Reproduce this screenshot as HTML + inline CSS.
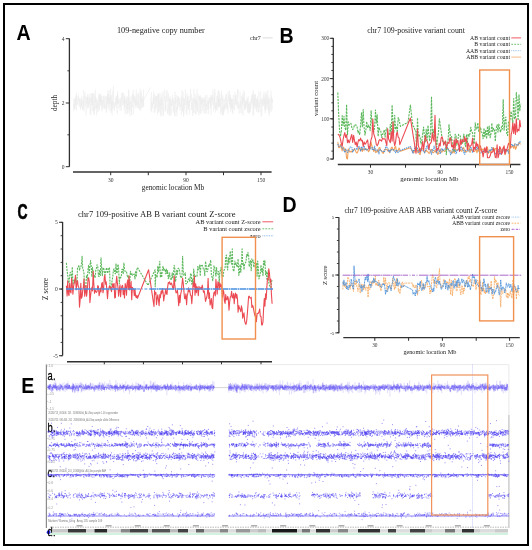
<!DOCTYPE html>
<html><head><meta charset="utf-8"><style>
html,body{margin:0;padding:0;background:#fff;}
svg{display:block;}
</style></head><body>
<svg width="532" height="550" viewBox="0 0 532 550">
<rect width="532" height="550" fill="#fff"/>
<rect x="4" y="4" width="524" height="541" fill="none" stroke="#000" stroke-width="2"/>
<text transform="translate(16.6,39.6) scale(0.91,1)" font-size="21.5" font-family="'Liberation Sans', sans-serif" font-weight="bold" fill="#000">A</text>
<text x="117" y="33.2" font-size="8.2" font-family="'Liberation Serif', serif" fill="#222" text-anchor="start" >109-negative copy number</text>
<text x="260.7" y="40" font-size="6" font-family="'Liberation Serif', serif" fill="#222" text-anchor="end" >chr7</text>
<line x1="262.6" y1="37.9" x2="272.7" y2="37.9" stroke="#dcdcdc" stroke-width="1" />
<polyline fill="none" stroke="#ebebeb" stroke-width=".4" stroke-linejoin="round"  points="73.5,104 73.7,111.1 73.8,101.1 74,97.9 74.1,100.1 74.3,107.5 74.5,102.8 74.6,109.5 74.8,99.9 74.9,99.3 75.1,109.3 75.3,99.2 75.4,103 75.6,97.7 75.7,102.3 75.9,106.1 76.1,95.5 76.2,99.2 76.4,92.6 76.5,110.5 76.7,101 76.9,101.3 77,95.9 77.2,103.9 77.3,103.3 77.5,104.7 77.7,104.1 77.8,99.7 78,102.2 78.1,104.8 78.3,94.5 78.5,100 78.6,97.4 78.8,98.3 78.9,100.6 79.1,98.3 79.3,98.4 79.4,107.1 79.6,99.5 79.7,101.9 79.9,103.1 80.1,102.8 80.2,99.1 80.4,102.9 80.5,109.6 80.7,102.3 80.9,107.7 81,103.1 81.2,99.2 81.3,97.3 81.5,106.5 81.7,96.3 81.8,102.9 82,105.5 82.1,101.5 82.3,101.8 82.5,110 82.6,106 82.8,110 82.9,99 83.1,103.6 83.3,100.1 83.4,108.3 83.6,96.3 83.7,90.1 83.9,101.5 84.1,111.4 84.2,108.5 84.4,95.6 84.5,98.4 84.7,95.4 84.9,92.1 85,100.1 85.2,106.3 85.3,95.7 85.5,101.8 85.7,100.8 85.8,100.6 86,101.2 86.1,115.4 86.3,100.3 86.5,97.1 86.6,104.3 86.8,101.9 86.9,101.5 87.1,96.7 87.3,102.4 87.4,94 87.6,108.6 87.7,97.5 87.9,102.4 88.1,106 88.2,100.7 88.4,108 88.5,105.9 88.7,105.5 88.9,95.8 89,104.3 89.2,93.7 89.3,100.8 89.5,102.2 89.7,97.8 89.8,100.9 90,114.2 90.1,98.2 90.3,99.3 90.5,103.6 90.6,105.1 90.8,115.4 90.9,101.4 91.1,93.6 91.3,105.2 91.4,97.1 91.6,102.1 91.7,102.7 91.9,93.1 92.1,103.9 92.2,110.7 92.4,93.7 92.5,105.8 92.7,103 92.9,99.4 93,111.4 93.2,93 93.3,114.4 93.5,113.5 93.7,107.2 93.8,106.9 94,93.4 94.1,106.4 94.3,110.1 94.5,106.6 94.6,115.2 94.8,94.5 94.9,109 95.1,110 95.3,89.4 95.4,101.1 95.6,101.7 95.7,97.4 95.9,108.2 96.1,99.7 96.2,102.2 96.4,98.4 96.5,115.2 96.7,105.5 96.9,109 97,102.9 97.2,107.5 97.3,102.6 97.5,107.9 97.7,100.3 97.8,112.3 98,109.7 98.1,100.5 98.3,100.9 98.5,95.3 98.6,93.7 98.8,111.1 98.9,99 99.1,97 99.3,96.3 99.4,109.8 99.6,94.9 99.7,101.4 99.9,99.2 100.1,93.3 100.2,106.3 100.4,95.4 100.5,102.9 100.7,98.6 100.9,104.9 101,94.4 101.2,101.8 101.3,96.7 101.5,96.2 101.7,109.4 101.8,99.9 102,111.3 102.1,102.3 102.3,100.2 102.5,99.9 102.6,105.8 102.8,100.9 102.9,101.7 103.1,96.2 103.3,108.6 103.4,106 103.6,104.5 103.7,99.6 103.9,95.3 104.1,107.4 104.2,96.7 104.4,101.8 104.5,105.3 104.7,109.2 104.9,106.8 105,108.8 105.2,100.1 105.3,99.3 105.5,96 105.7,107 105.8,105.1 106,107 106.1,112.3 106.3,110.2 106.5,96.5 106.6,112.6 106.8,106.7 106.9,97.2 107.1,97.1 107.3,106.9 107.4,94 107.6,96.1 107.7,103.8 107.9,90.3 108.1,101.2 108.2,94.5 108.4,109.2 108.5,94.6 108.7,101.6 108.9,104.5 109,94 109.2,90.6 109.3,102.2 109.5,104.6 109.7,97.4 109.8,111 110,97.3 110.1,97.9 110.3,103.5 110.5,98.4 110.6,88.7 110.8,104.3 110.9,113 111.1,95.3 111.3,107.1 111.4,102 111.6,111.3 111.7,95 111.9,101.2 112.1,115.6 112.2,102.1 112.4,102.9 112.5,101 112.7,108.5 112.9,90.8 113,104.4 113.2,98.9 113.3,92.3 113.5,86 113.7,99.7 113.8,109.4 114,102.7 114.1,105 114.3,111 114.5,108.4 114.6,103.3 114.8,102.7 114.9,102.2 115.1,102.7 115.3,106.7 115.4,105.4 115.6,103.6 115.7,97.1 115.9,105.2 116.1,98.9 116.2,108.2 116.4,95.9 116.5,101.8 116.7,102.5 116.9,95.6 117,111.5 117.2,110.1 117.3,114.4 117.5,91.3 117.7,104.5 117.8,93.4 118,103.8 118.1,102.2 118.3,102.9 118.5,97.8 118.6,101.1 118.8,101.6 118.9,108.7 119.1,104.2 119.3,102.5 119.4,102.1 119.6,99.6 119.7,100.5 119.9,100.8 120.1,110.7 120.2,98.4 120.4,107.3 120.5,106 120.7,103.1 120.9,103.6 121,97.2 121.2,101.4 121.3,102.8 121.5,110.4 121.7,93 121.8,102.2 122,99.5 122.1,99.2 122.3,93.1 122.5,105.1 122.6,102.9 122.8,100.7 122.9,94.6 123.1,92.1 123.3,101.5 123.4,100.5 123.6,104.9 123.7,101.4 123.9,103.1 124.1,94.2 124.2,109.6 124.4,95.7 124.5,107.1 124.7,98.5 124.9,105.5 125,113.3 125.2,100.9 125.3,99.4 125.5,103.5 125.7,102.5 125.8,97.3 126,104.9 126.1,113 126.3,114.7 126.5,101.4 126.6,108.4 126.8,104.2 126.9,96 127.1,96.7 127.3,109.2 127.4,97.8 127.6,113.9 127.7,110.4 127.9,103.8 128.1,105.4 128.2,112.7 128.4,89.4 128.5,99.4 128.7,105.6 128.9,90.4 129,110.2 129.2,107.5 129.3,97.6 129.5,98.1 129.7,107.5 129.8,116.4 130,101.4 130.1,111.3 130.3,104 130.5,100.9 130.6,102.3 130.8,103.6 130.9,95.9 131.1,101.2 131.3,112.2 131.4,115 131.6,102.8 131.7,114.8 131.9,104.5 132.1,99 132.2,95.2 132.4,106.9 132.5,106.2 132.7,101.7 132.9,93.6 133,100.6 133.2,90.2 133.3,105.8 133.5,114.2 133.7,107.3 133.8,98.4 134,94.9 134.1,102.2 134.3,101.6 134.5,96.5 134.6,103.1 134.8,96.5 134.9,108.3 135.1,108 135.3,108.1 135.4,100 135.6,105.2 135.7,101.8 135.9,96.8 136.1,106.3 136.2,89.5 136.4,95 136.5,104.7 136.7,101.5 136.9,103.6 137,107.7 137.2,93.5 137.3,98.4 137.5,103.4 137.7,104.5 137.8,100.5 138,107.9 138.1,103.6 138.3,94.1 138.5,97.7 138.6,106.7 138.8,104.9 138.9,92.6 139.1,109.5 139.3,105.6 139.4,109.5 139.6,105.3 139.7,101 139.9,96.6 140.1,97.7 140.2,88.6 140.4,110.8 140.5,99.1 140.7,103.4 140.9,93.8 141,100.5 141.2,90.5 141.3,96 141.5,108.1 141.7,104.3 141.8,97.1 142,108.3 142.1,100.1 142.3,102.2 142.5,99.7 142.6,98.2 142.8,106.3 142.9,97.2 143.1,95.8 143.3,102.2 143.4,107.1 143.6,89.2 143.7,102.5 143.9,106.2"/>
<polyline fill="none" stroke="#ebebeb" stroke-width=".4" stroke-linejoin="round"  points="150.5,97.9 150.7,102.3 150.8,110.9 151,106.3 151.1,103.8 151.3,97.8 151.5,91.9 151.6,112.3 151.8,102.2 151.9,106.5 152.1,104.7 152.3,108.3 152.4,103.4 152.6,105.7 152.7,103.4 152.9,102.4 153.1,98.6 153.2,103.6 153.4,94.6 153.5,104 153.7,91 153.9,95.2 154,112.5 154.2,111.9 154.3,102.6 154.5,101.4 154.7,94.1 154.8,107.1 155,112.7 155.1,106.2 155.3,109.1 155.5,105.3 155.6,97.4 155.8,109.5 155.9,96.1 156.1,101.4 156.3,95.7 156.4,107.1 156.6,104.7 156.7,104.5 156.9,98.5 157.1,95.8 157.2,99 157.4,98.8 157.5,114.5 157.7,108.6 157.9,100 158,92.9 158.2,112 158.3,94 158.5,103.4 158.7,104.6 158.8,112.9 159,94.7 159.1,99 159.3,107.2 159.5,101.4 159.6,100.8 159.8,111.4 159.9,92.5 160.1,95.3 160.3,95.7 160.4,104.2 160.6,104.1 160.7,115.4 160.9,97.4 161.1,116.4 161.2,105.5 161.4,99.2 161.5,105.7 161.7,105.5 161.9,93.2 162,106.1 162.2,110.2 162.3,99.5 162.5,98.7 162.7,101 162.8,106.4 163,114.8 163.1,91.1 163.3,116.1 163.5,112.6 163.6,107.5 163.8,108.9 163.9,107.6 164.1,103.3 164.3,96.5 164.4,98.8 164.6,98.8 164.7,89.4 164.9,93 165.1,106.2 165.2,112 165.4,97.8 165.5,110.1 165.7,104.6 165.9,110.6 166,102.4 166.2,96.2 166.3,97.6 166.5,91 166.7,93.6 166.8,102 167,97.3 167.1,89.9 167.3,101.9 167.5,113.9 167.6,109.2 167.8,112.3 167.9,108.8 168.1,98.4 168.3,100.7 168.4,93.3 168.6,96 168.7,114.3 168.9,113.1 169.1,103.1 169.2,111 169.4,98.6 169.5,116.1 169.7,97.8 169.9,96.5 170,96.1 170.2,110.1 170.3,114.8 170.5,98.4 170.7,98.8 170.8,106.2 171,100.8 171.1,106.7 171.3,115.2 171.5,104 171.6,105.7 171.8,99.5 171.9,100.4 172.1,105.2 172.3,100.2 172.4,95.1 172.6,101.7 172.7,97.5 172.9,103 173.1,104.9 173.2,112.8 173.4,98.3 173.5,107.6 173.7,106.4 173.9,111.4 174,106.9 174.2,100.7 174.3,110.1 174.5,116 174.7,110.3 174.8,99.1 175,91.6 175.1,116.3 175.3,110.7 175.5,97.1 175.6,103.4 175.8,101.4 175.9,103 176.1,94.8 176.3,99 176.4,112.5 176.6,107.7 176.7,108.7 176.9,116.3 177.1,114.7 177.2,98.8 177.4,103.8 177.5,109.4 177.7,96 177.9,109.4 178,97.6 178.2,105.3 178.3,102.2 178.5,95.9 178.7,100.7 178.8,99.8 179,100 179.1,106.4 179.3,105.9 179.5,99.5 179.6,97.8 179.8,104 179.9,102 180.1,110.4 180.3,104.2 180.4,106.9 180.6,102.3 180.7,101.6 180.9,97.9 181.1,97.8 181.2,97.3 181.4,114.9 181.5,100.3 181.7,106.4 181.9,90.2 182,101.5 182.2,96.2 182.3,111.1 182.5,106.3 182.7,111.8 182.8,106.6 183,91.4 183.1,101.2 183.3,106.2 183.5,116.6 183.6,97.7 183.8,108.6 183.9,114.7 184.1,104.7 184.3,106.5 184.4,109.2 184.6,99 184.7,104.7 184.9,97.9 185.1,98.9 185.2,99.2 185.4,89.1 185.5,103.3 185.7,104.9 185.9,95 186,113 186.2,109.8 186.3,106.4 186.5,100.6 186.7,102 186.8,115.1 187,114.5 187.1,93.6 187.3,103.4 187.5,96.9 187.6,106.7 187.8,107.8 187.9,104.5 188.1,101.9 188.3,109.8 188.4,96.2 188.6,103.4 188.7,110.3 188.9,101.4 189.1,100.3 189.2,105.7 189.4,100.1 189.5,106.9 189.7,114.5 189.9,107.2 190,95.8 190.2,96 190.3,101.9 190.5,88.7 190.7,93.5 190.8,96.8 191,100.1 191.1,93.6 191.3,96.5 191.5,96.8 191.6,110.2 191.8,103.1 191.9,109.9 192.1,101.1 192.3,97.8 192.4,102.1 192.6,116 192.7,107.5 192.9,102.5 193.1,102.8 193.2,99 193.4,108.7 193.5,112.8 193.7,92.1 193.9,89.1 194,99.9 194.2,106.4 194.3,113.5 194.5,101.8 194.7,98.9 194.8,102.6 195,93.6 195.1,95.5 195.3,106.8 195.5,99.9 195.6,110.2 195.8,114.6 195.9,106 196.1,96.8 196.3,113.9 196.4,106.1 196.6,100.6 196.7,106.4 196.9,104.7 197.1,89 197.2,110 197.4,101.6 197.5,112 197.7,101.6 197.9,101 198,100.2 198.2,93.7 198.3,100.6 198.5,102.3 198.7,105.2 198.8,115.3 199,105.9 199.1,96 199.3,100 199.5,95.8 199.6,112.9 199.8,110.6 199.9,108.2 200.1,100.4 200.3,100.9 200.4,95.2 200.6,112.9 200.7,114.2 200.9,98.8 201.1,113 201.2,96.7 201.4,97.9 201.5,104.4 201.7,104.1 201.9,97.8 202,103.2 202.2,104.6 202.3,98.6 202.5,103.2 202.7,111.2 202.8,104.2 203,99.1 203.1,102.2 203.3,97.6 203.5,103.9 203.6,107.1 203.8,103.9 203.9,113.5 204.1,110.5 204.3,99.9 204.4,103.5 204.6,97.1 204.7,98.1 204.9,99.8 205.1,113.8 205.2,100.4 205.4,110.8 205.5,99.6 205.7,94.6 205.9,105.9 206,103.5 206.2,107.2 206.3,103.6 206.5,110 206.7,114.2 206.8,105.6 207,95 207.1,101.8 207.3,102.1 207.5,101.2 207.6,109.8 207.8,107.1 207.9,100.5 208.1,109.4 208.3,107.9 208.4,101.3 208.6,114.2 208.7,101.9 208.9,97.7 209.1,104 209.2,103.3 209.4,100.5 209.5,99.5 209.7,98.2 209.9,102.2 210,99.6 210.2,97 210.3,107.2 210.5,108.7 210.7,100.1 210.8,106.6 211,94.9 211.1,114.7 211.3,95.8 211.5,100.4 211.6,100.8 211.8,99.8 211.9,100.2 212.1,98.5 212.3,105.1 212.4,95.1 212.6,99.1 212.7,100.4 212.9,89.4 213.1,95.4 213.2,96.5 213.4,102.4 213.5,111.2 213.7,105.4 213.9,97.3 214,98.4 214.2,97.7 214.3,104.8 214.5,91.9 214.7,108.9 214.8,100 215,88.8 215.1,104.3 215.3,112.6 215.5,105.5 215.6,108 215.8,103.2 215.9,108.9 216.1,109 216.3,102 216.4,110 216.6,103.4 216.7,103 216.9,95.8 217.1,101 217.2,111 217.4,95.7 217.5,105.9 217.7,106.2 217.9,103.9 218,91 218.2,102 218.3,108.4 218.5,98.5 218.7,106.1 218.8,90.1 219,106 219.1,99.1 219.3,107 219.5,92.9 219.6,100.5 219.8,101.3 219.9,106.7 220.1,97.7 220.3,99.3 220.4,114.2 220.6,98.2 220.7,98.8 220.9,101.1 221.1,111.8 221.2,108.7 221.4,90.6 221.5,98.8 221.7,93.5 221.9,104.9 222,113.1 222.2,106.8 222.3,115.6 222.5,98 222.7,101.6 222.8,95.3 223,115.3 223.1,107.6 223.3,105.9 223.5,114.4 223.6,111.4 223.8,99.2 223.9,106.6 224.1,111.9 224.3,105 224.4,105.8 224.6,104.4 224.7,109.7 224.9,99.9 225.1,98.5 225.2,107.8 225.4,109.1 225.5,96.8 225.7,100.5 225.9,93.5 226,105.6 226.2,103.1 226.3,108.5 226.5,106.2 226.7,94.4 226.8,104.6 227,107.2 227.1,104.9 227.3,107.9 227.5,99.6 227.6,110.2 227.8,107.3 227.9,113.7 228.1,91.3 228.3,91.5 228.4,98.7 228.6,100.9 228.7,95.2 228.9,95.6 229.1,96.5 229.2,100.6 229.4,104.4 229.5,90.6 229.7,107.3 229.9,97.6 230,97 230.2,106 230.3,102.1 230.5,94.5 230.7,112.1 230.8,98 231,103.8 231.1,103.5 231.3,109.8 231.5,100.1 231.6,107.7 231.8,98.6 231.9,108.3 232.1,98.5 232.3,100.6 232.4,112.4 232.6,104.1 232.7,103.1 232.9,114.2 233.1,104.4 233.2,98.3 233.4,95 233.5,103 233.7,108.4 233.9,108.8 234,99.5 234.2,99.2 234.3,103.4 234.5,102.6 234.7,110.4 234.8,101.9 235,91.9 235.1,100.2 235.3,100.4 235.5,95.4 235.6,104.1 235.8,97.8 235.9,105.6 236.1,101.6 236.3,94.7 236.4,95.4 236.6,96.3 236.7,104.4 236.9,100.8 237.1,102.8 237.2,108 237.4,107.9 237.5,89.4 237.7,96 237.9,96.9 238,89.3 238.2,109.1 238.3,101.8 238.5,102.6 238.7,108.7 238.8,106.9 239,106.2 239.1,114 239.3,104.6 239.5,103.7 239.6,103.7 239.8,107.6 239.9,99.8 240.1,91.8 240.3,101.9 240.4,107.6 240.6,102 240.7,101.2 240.9,113.1 241.1,100.9 241.2,95.9 241.4,98.8 241.5,100.9 241.7,113.7 241.9,113.3 242,107.4 242.2,97.3 242.3,104.3 242.5,93.8 242.7,103.2 242.8,98.9 243,105.6 243.1,115.6 243.3,97.2 243.5,98.1 243.6,101.1 243.8,90.4 243.9,105.6 244.1,105.3 244.3,100.2 244.4,91.9 244.6,110.2 244.7,103.9 244.9,108.2 245.1,109.8 245.2,99.8 245.4,106.7 245.5,101.2 245.7,108.4 245.9,108.7 246,102.5 246.2,108.3 246.3,103.1 246.5,101.7 246.7,101.1 246.8,104.3 247,97.8 247.1,103.4 247.3,102.2 247.5,100.6 247.6,111.9 247.8,99.3 247.9,112.9 248.1,96.2 248.3,104.8 248.4,106.9 248.6,113.9 248.7,104.2 248.9,107.9 249.1,104.1 249.2,104.1 249.4,113.7 249.5,102.4 249.7,108.4 249.9,112.1 250,106.1 250.2,101.8 250.3,111.9 250.5,100.8 250.7,102.2 250.8,108.5 251,109 251.1,98.9 251.3,100.7 251.5,95.2 251.6,103.2 251.8,102 251.9,100.7 252.1,98.9 252.3,100.5 252.4,94.5 252.6,105.3 252.7,93 252.9,92.5 253.1,115.8 253.2,91.2 253.4,90 253.5,97.6 253.7,114.6 253.9,97.1 254,107.5 254.2,103 254.3,94.1 254.5,104.4 254.7,107.8 254.8,94.4 255,105.6 255.1,104 255.3,101.7 255.5,94.3 255.6,108.8 255.8,106.1 255.9,98.4 256.1,97.9 256.3,109.9 256.4,98.7 256.6,103.6 256.7,112 256.9,99.9 257.1,104.2 257.2,102.7 257.4,107.6 257.5,96.2 257.7,107.3 257.9,98.9 258,102.1 258.2,112.9 258.3,106.7 258.5,112.1 258.7,102.7 258.8,98.2 259,91.4 259.1,105.9 259.3,107.1 259.5,102.5 259.6,106.2 259.8,102 259.9,112 260.1,109.6 260.3,99.7 260.4,102 260.6,95.8 260.7,91.3 260.9,103.3 261.1,116.6 261.2,100 261.4,100.9 261.5,99 261.7,103.1 261.9,115.6 262,110.3 262.2,100.6 262.3,104.3 262.5,101.6 262.7,97.9 262.8,106.6 263,99.7 263.1,99.9 263.3,95.3 263.5,98.4 263.6,105.9 263.8,94.1 263.9,91.4 264.1,104 264.3,101 264.4,103.7 264.6,96.7 264.7,109.3 264.9,98 265.1,113.2 265.2,93.4 265.4,97.1 265.5,111 265.7,99.6 265.9,104 266,109 266.2,91.6 266.3,101.5 266.5,102.5 266.7,104.7 266.8,94.6 267,107.4 267.1,109.4 267.3,96.5 267.5,95.5 267.6,104.3 267.8,99.1 267.9,90.2 268.1,110 268.3,108.4 268.4,100 268.6,113.5 268.7,103.2 268.9,98.6 269.1,103 269.2,97.1 269.4,115.9 269.5,104.5 269.7,99.6 269.9,100.2 270,111.2 270.2,107 270.3,105.5 270.5,105.2 270.7,105 270.8,99.7 271,90.5 271.1,112.1 271.3,97.6 271.5,101.2 271.6,95.3 271.8,100.7 271.9,105.2 272.1,110 272.3,99.1 272.4,102.5 272.6,100.6 272.7,98.7"/>
<polyline fill="none" stroke="#e4e4e4" stroke-width=".5" stroke-linejoin="round"  points="144,99 150.5,87.5"/>
<line x1="69.4" y1="38.4" x2="69.4" y2="166.8" stroke="#303030" stroke-width="1.3" />
<line x1="67.4" y1="70.8" x2="69.4" y2="70.8" stroke="#303030" stroke-width=".9" />
<line x1="67.4" y1="134.8" x2="69.4" y2="134.8" stroke="#303030" stroke-width=".9" />
<line x1="65.8" y1="38.7" x2="69.4" y2="38.7" stroke="#303030" stroke-width="1" />
<line x1="65.8" y1="103" x2="69.4" y2="103" stroke="#303030" stroke-width="1" />
<line x1="65.8" y1="166.7" x2="69.4" y2="166.7" stroke="#303030" stroke-width="1" />
<text x="64.6" y="40.6" font-size="5.5" font-family="'Liberation Serif', serif" fill="#333" text-anchor="end" >4</text>
<text x="64.6" y="104.9" font-size="5.5" font-family="'Liberation Serif', serif" fill="#333" text-anchor="end" >2</text>
<text x="64.6" y="168.6" font-size="5.5" font-family="'Liberation Serif', serif" fill="#333" text-anchor="end" >0</text>
<line x1="73" y1="172" x2="271.6" y2="172" stroke="#303030" stroke-width="1.4" />
<line x1="110.7" y1="172" x2="110.7" y2="175.2" stroke="#303030" stroke-width="1" />
<line x1="148.3" y1="172" x2="148.3" y2="175.2" stroke="#303030" stroke-width="1" />
<line x1="186" y1="172" x2="186" y2="175.2" stroke="#303030" stroke-width="1" />
<line x1="223.5" y1="172" x2="223.5" y2="175.2" stroke="#303030" stroke-width="1" />
<line x1="261" y1="172" x2="261" y2="175.2" stroke="#303030" stroke-width="1" />
<text x="110.7" y="181.6" font-size="5.5" font-family="'Liberation Serif', serif" fill="#333" text-anchor="middle" >30</text>
<text x="186" y="181.6" font-size="5.5" font-family="'Liberation Serif', serif" fill="#333" text-anchor="middle" >90</text>
<text x="261" y="181.6" font-size="5.5" font-family="'Liberation Serif', serif" fill="#333" text-anchor="middle" >150</text>
<text x="173" y="189.7" font-size="7.3" font-family="'Liberation Serif', serif" fill="#222" text-anchor="middle" >genomic location Mb</text>
<text transform="translate(54.5,103) rotate(-90)" font-size="7.2" font-family="'Liberation Serif', serif" fill="#222" text-anchor="middle" dominant-baseline="central">depth</text>
<text transform="translate(279.4,42.7) scale(0.91,1)" font-size="21.5" font-family="'Liberation Sans', sans-serif" font-weight="bold" fill="#000">B</text>
<text x="367.2" y="33.4" font-size="7.8" font-family="'Liberation Serif', serif" fill="#222" text-anchor="start" >chr7 109-positive variant count</text>
<text x="510" y="39.9" font-size="5.8" font-family="'Liberation Serif', serif" fill="#222" text-anchor="end" >AB variant count</text>
<line x1="511.3" y1="37.9" x2="521.1" y2="37.9" stroke="#ec4a52" stroke-width=".9" />
<text x="510" y="46.3" font-size="5.8" font-family="'Liberation Serif', serif" fill="#222" text-anchor="end" >B variant count</text>
<line x1="511.3" y1="44.3" x2="521.1" y2="44.3" stroke="#5cb85c" stroke-width=".9" stroke-dasharray="1.8,1.2"/>
<text x="510" y="52.7" font-size="5.8" font-family="'Liberation Serif', serif" fill="#222" text-anchor="end" >AAB variant count</text>
<line x1="511.3" y1="50.7" x2="521.1" y2="50.7" stroke="#78aee6" stroke-width=".9" stroke-dasharray="0.8,0.9"/>
<text x="510" y="59.1" font-size="5.8" font-family="'Liberation Serif', serif" fill="#222" text-anchor="end" >ABB variant count</text>
<line x1="511.3" y1="57.1" x2="521.1" y2="57.1" stroke="#f5b27a" stroke-width=".9" />
<polyline fill="none" stroke="#f2a05a" stroke-width="1.1" stroke-linejoin="round"  points="337.8,142.1 338.7,147.7 339.6,147.4 340.5,144.4 341.3,147.6 342.2,150.9 343.1,147.1 344,147.9 344.8,151.5 345.7,149 346.6,158.2 347.5,159 348.3,148.9 349.2,151 350.1,152.1 351,151.2 351.8,152 352.7,150.4 353.6,150.1 354.5,148.7 355.3,150.3 356.2,152.4 357.1,152.9 358,151.3 358.8,147.7 359.7,147.8 360.6,150.4 361.5,148.5 362.3,151.5 363.2,148.7 364.1,150.2 365,148.7 365.8,148.5 366.7,150 367.6,149.4 368.5,151.7 369.3,150.6 370.2,148.3 371.1,142.4 372,146.5 372.8,148.8 373.7,151.4 374.6,148.6 375.5,152.5 376.3,152.2 377.2,150.1 378.1,152.1 379,148 379.8,147.5 380.7,150.3 381.6,151.1 382.5,152.7 383.3,153.3 384.2,150.3 385.1,149.1 386,149.2 386.8,149.4 387.7,150.9 388.6,149.7 389.5,152.6 390.3,150.8 391.2,147.8 392.1,147.1 393,150 393.8,150.7 394.7,147.9 395.6,146.4 396.5,151.6 397.3,151.3 398.2,150.1 399.1,148 400.4,151.3 410.4,147.7 413.1,152.4 413.1,150.9 414,152.6 414.8,150.1 415.7,148.8 416.6,150.3 417.5,152.2 418.3,149.5 419.2,153.6 420.1,154.6 421,150.3 421.8,149.2 422.7,148.3 423.6,150.1 424.5,152.4 425.3,151.9 426.2,149.8 427.1,151.5 428,151.9 428.8,153.2 429.7,153.2 430.6,149.8 431.5,149.4 432.3,152.1 433.2,152.8 434.1,152.1 435,149.9 435.8,152.3 436.7,151.3 437.6,154.4 438.5,153.8 439.3,150.7 440.2,148.9 441.1,152 442,152.2 442.8,149.6 443.7,150.9 444.6,151.5 445.5,149.9 446.3,149.9 447.2,148.4 448.1,148.5 449,150.9 449.8,150.8 450.7,150.7 451.6,152.9 452.5,152.9 453.3,149.5 454.2,153 455.1,149.5 456,149.7 456.8,150.5 457.7,149.6 458.6,149.4 459.5,148.1 460.3,150.5 461.2,150.9 462.1,151.1 463,147.4 463.8,148 464.7,151.4 465.6,151.4 466.5,152 467.3,151 468.2,150.3 469.1,146.5 470,152.5 470.8,149.4 471.7,149.5 472.6,151.5 473.5,151.1 474.3,151.6 475.2,150.8 476.1,148.9 477,152.8 477.8,149 478.7,151.1 479.6,148.7 480.5,149.9 481.3,148.8 482.2,149.6 483.1,148.9 484,150.5 484.8,152.5 485.7,150.5 486.6,149.8 487.5,147.1 488.3,153.4 489.2,152.2 490.1,149.6 491,152.8 491.8,152 492.7,147.7 493.6,147.6 494.5,151.5 495.3,148.7 496.2,148.2 497.1,148.8 498,149.6 498.8,150.1 499.7,152.1 500.6,152.1 501.5,149.9 502.3,150.3 503.2,147.4 504.1,150.3 505,154.7 505.8,152.5 506.7,150.7 507.6,150 508.5,149.9 509.3,150.3 510.2,145.6 511.1,147.7 512,145.7 512.8,146.7 513.7,148.3 514.6,144 515.5,149.3 516.3,147.8 517.2,144.8 518.1,145.1 519,143 519.8,143.6 520.7,144.2"/>
<polyline fill="none" stroke="#4a90d9" stroke-width="1.1" stroke-linejoin="round" stroke-dasharray="1.2,0.8" points="337.8,144.1 338.7,146.4 339.6,146.1 340.5,146 341.3,145.8 342.2,148.4 343.1,148.2 344,150.9 344.8,152.5 345.7,149.4 346.6,149.6 347.5,152.3 348.3,151.8 349.2,150.2 350.1,147 351,147 351.8,147.4 352.7,152 353.6,150.4 354.5,149 355.3,148.7 356.2,148.6 357.1,149.7 358,146.5 358.8,146.1 359.7,148.7 360.6,151 361.5,146.5 362.3,149.6 363.2,147.5 364.1,145.7 365,150 365.8,149.2 366.7,150.1 367.6,148.9 368.5,148.8 369.3,146 370.2,147.5 371.1,149 372,147.5 372.8,149.5 373.7,150.2 374.6,146 375.5,150 376.3,150.6 377.2,149.9 378.1,151.6 379,153.9 379.8,149.1 380.7,150.9 381.6,151 382.5,150.7 383.3,151.7 384.2,152.2 385.1,150.2 386,145.7 386.8,147.3 387.7,147.7 388.6,151.7 389.5,150.4 390.3,152 391.2,149.1 392.1,150 393,149.8 393.8,149.9 394.7,150.8 395.6,152.7 396.5,149.7 397.3,152.1 398.2,152.5 399.1,151.1 400.4,150.5 410.4,146.5 413.1,153.3 413.1,150.5 414,151 414.8,146.9 415.7,147.5 416.6,146.7 417.5,148.8 418.3,152.1 419.2,152.5 420.1,149.5 421,148.1 421.8,150.7 422.7,150.6 423.6,149.7 424.5,152.9 425.3,151.5 426.2,147.6 427.1,145.5 428,148.8 428.8,146.5 429.7,149.8 430.6,151.4 431.5,154.3 432.3,149.6 433.2,150.5 434.1,146.1 435,148.3 435.8,149.2 436.7,152.9 437.6,148.3 438.5,150.1 439.3,150.4 440.2,154 441.1,149.6 442,148.2 442.8,150.6 443.7,150.1 444.6,149.4 445.5,148.2 446.3,149.3 447.2,146.9 448.1,149.6 449,151 449.8,151.2 450.7,154.8 451.6,152.9 452.5,149.2 453.3,149.4 454.2,151.3 455.1,149.9 456,153.6 456.8,151.7 457.7,149.7 458.6,148.8 459.5,151.1 460.3,148.9 461.2,146.5 462.1,149.8 463,148.8 463.8,152.5 464.7,154.3 465.6,150.4 466.5,150.2 467.3,149.8 468.2,151.1 469.1,151 470,149 470.8,146.9 471.7,149.6 472.6,152.9 473.5,148.8 474.3,148.8 475.2,148.6 476.1,149.5 477,146 477.8,148.9 478.7,149.3 479.6,153.7 480.5,152.9 481.3,152.8 482.2,151.6 483.1,150.6 484,152.1 484.8,148.3 485.7,152 486.6,152 487.5,150.8 488.3,153 489.2,150.5 490.1,149.6 491,150.9 491.8,147.5 492.7,149.6 493.6,149.9 494.5,152.1 495.3,154 496.2,152.7 497.1,151.8 498,151.7 498.8,149.5 499.7,154.3 500.6,153.6 501.5,154.5 502.3,149.3 503.2,151.1 504.1,151.5 505,152.6 505.8,149.4 506.7,150.7 507.6,150 508.5,153.3 509.3,147.7 510.2,146.5 511.1,145.6 512,144 512.8,145.7 513.7,146 514.6,144.3 515.5,144 516.3,144.9 517.2,144.4 518.1,145 519,142.8 519.8,141.5 520.7,142.5"/>
<polyline fill="none" stroke="#5cb85c" stroke-width="1.1" stroke-linejoin="round" stroke-dasharray="2.2,1" points="337.8,92.5 338.7,114.7 339.6,130.8 340.5,136.4 341.3,131.9 342.2,115.6 343.1,125.7 344,116.4 344.8,127.2 345.7,130.2 346.6,104.6 347.5,134.8 348.3,121.7 349.2,125.1 350.1,123.6 351,123.3 351.8,127.5 352.7,129.6 353.6,128.3 354.5,124.7 355.3,125.1 356.2,125 357.1,126.9 358,132.8 358.8,131.3 359.7,134.9 360.6,124.4 361.5,112.7 362.3,126.8 363.2,109.5 364.1,127.5 365,135.1 365.8,130.5 366.7,121.7 367.6,127.9 368.5,125 369.3,127.2 370.2,130.6 371.1,110.8 372,123.8 372.8,130.6 373.7,132 374.6,127.2 375.5,110 376.3,123.3 377.2,114.7 378.1,136.3 379,127.3 379.8,129.9 380.7,130.4 381.6,137.5 382.5,133.9 383.3,133.9 384.2,129.8 385.1,137.1 386,130 386.8,127.8 387.7,134.5 388.6,133.3 389.5,134.3 390.3,124.2 391.2,134.7 392.1,105 393,122.7 393.8,133.1 394.7,115.2 395.6,129.4 396.5,126 397.3,132.5 398.2,117.5 399.1,120 400.4,126.4 408,122.3 410.4,105 412.2,121.6 413.1,126.3 414,127 414.8,129.6 415.7,129.6 416.6,149.3 417.5,117.8 418.3,136.3 419.2,134.9 420.1,136.9 421,144 421.8,140.9 422.7,133.2 423.6,127 424.5,137.5 425.3,141.9 426.2,129.3 427.1,139.9 428,125.4 428.8,133.7 429.7,141.3 430.6,132.4 431.5,96.5 432.3,134.8 433.2,129.6 434.1,137.2 435,128.8 435.8,137.7 436.7,147 437.6,137.3 438.5,132.4 439.3,118.7 440.2,124.7 441.1,130.9 442,138 442.8,141.5 443.7,141.1 444.6,144.2 445.5,141.8 446.3,154.6 447.2,141.9 448.1,140 449,124.5 449.8,131.2 450.7,140.3 451.6,136.5 452.5,146 453.3,144.7 454.2,151.8 455.1,134.2 456,134.7 456.8,145.2 457.7,141.3 458.6,134.3 459.5,135.3 460.3,136.1 461.2,143.6 462.1,144.1 463,140 463.8,134.1 464.7,142.8 465.6,146.7 466.5,134.4 467.3,143.4 468.2,133.9 469.1,136.4 470,133.3 470.8,127.4 471.7,132.1 472.6,132.7 473.5,142.8 474.3,144 475.2,122.7 476.1,129.3 477,128.3 477.8,122.7 478.7,131.2 479.6,132.6 480.5,127.3 481.3,131.7 482.2,133 483.1,138.8 484,128 484.8,137.1 485.7,129.8 486.6,138.9 487.5,126.2 488.3,135.2 489.2,126.1 490.1,137.8 491,133.7 491.8,122.9 492.7,131.5 493.6,128.3 494.5,130.4 495.3,141.4 496.2,128.6 497.1,124.5 498,132.2 498.8,124.1 499.7,129.8 500.6,132.3 501.5,126.7 502.3,129.2 503.2,99.5 504.1,130.2 505,121 505.8,117 506.7,133.2 507.6,135.6 508.5,122.1 509.3,123.5 510.2,117.7 511.1,111.2 512,118 512.8,123.2 513.7,98.5 514.6,118.8 515.5,118 516.3,92.5 517.2,101 518.1,120.6 519,94.5 519.8,110.6 520.7,103.8"/>
<polyline fill="none" stroke="#ec4a52" stroke-width="1.1" stroke-linejoin="round"  points="337.8,134.1 338.7,134.8 339.6,136.2 340.5,139.4 341.3,143.1 342.2,146.3 343.1,139.5 344,135.4 344.8,132.6 345.7,137.4 346.6,134.7 347.5,142.7 348.3,140 349.2,142.8 350.1,140.1 351,136.8 351.8,134.5 352.7,142.5 353.6,135.4 354.5,140.6 355.3,144.6 356.2,142.1 357.1,146.9 358,142.1 358.8,139.5 359.7,140.8 360.6,138.1 361.5,140.9 362.3,140.4 363.2,146.4 364.1,141.9 365,144.3 365.8,143.4 366.7,141.6 367.6,139.9 368.5,147.2 369.3,149 370.2,144.2 371.1,139.5 372,136.8 372.8,118.7 373.7,133.6 374.6,136.3 375.5,139.3 376.3,144.5 377.2,145.7 378.1,144.1 379,140.5 379.8,139.6 380.7,140.3 381.6,141.2 382.5,138.1 383.3,139 384.2,138.9 385.1,138.8 386,142.5 386.8,145.6 387.7,128.8 388.6,138.8 389.5,141.1 390.3,142.7 391.2,131.7 392.1,141.3 393,121.9 393.8,140.1 394.7,145.7 395.6,142.1 396.5,134 397.3,132 398.2,137.1 399.1,137.9 399.8,144.6 410.4,118 416,153.5 417.5,129.3 418.3,145.6 419.2,148.1 420.1,151.8 421,149.6 421.8,147.3 422.7,141.3 423.6,150.3 424.5,142.1 425.3,135.6 426.2,139.7 427.1,141.1 428,143.9 428.8,149.7 429.7,144.2 430.6,143.2 431.5,141.4 432.3,133.1 433.2,138.4 434.1,141.3 435,115.2 435.8,143.7 436.7,151 437.6,148.5 438.5,148.9 439.3,143.4 440.2,146 441.1,138.1 442,136.7 442.8,139.4 443.7,145.1 444.6,142.6 445.5,141 446.3,148.5 447.2,144.8 448.1,142.2 449,143.5 449.8,138.1 450.7,138 451.6,146.7 452.5,145.2 453.3,148.9 454.2,139.8 455.1,148.6 456,138.5 456.8,142.9 457.7,140.6 458.6,144.6 459.5,151.4 460.3,139.8 461.2,144.5 462.1,139.4 463,141.8 463.8,141.6 464.7,136.6 465.6,141.4 466.5,138.4 467.3,149.7 468.2,143.1 469.1,145.9 470,146.3 470.8,145.8 471.7,144.2 472.6,138.2 473.5,151.3 474.3,147.2 475.2,149.1 476.1,141.8 477,146.3 477.8,144 478.7,148.8 479.6,147.2 480.5,145.9 481.3,151.2 482.2,150.9 483.1,157 484,151.6 484.8,147.7 485.7,152.5 486.6,146.9 487.5,157.8 488.3,157.8 489.2,157.8 490.1,156.1 491,152.7 491.8,152.2 492.7,152 493.6,148.6 494.5,152.7 495.3,157.3 496.2,157.8 497.1,144.8 498,157.8 498.8,154.9 499.7,146.6 500.6,148.2 501.5,154.3 502.3,152.6 503.2,148.5 504.1,145.8 505,154 505.8,149.4 506.7,150.2 507.6,146.9 508.5,143.3 509.3,144.5 510.2,148.2 511.1,134.8 512,131.1 512.8,122.7 513.7,133.4 514.6,123.7 515.5,134.4 516.3,118.7 517.2,131.9 518.1,129.4 519,130.8 519.8,120 520.7,127.2"/>
<line x1="333.3" y1="38.1" x2="333.3" y2="159.2" stroke="#303030" stroke-width="1.3" />
<line x1="331.3" y1="38.3" x2="333.3" y2="38.3" stroke="#303030" stroke-width=".9" />
<line x1="331.3" y1="46.4" x2="333.3" y2="46.4" stroke="#303030" stroke-width=".9" />
<line x1="331.3" y1="54.4" x2="333.3" y2="54.4" stroke="#303030" stroke-width=".9" />
<line x1="331.3" y1="62.5" x2="333.3" y2="62.5" stroke="#303030" stroke-width=".9" />
<line x1="331.3" y1="70.5" x2="333.3" y2="70.5" stroke="#303030" stroke-width=".9" />
<line x1="331.3" y1="78.6" x2="333.3" y2="78.6" stroke="#303030" stroke-width=".9" />
<line x1="331.3" y1="86.7" x2="333.3" y2="86.7" stroke="#303030" stroke-width=".9" />
<line x1="331.3" y1="94.7" x2="333.3" y2="94.7" stroke="#303030" stroke-width=".9" />
<line x1="331.3" y1="102.8" x2="333.3" y2="102.8" stroke="#303030" stroke-width=".9" />
<line x1="331.3" y1="110.8" x2="333.3" y2="110.8" stroke="#303030" stroke-width=".9" />
<line x1="331.3" y1="118.9" x2="333.3" y2="118.9" stroke="#303030" stroke-width=".9" />
<line x1="331.3" y1="127" x2="333.3" y2="127" stroke="#303030" stroke-width=".9" />
<line x1="331.3" y1="135" x2="333.3" y2="135" stroke="#303030" stroke-width=".9" />
<line x1="331.3" y1="143.1" x2="333.3" y2="143.1" stroke="#303030" stroke-width=".9" />
<line x1="331.3" y1="151.1" x2="333.3" y2="151.1" stroke="#303030" stroke-width=".9" />
<line x1="331.3" y1="159.2" x2="333.3" y2="159.2" stroke="#303030" stroke-width=".9" />
<line x1="329.7" y1="38.3" x2="333.3" y2="38.3" stroke="#303030" stroke-width="1" />
<line x1="329.7" y1="78.6" x2="333.3" y2="78.6" stroke="#303030" stroke-width="1" />
<line x1="329.7" y1="118.8" x2="333.3" y2="118.8" stroke="#303030" stroke-width="1" />
<line x1="329.7" y1="159" x2="333.3" y2="159" stroke="#303030" stroke-width="1" />
<text x="329.1" y="40.2" font-size="5.2" font-family="'Liberation Serif', serif" fill="#333" text-anchor="end" >300</text>
<text x="329.1" y="80.5" font-size="5.2" font-family="'Liberation Serif', serif" fill="#333" text-anchor="end" >200</text>
<text x="329.1" y="120.7" font-size="5.2" font-family="'Liberation Serif', serif" fill="#333" text-anchor="end" >100</text>
<text x="329.1" y="160.9" font-size="5.2" font-family="'Liberation Serif', serif" fill="#333" text-anchor="end" >0</text>
<line x1="337.8" y1="164.5" x2="520.4" y2="164.5" stroke="#303030" stroke-width="1.4" />
<line x1="370.5" y1="164.5" x2="370.5" y2="167.7" stroke="#303030" stroke-width="1" />
<line x1="405.5" y1="164.5" x2="405.5" y2="167.7" stroke="#303030" stroke-width="1" />
<line x1="440.5" y1="164.5" x2="440.5" y2="167.7" stroke="#303030" stroke-width="1" />
<line x1="475.5" y1="164.5" x2="475.5" y2="167.7" stroke="#303030" stroke-width="1" />
<line x1="510.5" y1="164.5" x2="510.5" y2="167.7" stroke="#303030" stroke-width="1" />
<text x="370.5" y="174" font-size="5.4" font-family="'Liberation Serif', serif" fill="#333" text-anchor="middle" >30</text>
<text x="440.3" y="174" font-size="5.4" font-family="'Liberation Serif', serif" fill="#333" text-anchor="middle" >90</text>
<text x="509.5" y="174" font-size="5.4" font-family="'Liberation Serif', serif" fill="#333" text-anchor="middle" >150</text>
<text x="429.3" y="181" font-size="6.8" font-family="'Liberation Serif', serif" fill="#222" text-anchor="middle" >genomic location Mb</text>
<text transform="translate(315,98.5) rotate(-90)" font-size="6.7" font-family="'Liberation Serif', serif" fill="#222" text-anchor="middle" dominant-baseline="central">variant count</text>
<rect x="479.7" y="70" width="29.8" height="94.5" fill="none" stroke="#f0904e" stroke-width="1.4"/>
<text transform="translate(17.4,218.6) scale(0.65,1)" font-size="21.5" font-family="'Liberation Sans', sans-serif" font-weight="bold" fill="#000" stroke="#000" stroke-width="0.6">C</text>
<text x="78" y="217.4" font-size="8.6" font-family="'Liberation Serif', serif" fill="#222" text-anchor="start" >chr7 109-positive AB B variant count Z-score</text>
<text x="260.7" y="223.8" font-size="6.4" font-family="'Liberation Serif', serif" fill="#222" text-anchor="end" >AB variant count Z-score</text>
<line x1="262.4" y1="221.8" x2="273.2" y2="221.8" stroke="#ec4a52" stroke-width=".9" />
<text x="260.7" y="230.8" font-size="6.4" font-family="'Liberation Serif', serif" fill="#222" text-anchor="end" >B variant count zscore</text>
<line x1="262.4" y1="228.8" x2="273.2" y2="228.8" stroke="#5cb85c" stroke-width=".9" stroke-dasharray="1.8,1.2"/>
<text x="260.7" y="237.8" font-size="6.4" font-family="'Liberation Serif', serif" fill="#222" text-anchor="end" >zero</text>
<line x1="262.4" y1="235.8" x2="273.2" y2="235.8" stroke="#6aa4e0" stroke-width=".9" stroke-dasharray="0.8,0.9"/>
<polyline fill="none" stroke="#5cb85c" stroke-width="1.1" stroke-linejoin="round" stroke-dasharray="2,1" points="66.4,262.9 67.1,271.4 67.7,274.8 68.4,281.8 69,283 69.7,275.2 70.3,272.2 71,274.1 71.6,279.2 72.3,267 72.9,284.8 73.6,281.8 74.2,280 74.9,282.7 75.5,277.9 76.2,280.7 76.9,282.7 77.5,268.1 78.2,267.8 78.8,264.9 79.5,270.5 80.1,267.5 80.8,267.3 81.4,264.6 82.1,256.4 82.7,268.3 83.4,270.7 84,273.6 84.7,293 85.3,292.8 86,283.1 86.6,275.1 87.3,278.6 88,270 88.6,265.3 89.3,273.2 89.9,265.9 90.6,260.6 91.2,265.9 91.9,276.9 92.5,267.2 93.2,272.6 93.8,276.2 94.5,274.9 95.1,278.2 95.8,270.1 96.4,268.2 97.1,264.7 97.8,266.9 98.4,276.1 99.1,276.5 99.7,270.4 100.4,275.4 101,257.8 101.7,268.7 102.3,275.6 103,268.4 103.6,267.5 104.3,271.8 104.9,274.9 105.6,272.3 106.2,268.8 106.9,267.6 107.5,273.4 108.2,271.6 108.9,268.4 109.5,267.4 110.2,289.9 110.8,286.9 111.5,284.9 112.1,280.7 112.8,276.4 113.4,270 114.1,268.9 114.7,272.9 115.4,273.7 116,263.8 116.7,273.4 117.3,272.3 118,264.3 118.6,267.9 119.3,283.8 120,276.5 120.6,277.8 121.3,276.7 121.9,269.3 122.6,269.4 123.2,273.8 123.9,263 124.5,269.4 125.2,271.6 125.8,271.4 126.5,271.6 127.1,275.2 127.8,277.5 128.4,275.7 129.1,280.7 129.7,284.8 130.4,271.3 131.1,274.5 131.7,273 132.4,275.3 133,274.6 133.7,274.4 134.3,274 135,279 135.6,270.9 136.3,276.9 136.9,269.3 137.5,267.5 148,285.3 155.1,269.8 155.2,286.7 155.9,274.9 156.5,276.9 157.2,277 157.8,266.3 158.5,272.4 159.1,266.7 159.8,261.4 160.4,277.5 161.1,272.9 161.7,277.4 162.4,268.6 163.1,266.2 163.7,270.5 164.4,269.2 165,268.9 165.7,273.8 166.3,269 167,273.5 167.6,270.6 168.3,278.6 168.9,275.9 169.6,272.9 170.2,278.7 170.9,279.1 171.5,280 172.2,272.9 172.8,278.3 173.5,273.9 174.2,265.4 174.8,268.5 175.5,281.7 176.1,277.3 176.8,269.8 177.4,274.4 178.1,268.2 178.7,268.3 179.4,269.5 180,274.2 180.7,277.7 181.3,277.8 182,276 182.6,256.2 183.3,271.4 183.9,275.3 184.6,274.9 185.3,272.8 185.9,283.8 186.6,283.7 187.2,283.8 187.9,280.4 188.5,279.2 189.2,278.6 189.8,282 190.5,274.4 191.1,273.3 191.8,284.2 192.4,279.3 193.1,283.9 193.7,269.1 194.4,275.3 195,276.7 195.7,276 196.4,276.8 197,276.3 197.7,266.5 198.3,269.9 199,267.7 199.6,265 200.3,276.1 200.9,265.4 201.6,266.4 202.2,265.3 202.9,266.8 203.5,270.1 204.2,270 204.8,275.6 205.5,261.3 206.1,265 206.8,271.5 207.5,271.7 208.1,267.5 208.8,264.3 209.4,266.1 210.1,263 210.7,260.1 211.4,274.9 212,277 212.7,280.7 213.3,276.1 214,265.9 214.6,266.1 215.3,272.5 215.9,276.2 216.6,267.5 217.2,274 217.9,274 218.6,271.5 219.2,283 219.9,272.3 220.5,269.8 221.2,267.1 221.8,274.9 222.5,276.9 223.1,276.5 223.8,271 224.4,269.3 225.1,268 225.7,257.2 226.4,255 227,265.8 227.7,270 228.3,257.5 229,263.7 229.7,256.2 230.3,251.2 231,261.5 231.6,264.2 232.3,248.9 232.9,268.4 233.6,271.5 234.2,269.4 234.9,261 235.5,265 236.2,262.9 236.8,267.1 237.5,266 238.1,259 238.8,275.4 239.5,272.7 240.1,264.3 240.8,272.1 241.4,263.7 242.1,248.9 242.7,265.2 243.4,263 244,269.8 244.7,263.3 245.3,262.8 246,261.9 246.6,254.6 247.3,256.6 247.9,252.3 248.6,254.7 249.2,266.6 249.9,263.3 250.6,260.5 251.2,270.7 251.9,258.8 252.5,260.9 253.2,260.1 253.8,267.3 254.5,264.7 255.1,262.2 255.8,264.8 256.4,263.6 257.1,276.1 257.7,261 258.4,269 259,278.9 259.7,276.1 260.3,274.1 261,265 261.7,271.6 262.3,268.5 263,275.6 263.6,261.1 264.3,265.5 264.9,260.2 265.6,274.6 266.2,271.1 266.9,279.2 267.5,273.7 268.2,270.6 268.8,282.8 269.5,285.5 270.1,286.9 270.8,287.6 271.4,282.2 272.1,280"/>
<polyline fill="none" stroke="#ec4a52" stroke-width="1.1" stroke-linejoin="round"  points="66.4,285.8 67.1,296 67.7,280.9 68.4,293.8 69,295.5 69.7,283.3 70.3,291.3 71,293 71.6,278.2 72.3,285.3 72.9,294.2 73.6,286.1 74.2,283.5 74.9,280 75.5,275.2 76.2,289.9 76.9,283.6 77.5,280.5 78.2,286.3 78.8,287.1 79.5,307.2 80.1,300.4 80.8,283.3 81.4,298.3 82.1,296.6 82.7,290.9 83.4,286.8 84,278.7 84.7,296.3 85.3,292.2 86,285.6 86.6,296.2 87.3,290 88,279.5 88.6,277.7 89.3,281.7 89.9,302.6 90.6,295.8 91.2,289.9 91.9,287.4 92.5,291 93.2,271.4 93.8,283.8 94.5,293.3 95.1,289.7 95.8,291.7 96.4,292.4 97.1,291.3 97.8,285.6 98.4,286.6 99.1,295.8 99.7,293 100.4,288.1 101,291.9 101.7,283.5 102.3,282.4 103,292.8 103.6,288.9 104.3,277.2 104.9,275.1 105.6,284.1 106.2,281.9 106.9,290.6 107.5,298.8 108.2,289.9 108.9,288.2 109.5,285.8 110.2,288.2 110.8,287 111.5,291.6 112.1,287.4 112.8,283.5 113.4,287.4 114.1,283.6 114.7,297.9 115.4,297.6 116,283.8 116.7,276.4 117.3,282.6 118,287.3 118.6,296.3 119.3,289.9 120,284.8 120.6,296.6 121.3,288.8 121.9,286.1 122.6,285.3 123.2,294.6 123.9,288.1 124.5,297.9 125.2,283.6 125.8,286.1 126.5,295.1 127.1,283.3 127.8,279.8 128.4,289.4 129.1,275.8 129.7,289.9 130.4,287.5 131.1,281.2 131.7,299.8 132.4,287.3 133,288.7 133.7,289 134.3,295.6 135,289.6 135.6,296.1 136.3,297.7 136.9,295.2 137.5,298.2 148.6,269.8 154,306.5 154.6,290.6 155.2,294.2 155.9,292.5 156.5,304.6 157.2,298 157.8,294.9 158.5,300.4 159.1,305.6 159.8,294.6 160.4,297.7 161.1,291 161.7,293.8 162.4,288.6 163.1,292.4 163.7,301 164.4,295.8 165,294.6 165.7,288.9 166.3,293.1 167,294.5 167.6,287.3 168.3,282.6 168.9,283.2 169.6,281.7 170.2,284.7 170.9,283.9 171.5,283 172.2,285.5 172.8,288.5 173.5,289.3 174.2,275.7 174.8,284.9 175.5,290.1 176.1,293 176.8,292.1 177.4,290 178.1,297.6 178.7,305.8 179.4,295.2 180,302.6 180.7,294.1 181.3,291.4 182,284.1 182.6,278.1 183.3,283.6 183.9,291.4 184.6,298.4 185.3,298.8 185.9,293.9 186.6,304.8 187.2,296 187.9,293 188.5,287.8 189.2,291.7 189.8,290.6 190.5,295.3 191.1,295.5 191.8,303.6 192.4,295.2 193.1,283.1 193.7,286.7 194.4,275.7 195,295.3 195.7,283.8 196.4,292.7 197,286.6 197.7,288.4 198.3,295.7 199,286.4 199.6,288.9 200.3,288.9 200.9,287.2 201.6,289.4 202.2,285 202.9,288.5 203.5,292.3 204.2,290.9 204.8,294.8 205.5,301.4 206.1,299 206.8,297 207.5,293 208.1,278.2 208.8,298.4 209.4,292.9 210.1,305 210.7,302.7 211.4,298.5 212,307.5 212.7,308.6 213.3,296.8 214,292.5 214.6,291.9 215.3,295.9 215.9,279.4 216.6,287 217.2,294.3 217.9,281.7 218.6,283.1 219.2,289.7 219.9,283.1 220.5,287 221.2,284.6 221.8,288 222.5,297.5 223.1,289.7 223.8,292.1 224.4,300.8 225.1,303.4 225.7,294.5 226.4,299.7 227,299.8 227.7,296.4 228.3,298.6 229,310.1 229.7,301.8 230.3,297.1 231,296 231.6,291.4 232.3,297.6 232.9,298 233.6,293.5 234.2,303.7 234.9,295.7 235.5,293 236.2,298.2 236.8,294.3 237.5,299.2 238.1,312.2 238.8,305.6 239.5,308.3 240.1,309.3 240.8,311.7 241.4,305.8 242.1,308.8 242.7,318.1 243.4,315 244,312.8 244.7,321.2 245.3,323.3 246,324.4 246.6,321.4 247.3,314.3 247.9,306.3 248.6,296.7 249.2,296.1 249.9,297.9 250.6,298.1 251.2,297.2 251.9,307.5 252.5,305.3 253.2,306.9 253.8,310.5 254.5,314.1 255.1,316.1 255.8,315.6 256.4,321.6 257.1,313.4 257.7,313.6 258.4,313.2 259,311.7 259.7,309 260.3,316.2 261,316.3 261.7,325 262.3,325 263,321.7 263.6,308.5 264.3,298.5 264.9,306.3 265.6,293.8 266.2,299.1 266.9,286.6 267.5,278.5 268.2,279.1 268.8,268.8 269.5,273.7 270.1,282.2 270.8,279 271.4,293.7 272.1,303.7"/>
<line x1="66" y1="289" x2="137.4" y2="289" stroke="#4a90e2" stroke-width="1.6" stroke-dasharray="7,0.5,1,0.5"/>
<line x1="137.4" y1="289" x2="149.5" y2="289" stroke="#4a90e2" stroke-width="1.1" stroke-dasharray="3,1.5,1,1.5"/>
<line x1="149.5" y1="289" x2="273" y2="289" stroke="#4a90e2" stroke-width="1.6" stroke-dasharray="7,0.5,1,0.5"/>
<line x1="62.6" y1="222" x2="62.6" y2="355.5" stroke="#303030" stroke-width="1.3" />
<line x1="60.6" y1="222.3" x2="62.6" y2="222.3" stroke="#303030" stroke-width=".9" />
<line x1="60.6" y1="235.7" x2="62.6" y2="235.7" stroke="#303030" stroke-width=".9" />
<line x1="60.6" y1="249" x2="62.6" y2="249" stroke="#303030" stroke-width=".9" />
<line x1="60.6" y1="262.4" x2="62.6" y2="262.4" stroke="#303030" stroke-width=".9" />
<line x1="60.6" y1="275.7" x2="62.6" y2="275.7" stroke="#303030" stroke-width=".9" />
<line x1="60.6" y1="289.1" x2="62.6" y2="289.1" stroke="#303030" stroke-width=".9" />
<line x1="60.6" y1="302.4" x2="62.6" y2="302.4" stroke="#303030" stroke-width=".9" />
<line x1="60.6" y1="315.8" x2="62.6" y2="315.8" stroke="#303030" stroke-width=".9" />
<line x1="60.6" y1="329.1" x2="62.6" y2="329.1" stroke="#303030" stroke-width=".9" />
<line x1="60.6" y1="342.4" x2="62.6" y2="342.4" stroke="#303030" stroke-width=".9" />
<line x1="60.6" y1="355.8" x2="62.6" y2="355.8" stroke="#303030" stroke-width=".9" />
<line x1="59" y1="222.3" x2="62.6" y2="222.3" stroke="#303030" stroke-width="1" />
<line x1="59" y1="289" x2="62.6" y2="289" stroke="#303030" stroke-width="1" />
<line x1="59" y1="355.7" x2="62.6" y2="355.7" stroke="#303030" stroke-width="1" />
<text x="57.8" y="224.2" font-size="5.5" font-family="'Liberation Serif', serif" fill="#333" text-anchor="end" >5</text>
<text x="57.8" y="290.9" font-size="5.5" font-family="'Liberation Serif', serif" fill="#333" text-anchor="end" >0</text>
<text x="57.8" y="357.6" font-size="5.5" font-family="'Liberation Serif', serif" fill="#333" text-anchor="end" >-5</text>
<line x1="67" y1="361.7" x2="272" y2="361.7" stroke="#303030" stroke-width="1.4" />
<line x1="104.3" y1="361.7" x2="104.3" y2="364.9" stroke="#303030" stroke-width="1" />
<line x1="143.4" y1="361.7" x2="143.4" y2="364.9" stroke="#303030" stroke-width="1" />
<line x1="182.5" y1="361.7" x2="182.5" y2="364.9" stroke="#303030" stroke-width="1" />
<line x1="221.5" y1="361.7" x2="221.5" y2="364.9" stroke="#303030" stroke-width="1" />
<line x1="261" y1="361.7" x2="261" y2="364.9" stroke="#303030" stroke-width="1" />
<text transform="translate(45.5,289) rotate(-90)" font-size="7.4" font-family="'Liberation Serif', serif" fill="#222" text-anchor="middle" dominant-baseline="central">Z score</text>
<rect x="222.1" y="237.3" width="33.4" height="101.7" fill="none" stroke="#f0904e" stroke-width="1.4"/>
<text transform="translate(282.4,212.4) scale(0.91,1)" font-size="21.5" font-family="'Liberation Sans', sans-serif" font-weight="bold" fill="#000">D</text>
<text x="344.5" y="212.6" font-size="7.5" font-family="'Liberation Serif', serif" fill="#222" text-anchor="start" >chr7 109-positive AAB ABB variant count Z-score</text>
<text x="510.1" y="218.8" font-size="5.6" font-family="'Liberation Serif', serif" fill="#222" text-anchor="end" >AAB variant count zscore</text>
<line x1="511.6" y1="217.1" x2="520.3" y2="217.1" stroke="#80b4ea" stroke-width=".9" stroke-dasharray="0.8,0.9"/>
<text x="510.1" y="224.9" font-size="5.6" font-family="'Liberation Serif', serif" fill="#222" text-anchor="end" >ABB variant count zscore</text>
<line x1="511.6" y1="223.2" x2="520.3" y2="223.2" stroke="#f6b060" stroke-width=".9" stroke-dasharray="1.8,1"/>
<text x="510.1" y="231" font-size="5.6" font-family="'Liberation Serif', serif" fill="#222" text-anchor="end" >zero</text>
<line x1="511.6" y1="229.3" x2="520.3" y2="229.3" stroke="#a040c8" stroke-width=".9" stroke-dasharray="2.2,0.8,0.6,0.8"/>
<polyline fill="none" stroke="#f5a65a" stroke-width=".8" stroke-linejoin="round" stroke-dasharray="2,0.7" points="342.8,289.5 343.3,281.8 343.9,283.5 344.5,286.8 345,283.5 345.6,288.2 346.2,287.9 346.7,288.8 347.3,284.6 347.8,277.1 348.4,277.6 349,279.4 349.5,282.8 350.1,289.3 350.7,284.9 351.2,285.7 351.8,283.3 352.3,285.1 352.9,288.6 353.5,291.5 354,285.8 354.6,280.9 355.2,285 355.7,283.9 356.3,279.6 356.8,286.7 357.4,287.8 358,291.5 358.5,283.8 359.1,284 359.6,287.1 360.2,293.3 360.8,290.1 361.3,283.8 361.9,286.3 362.5,287.9 363,284.2 363.6,290.2 364.1,287.7 364.7,284.3 365.3,288.4 365.8,290.4 366.4,286.9 367,286.7 367.5,287.2 368.1,297.3 368.6,284.8 369.2,289.1 369.8,290 370.3,285.8 370.9,281.2 371.4,282.8 372,285.7 372.6,281.2 373.1,280.5 373.7,283.4 374.3,282.6 374.8,280.8 375.4,276.1 375.9,285.6 376.5,283.1 377.1,284.9 377.6,286 378.2,281 378.8,280.1 379.3,287.1 379.9,287.3 380.4,285.3 381,291 381.6,284.3 382.1,285.1 382.7,284.5 383.2,283.5 383.8,277.1 384.4,281.3 384.9,284.9 385.5,277.9 386.1,283.9 386.6,286.7 387.2,291.4 387.7,283.5 388.3,283.2 388.9,282.2 389.4,283 390,284.6 390.6,288 391.1,289.4 391.7,285.1 392.2,284.5 392.8,278 393.4,284.8 393.9,286.8 394.5,289.8 395.1,281.4 395.6,288.2 396.2,283.1 396.7,278.1 397.3,282.3 397.9,280.6 398.4,291.4 399,289.2 399.5,293.4 400.1,293.5 400.7,285.9 401.2,288.2 401.8,282.3 402.4,282 402.9,285.4 403.5,287 403.9,283.1 412.6,283.1 413,287.2 413.6,284.9 414.2,287.6 414.7,287.9 415.3,285.5 415.8,287.9 416.4,285.2 417,286.1 417.5,295.3 418.1,290.5 418.7,290.1 419.2,290.9 419.8,286.2 420.3,287.7 420.9,284.2 421.5,280.3 422,283.5 422.6,290.3 423.2,290.4 423.7,283.8 424.3,285.6 424.8,288.6 425.4,287 426,283.9 426.5,283.5 427.1,281.7 427.6,286.9 428.2,287 428.8,286.9 429.3,285.9 429.9,293.9 430.5,289.9 431,292.6 431.6,282.7 432.1,277.5 432.7,274.7 433.3,278 433.8,283.2 434.4,280.2 435,283.5 435.5,281.7 436.1,287 436.6,288.1 437.2,284.3 437.8,277.2 438.3,281.4 438.9,274 439.5,268.6 440,282.5 440.6,283.7 441.1,288 441.7,286.6 442.3,287.6 442.8,286.1 443.4,281.2 443.9,279.1 444.5,282.5 445.1,282.8 445.6,283.1 446.2,283.2 446.8,281.4 447.3,282.9 447.9,281.6 448.4,288.3 449,282.8 449.6,278.5 450.1,287 450.7,294.7 451.3,280.3 451.8,283.7 452.4,296 452.9,290.3 453.5,284.3 454.1,282.5 454.6,278.2 455.2,278.8 455.7,281.1 456.3,290.6 456.9,291.4 457.4,286.5 458,282.2 458.6,287.2 459.1,287.8 459.7,283.6 460.2,291.4 460.8,295 461.4,289.7 461.9,285.3 462.5,286.3 463.1,294.1 463.6,288.2 464.2,291 464.7,284.2 465.3,284.2 465.9,282.7 466.4,280.6 467,284.2 467.6,280.4 468.1,277 468.7,278.8 469.2,275.9 469.8,282.5 470.4,279.2 470.9,280.3 471.5,285.9 472,284.7 472.6,286 473.2,286.7 473.7,284.4 474.3,279.7 474.9,283.3 475.4,283.3 476,289.9 476.5,286.7 477.1,281.1 477.7,280.2 478.2,281.3 478.8,286 479.4,290.1 479.9,288.5 480.5,293 481,294.8 481.6,286.9 482.2,291.1 482.7,282.1 483.3,291.3 483.8,288 484.4,293.2 485,290.3 485.5,294 486.1,291.5 486.7,291.3 487.2,292.6 487.8,289.8 488.3,283.5 488.9,289.6 489.5,286.3 490,288.1 490.6,289.4 491.2,280.9 491.7,294.9 492.3,295.2 492.8,299.1 493.4,295.9 494,293.8 494.5,276.5 495.1,282.7 495.7,279.7 496.2,280.4 496.8,287.8 497.3,287.4 497.9,282.4 498.5,286.2 499,287.8 499.6,287.3 500.1,295.3 500.7,307.2 501.3,291.8 501.8,289 502.4,293.8 503,293.5 503.5,292.6 504.1,292.3 504.6,288.7 505.2,289.5 505.8,289.7 506.3,296.2 506.9,297.7 507.5,292.7 508,298.4 508.6,293.3 509.1,294.8 509.7,296.2 510.3,290.6 510.8,293.4 511.4,295.3 511.9,298.2 512.5,292.2 513.1,279.7 513.6,293.9 514.2,291.6 514.8,291.3 515.3,286.3 515.9,289.3 516.4,299.1 517,287.9 517.6,292.6 518.1,290.4 518.7,294.7 519.3,295.4"/>
<polyline fill="none" stroke="#4a8fd8" stroke-width=".9" stroke-linejoin="round" stroke-dasharray="1.2,0.4" points="342.8,281.7 343.3,285.2 343.9,279.9 344.5,282.7 345,285.8 345.6,283.3 346.2,282.3 346.7,289.1 347.3,286.5 347.8,289.6 348.4,289.9 349,285.2 349.5,287.3 350.1,284.9 350.7,285.6 351.2,279 351.8,281.2 352.3,285.7 352.9,288.2 353.5,289.1 354,265.8 354.6,273.9 355.2,281.6 355.7,281.7 356.3,282 356.8,281.5 357.4,282.5 358,281.8 358.5,279.9 359.1,278.8 359.6,282.1 360.2,287.7 360.8,288.2 361.3,285.2 361.9,291.7 362.5,289.5 363,285.4 363.6,285.9 364.1,288 364.7,280.5 365.3,277.1 365.8,280.1 366.4,277.1 367,275.3 367.5,281.7 368.1,273.9 368.6,280.2 369.2,282 369.8,285.6 370.3,284.1 370.9,287.5 371.4,285.6 372,281.1 372.6,281.1 373.1,282.5 373.7,277.9 374.3,282.5 374.8,279.6 375.4,281.7 375.9,281.4 376.5,281.8 377.1,281.8 377.6,282.3 378.2,284.8 378.8,285.7 379.3,283.1 379.9,283.3 380.4,286.6 381,287.2 381.6,287.5 382.1,285.7 382.7,284 383.2,283.2 383.8,285 384.4,284 384.9,287.7 385.5,294.4 386.1,289.9 386.6,292.1 387.2,291.2 387.7,291.5 388.3,286.1 388.9,288.4 389.4,285.3 390,285.8 390.6,288.4 391.1,290.9 391.7,286.3 392.2,283.7 392.8,281 393.4,276.2 393.9,278 394.5,279.1 395.1,281 395.6,281.4 396.2,283.1 396.7,285.7 397.3,278.5 397.9,285.9 398.4,284 399,282.2 399.5,282 400.1,285.3 400.7,284.9 401.2,285.5 401.8,287.8 402.4,286 402.9,286 403.5,286.6 403.9,285.4 412.6,289.9 413,294.4 413.6,293.3 414.2,292.2 414.7,294.2 415.3,296.1 415.8,290.2 416.4,290.7 417,293.6 417.5,283.2 418.1,283.5 418.7,285.1 419.2,283.1 419.8,286.2 420.3,281 420.9,287.3 421.5,290.4 422,288.6 422.6,289.5 423.2,283.4 423.7,288.9 424.3,289.5 424.8,287 425.4,284.4 426,281.6 426.5,281.8 427.1,276.3 427.6,281.2 428.2,282.1 428.8,280.5 429.3,283.1 429.9,284.6 430.5,286 431,287.4 431.6,289.7 432.1,289.3 432.7,292.1 433.3,287.9 433.8,291.3 434.4,282.3 435,278 435.5,277.2 436.1,280.7 436.6,283.9 437.2,280.4 437.8,281.4 438.3,280.8 438.9,284.4 439.5,281.1 440,284.7 440.6,284.2 441.1,289.4 441.7,289.2 442.3,285.6 442.8,286.3 443.4,286.7 443.9,283.2 444.5,283.7 445.1,280 445.6,288.9 446.2,285.1 446.8,283.1 447.3,288 447.9,290.2 448.4,285 449,287.7 449.6,288 450.1,284.4 450.7,285.1 451.3,283 451.8,285.8 452.4,284 452.9,280.5 453.5,280.7 454.1,288.4 454.6,284.4 455.2,283.8 455.7,286.3 456.3,280.9 456.9,287.1 457.4,279.9 458,283.1 458.6,278.3 459.1,280.4 459.7,285.5 460.2,284.2 460.8,282.7 461.4,281.2 461.9,278.7 462.5,283.1 463.1,281.5 463.6,279.8 464.2,281.8 464.7,285 465.3,287 465.9,283 466.4,280.5 467,283.8 467.6,287.4 468.1,281.7 468.7,286.8 469.2,284.6 469.8,286.2 470.4,290 470.9,286.6 471.5,285.5 472,279.9 472.6,274 473.2,277.9 473.7,276.5 474.3,276 474.9,280.5 475.4,284.4 476,279.3 476.5,282.4 477.1,283.3 477.7,284.8 478.2,285.3 478.8,287 479.4,284 479.9,280.7 480.5,283.7 481,288.6 481.6,287.3 482.2,291.2 482.7,291.1 483.3,285.4 483.8,278.7 484.4,280.7 485,286.2 485.5,284.1 486.1,292 486.7,292.1 487.2,285.5 487.8,283.8 488.3,289.3 488.9,293.4 489.5,288.3 490,288 490.6,289.4 491.2,287.3 491.7,289 492.3,294.1 492.8,288.9 493.4,290.2 494,292.1 494.5,294.2 495.1,290.7 495.7,291.8 496.2,288.2 496.8,288.7 497.3,284.9 497.9,287.1 498.5,289.3 499,294.5 499.6,295.1 500.1,289.9 500.7,279.8 501.3,286.7 501.8,290.3 502.4,288.2 503,286.6 503.5,289.1 504.1,288.4 504.6,293 505.2,291.9 505.8,287.6 506.3,282.8 506.9,285.4 507.5,287.2 508,286.2 508.6,283.6 509.1,283.9 509.7,287.9 510.3,286.7 510.8,284.2 511.4,287.6 511.9,291.6 512.5,288.3 513.1,286.7 513.6,283.9 514.2,284.8 514.8,287.5 515.3,288.5 515.9,290.8 516.4,291.9 517,291.3 517.6,290.7 518.1,285.4 518.7,289.3 519.3,288"/>
<line x1="342.6" y1="275.2" x2="405" y2="275.2" stroke="#9444bc" stroke-width=".8" stroke-dasharray="8,0.5,1,0.5"/>
<line x1="405" y1="275.2" x2="420" y2="275.2" stroke="#9444bc" stroke-width=".8" stroke-dasharray="3,1.5,1,1.5"/>
<line x1="420" y1="275.2" x2="521.2" y2="275.2" stroke="#9444bc" stroke-width=".8" stroke-dasharray="8,0.5,1,0.5"/>
<line x1="338.9" y1="217.3" x2="338.9" y2="333.2" stroke="#303030" stroke-width="1.3" />
<line x1="336.9" y1="217.5" x2="338.9" y2="217.5" stroke="#303030" stroke-width=".9" />
<line x1="336.9" y1="229" x2="338.9" y2="229" stroke="#303030" stroke-width=".9" />
<line x1="336.9" y1="240.5" x2="338.9" y2="240.5" stroke="#303030" stroke-width=".9" />
<line x1="336.9" y1="252" x2="338.9" y2="252" stroke="#303030" stroke-width=".9" />
<line x1="336.9" y1="263.5" x2="338.9" y2="263.5" stroke="#303030" stroke-width=".9" />
<line x1="336.9" y1="275" x2="338.9" y2="275" stroke="#303030" stroke-width=".9" />
<line x1="336.9" y1="286.5" x2="338.9" y2="286.5" stroke="#303030" stroke-width=".9" />
<line x1="336.9" y1="298" x2="338.9" y2="298" stroke="#303030" stroke-width=".9" />
<line x1="336.9" y1="309.5" x2="338.9" y2="309.5" stroke="#303030" stroke-width=".9" />
<line x1="336.9" y1="321" x2="338.9" y2="321" stroke="#303030" stroke-width=".9" />
<line x1="336.9" y1="332.5" x2="338.9" y2="332.5" stroke="#303030" stroke-width=".9" />
<line x1="335.3" y1="217.5" x2="338.9" y2="217.5" stroke="#303030" stroke-width="1" />
<line x1="335.3" y1="275" x2="338.9" y2="275" stroke="#303030" stroke-width="1" />
<line x1="335.3" y1="332.9" x2="338.9" y2="332.9" stroke="#303030" stroke-width="1" />
<text x="334.3" y="219.4" font-size="5" font-family="'Liberation Serif', serif" fill="#333" text-anchor="end" >5</text>
<text x="334.3" y="276.9" font-size="5" font-family="'Liberation Serif', serif" fill="#333" text-anchor="end" >0</text>
<text x="334.3" y="334.8" font-size="5" font-family="'Liberation Serif', serif" fill="#333" text-anchor="end" >-5</text>
<line x1="343.3" y1="337.6" x2="519.8" y2="337.6" stroke="#303030" stroke-width="1.4" />
<line x1="374.8" y1="337.6" x2="374.8" y2="340.8" stroke="#303030" stroke-width="1" />
<line x1="408.6" y1="337.6" x2="408.6" y2="340.8" stroke="#303030" stroke-width="1" />
<line x1="442.4" y1="337.6" x2="442.4" y2="340.8" stroke="#303030" stroke-width="1" />
<line x1="476.2" y1="337.6" x2="476.2" y2="340.8" stroke="#303030" stroke-width="1" />
<line x1="509.6" y1="337.6" x2="509.6" y2="340.8" stroke="#303030" stroke-width="1" />
<text x="374.8" y="347" font-size="5.3" font-family="'Liberation Serif', serif" fill="#333" text-anchor="middle" >30</text>
<text x="442.4" y="347" font-size="5.3" font-family="'Liberation Serif', serif" fill="#333" text-anchor="middle" >90</text>
<text x="509.6" y="347" font-size="5.3" font-family="'Liberation Serif', serif" fill="#333" text-anchor="middle" >150</text>
<text x="429.9" y="354" font-size="6.2" font-family="'Liberation Serif', serif" fill="#222" text-anchor="middle" >genomic location Mb</text>
<text transform="translate(324.5,275.3) rotate(-90)" font-size="6.6" font-family="'Liberation Serif', serif" fill="#222" text-anchor="middle" dominant-baseline="central">Z score</text>
<rect x="479.6" y="236.7" width="34" height="84.2" fill="none" stroke="#f0904e" stroke-width="1.4"/>
<text transform="translate(21.3,392.8) scale(0.91,1)" font-size="21.5" font-family="'Liberation Sans', sans-serif" font-weight="bold" fill="#000">E</text>
<line x1="46.4" y1="364.3" x2="46.4" y2="528" stroke="#8a8a8a" stroke-width="1.2" />
<line x1="46.4" y1="364.6" x2="508.5" y2="364.6" stroke="#e4e4e4" stroke-width=".8" />
<line x1="508.9" y1="364.6" x2="508.9" y2="528" stroke="#e4e4e4" stroke-width=".8" />
<line x1="508.9" y1="415" x2="508.9" y2="528" stroke="#c8c8c8" stroke-width="1.2" />
<circle cx="48.6" cy="532.2" r="1.9" fill="#2a2af5"/>
<text transform="translate(47.4,379.6) scale(0.78,1)" font-size="12" font-family="'Liberation Sans', sans-serif" fill="#000" stroke="#000" stroke-width="0.25" letter-spacing="0.6">a.</text>
<text transform="translate(47.4,431.6) scale(0.78,1)" font-size="12" font-family="'Liberation Sans', sans-serif" fill="#000" stroke="#000" stroke-width="0.25" letter-spacing="0.6">b.</text>
<text transform="translate(47.4,476.8) scale(0.78,1)" font-size="12" font-family="'Liberation Sans', sans-serif" fill="#000" stroke="#000" stroke-width="0.25" letter-spacing="0.6">c.</text>
<text transform="translate(47.4,535.6) scale(0.78,1)" font-size="12" font-family="'Liberation Sans', sans-serif" fill="#000" stroke="#000" stroke-width="0.25" letter-spacing="0.6">d.</text>
<line x1="46.8" y1="366" x2="48.2" y2="366" stroke="#aaa" stroke-width=".5" />
<text x="48.6" y="367.1" font-size="3.2" font-family="'Liberation Sans', sans-serif" fill="#999" text-anchor="start" >1.0</text>
<line x1="46.8" y1="387.5" x2="48.2" y2="387.5" stroke="#aaa" stroke-width=".5" />
<text x="48.6" y="388.6" font-size="3.2" font-family="'Liberation Sans', sans-serif" fill="#999" text-anchor="start" >0</text>
<line x1="46.8" y1="394.3" x2="48.2" y2="394.3" stroke="#aaa" stroke-width=".5" />
<text x="48.6" y="395.4" font-size="3.2" font-family="'Liberation Sans', sans-serif" fill="#999" text-anchor="start" >-0.5</text>
<line x1="46.8" y1="401.4" x2="48.2" y2="401.4" stroke="#aaa" stroke-width=".5" />
<text x="48.6" y="402.5" font-size="3.2" font-family="'Liberation Sans', sans-serif" fill="#999" text-anchor="start" >-1</text>
<line x1="46.8" y1="408.4" x2="48.2" y2="408.4" stroke="#aaa" stroke-width=".5" />
<text x="48.6" y="409.5" font-size="3.2" font-family="'Liberation Sans', sans-serif" fill="#999" text-anchor="start" >-1.5</text>
<line x1="46.8" y1="438.5" x2="48.2" y2="438.5" stroke="#aaa" stroke-width=".5" />
<text x="48.6" y="439.6" font-size="3.2" font-family="'Liberation Sans', sans-serif" fill="#999" text-anchor="start" >0.75</text>
<line x1="46.8" y1="450.3" x2="48.2" y2="450.3" stroke="#aaa" stroke-width=".5" />
<text x="48.6" y="451.4" font-size="3.2" font-family="'Liberation Sans', sans-serif" fill="#999" text-anchor="start" >0.75</text>
<line x1="46.8" y1="462" x2="48.2" y2="462" stroke="#aaa" stroke-width=".5" />
<text x="48.6" y="463.1" font-size="3.2" font-family="'Liberation Sans', sans-serif" fill="#999" text-anchor="start" >0.25</text>
<line x1="46.8" y1="482.5" x2="48.2" y2="482.5" stroke="#aaa" stroke-width=".5" />
<text x="48.6" y="483.6" font-size="3.2" font-family="'Liberation Sans', sans-serif" fill="#999" text-anchor="start" >0.8</text>
<line x1="46.8" y1="490.8" x2="48.2" y2="490.8" stroke="#aaa" stroke-width=".5" />
<text x="48.6" y="491.9" font-size="3.2" font-family="'Liberation Sans', sans-serif" fill="#999" text-anchor="start" >0.6</text>
<line x1="46.8" y1="499.2" x2="48.2" y2="499.2" stroke="#aaa" stroke-width=".5" />
<text x="48.6" y="500.3" font-size="3.2" font-family="'Liberation Sans', sans-serif" fill="#999" text-anchor="start" >0.4</text>
<line x1="46.8" y1="507.9" x2="48.2" y2="507.9" stroke="#aaa" stroke-width=".5" />
<text x="48.6" y="509" font-size="3.2" font-family="'Liberation Sans', sans-serif" fill="#999" text-anchor="start" >0.2</text>
<text x="48.2" y="413.7" font-size="3" font-family="'Liberation Sans', sans-serif" fill="#777" text-anchor="start" textLength="70" lengthAdjust="spacingAndGlyphs">20130713_091406_201_20366900d_ALLSeq sample 1.00 copynumber</text>
<text x="48.2" y="420.5" font-size="3" font-family="'Liberation Sans', sans-serif" fill="#777" text-anchor="start" textLength="71" lengthAdjust="spacingAndGlyphs">20130713_091406_201_20366900d_ALLSeq sample allele Difference</text>
<text x="48.2" y="471.6" font-size="3" font-family="'Liberation Sans', sans-serif" fill="#777" text-anchor="start" textLength="58" lengthAdjust="spacingAndGlyphs">20130713_091406_201_20366900d_ALLSeq sample BAF</text>
<text x="48.2" y="521.7" font-size="3" font-family="'Liberation Sans', sans-serif" fill="#777" text-anchor="start" textLength="54" lengthAdjust="spacingAndGlyphs">Markers: Illumina_Drug_Array 135 sample 109</text>
<polyline fill="none" stroke="#9c90f5" stroke-width=".4" stroke-linejoin="round" stroke-opacity="0.4" points="47.5,389.9 47.8,388.7 48.1,388.7 48.4,390 48.7,384.6 49,388 49.3,385.7 49.6,390.2 49.9,389.7 50.2,384.5 50.5,391.1 50.8,384.2 51.1,390.6 51.4,388 51.7,385 52,384.3 52.3,386.6 52.6,387.4 52.9,385.5 53.2,389 53.5,383.6 53.8,387.4 54.1,387.4 54.4,382.3 54.7,388.3 55,383.9 55.3,380.5 55.6,385.7 55.9,386.8 56.2,389.9 56.5,386.1 56.8,391.5 57.1,391.4 57.4,390.4 57.7,391.1 58,388.4 58.3,385.9 58.6,389.2 58.9,390.1 59.2,388.1 59.5,386.7 59.8,383.1 60.1,389.3 60.4,388.4 60.7,383.8 61,387.7 61.3,389.4 61.6,387.1 61.9,389.6 62.2,389.5 62.5,383.3 62.8,386.6 63.1,388.8 63.4,389.9 63.7,391.3 64,382.1 64.3,387.2 64.6,389.4 64.9,390.8 65.2,392.1 65.5,384.8 65.8,386.4 66.1,384.5 66.4,389.7 66.7,383.8 67,390.7 67.3,390 67.6,388.8 67.9,381.4 68.2,385.5 68.5,389.5 68.8,383.5 69.1,386.8 69.4,387.1 69.7,389.9 70,388.2 70.3,388.2 70.6,386.2 70.9,387.4 71.2,387 71.5,389.4 71.8,386.9 72.1,390.3 72.4,382.7 72.7,390.7 73,386.9 73.3,390.5 73.6,387.6 73.9,389.8 74.2,391.5 74.5,385.9 74.8,387.6 75.1,386.9 75.4,388 75.7,382.9 76,386.9 76.3,386.7 76.6,385.2 76.9,386.9 77.2,383.1 77.5,391.3 77.8,388.6 78.1,392.6 78.4,385 78.7,384.2 79,388.2 79.3,382.8 79.6,388 79.9,385.5 80.2,386.5 80.5,388.1 80.8,387.5 81.1,392.6 81.4,389.2 81.7,383.8 82,390.1 82.3,383.7 82.6,387.6 82.9,384 83.2,385.1 83.5,391 83.8,385.9 84.1,385.6 84.4,385.8 84.7,386.5 85,391.4 85.3,384.1 85.6,384 85.9,389 86.2,383 86.5,386.4 86.8,390.5 87.1,387.4 87.4,386.1 87.7,385.4 88,384.9 88.3,385.8 88.6,387.8 88.9,390.8 89.2,390.1 89.5,385.8 89.8,385.4 90.1,389.3 90.4,382.4 90.7,386.2 91,386.5 91.3,384.3 91.6,384.6 91.9,388.3 92.2,382.8 92.5,384.8 92.8,385.6 93.1,387.6 93.4,383.6 93.7,390.4 94,386.5 94.3,386.6 94.6,386.3 94.9,385.5 95.2,384.6 95.5,390.5 95.8,387.9 96.1,387 96.4,390.1 96.7,385.4 97,389.1 97.3,387.4 97.6,384.9 97.9,389.4 98.2,383.2 98.5,389.1 98.8,384.9 99.1,388.4 99.4,391.1 99.7,388.9 100,385.6 100.3,387.2 100.6,386.3 100.9,384.1 101.2,384.2 101.5,387.4 101.8,388.8 102.1,382.4 102.4,387.1 102.7,388.7 103,387.6 103.3,384.5 103.6,390.1 103.9,383.9 104.2,389.1 104.5,391.7 104.8,381.6 105.1,388 105.4,388.1 105.7,387.9 106,385.1 106.3,386.4 106.6,383.4 106.9,387.6 107.2,388.7 107.5,385.4 107.8,384.7 108.1,385.9 108.4,387.2 108.7,387.4 109,387 109.3,387.4 109.6,383.6 109.9,379.7 110.2,388.9 110.5,391.1 110.8,383.3 111.1,385.4 111.4,388.1 111.7,389.9 112,389 112.3,390.7 112.6,387.1 112.9,388.4 113.2,388.4 113.5,386 113.8,390.5 114.1,388.9 114.4,389.9 114.7,386.2 115,390.1 115.3,384.3 115.6,388.3 115.9,380.1 116.2,384.5 116.5,389.2 116.8,386 117.1,387.7 117.4,382.8 117.7,391.5 118,388.9 118.3,387.2 118.6,388.4 118.9,388.1 119.2,391.1 119.5,387.8 119.8,383.2 120.1,386.5 120.4,390.7 120.7,388.8 121,386.1 121.3,388.9 121.6,387.5 121.9,388.9 122.2,382.9 122.5,384.8 122.8,389 123.1,386.6 123.4,388.2 123.7,392.6 124,386.4 124.3,387.9 124.6,385.7 124.9,385.5 125.2,387 125.5,383.2 125.8,381.5 126.1,391 126.4,386.9 126.7,390.3 127,387.6 127.3,387.6 127.6,389.1 127.9,389.2 128.2,383.9 128.5,390.5 128.8,384.6 129.1,387.8 129.4,394.2 129.7,387.4 130,391.8 130.3,386.3 130.6,388.9 130.9,387.4 131.2,388.4 131.5,384.9 131.8,384.7 132.1,388.1 132.4,382.9 132.7,384.9 133,389 133.3,385.5 133.6,384.8 133.9,384.2 134.2,387.6 134.5,386.2 134.8,387.6 135.1,386.7 135.4,392.3 135.7,386 136,381.9 136.3,387.5 136.6,387.2 136.9,387.7 137.2,382.8 137.5,390.3 137.8,387.1 138.1,387.1 138.4,382.9 138.7,388.5 139,387 139.3,390.9 139.6,386.1 139.9,383.9 140.2,387.6 140.5,384.7 140.8,388.4 141.1,384.3 141.4,386.9 141.7,386.6 142,387.1 142.3,385.8 142.6,385 142.9,387.1 143.2,385.6 143.5,387.6 143.8,386.5 144.1,381.1 144.4,387.1 144.7,391 145,388.1 145.3,388.9 145.6,388.5 145.9,386 146.2,383.6 146.5,389.4 146.8,390.1 147.1,388.8 147.4,388.4 147.7,388.3 148,387.2 148.3,388 148.6,387.3 148.9,388.1 149.2,384.7 149.5,385.5 149.8,388.8 150.1,386.3 150.4,380.7 150.7,387.6 151,381 151.3,392.4 151.6,389.2 151.9,389 152.2,385.4 152.5,384.2 152.8,386.7 153.1,387.3 153.4,385.2 153.7,387.7 154,389.1 154.3,388.9 154.6,384.4 154.9,381.4 155.2,387.2 155.5,385.5 155.8,388.4 156.1,391.7 156.4,391.7 156.7,388 157,390.2 157.3,391.7 157.6,387.4 157.9,388 158.2,389.5 158.5,387.2 158.8,385.9 159.1,385.2 159.4,387.3 159.7,385.6 160,389.4 160.3,386.4 160.6,391.2 160.9,390.5 161.2,383.9 161.5,390.2 161.8,386.2 162.1,390.9 162.4,388.6 162.7,387.2 163,389.1 163.3,385.8 163.6,388.2 163.9,388.3 164.2,386.9 164.5,388.3 164.8,384.6 165.1,388.8 165.4,384.1 165.7,389 166,388.6 166.3,389.2 166.6,385.8 166.9,395.4 167.2,386.7 167.5,387.7 167.8,385.3 168.1,391.1 168.4,386.1 168.7,390 169,384.8 169.3,388.2 169.6,386.3 169.9,389.8 170.2,386.6 170.5,385 170.8,388.5 171.1,384.2 171.4,384.8 171.7,389.4 172,382.4 172.3,389.4 172.6,386.3 172.9,384.9 173.2,388 173.5,389 173.8,385.8 174.1,386.9 174.4,389.5 174.7,389.4 175,387.2 175.3,385.3 175.6,384.9 175.9,385.8 176.2,389.2 176.5,388.9 176.8,388.2 177.1,391.1 177.4,386.6 177.7,386.4 178,386.4 178.3,392.5 178.6,381.9 178.9,388.2 179.2,388.6 179.5,387.6 179.8,393.6 180.1,390.5 180.4,389.4 180.7,385 181,388.7 181.3,386.4 181.6,387.5 181.9,388 182.2,386.2 182.5,389.1 182.8,391.7 183.1,390.2 183.4,388 183.7,382.3 184,390.3 184.3,390.3 184.6,386.9 184.9,386.2 185.2,389.2 185.5,385.3 185.8,389.5 186.1,384.6 186.4,385 186.7,387.5 187,383.6 187.3,387.5 187.6,388.9 187.9,384 188.2,389.9 188.5,386 188.8,388.9 189.1,388 189.4,386.3 189.7,386.1 190,383 190.3,385.6 190.6,385.4 190.9,391.8 191.2,390.2 191.5,383.9 191.8,389.6 192.1,388.1 192.4,386.5 192.7,388.7 193,389.6 193.3,386 193.6,386.8 193.9,387.9 194.2,384.9 194.5,388 194.8,387.3 195.1,385.7 195.4,385.3 195.7,388.3 196,389.8 196.3,388.4 196.6,385.2 196.9,389.5 197.2,387.9 197.5,389 197.8,390.5 198.1,385.1 198.4,387.1 198.7,385.9 199,385.2 199.3,392.7 199.6,390 199.9,382.9 200.2,388.6 200.5,386 200.8,390.5 201.1,387.7 201.4,387 201.7,387.9 202,388.5 202.3,387.6 202.6,386.9 202.9,387.1 203.2,388.8 203.5,384.5 203.8,387.5 204.1,387.2 204.4,386.2 204.7,389.4 205,384.1 205.3,386.5 205.6,385.3 205.9,388.9 206.2,386.3 206.5,387.6 206.8,388.5 207.1,383.3 207.4,388.7 207.7,385.5 208,386.8 208.3,387.2 208.6,389.6 208.9,389.4 209.2,392.1 209.5,388 209.8,386.3 210.1,386.2 210.4,389.2 210.7,391.7 211,388.4 211.3,386 211.6,388.2 211.9,388.2 212.2,387.6 212.5,385.6 212.8,380.9 213.1,386.1 213.4,390.3 213.7,388.1 214,381.7 214.3,387.5"/>
<polyline fill="none" stroke="#9c90f5" stroke-width=".4" stroke-linejoin="round" stroke-opacity="0.4" points="228.5,382.7 228.8,392.7 229.1,388 229.4,384.4 229.7,389.6 230,385.5 230.3,389 230.6,387.6 230.9,384.4 231.2,389.2 231.5,384 231.8,391 232.1,387.7 232.4,384.8 232.7,382.8 233,391.7 233.3,391.3 233.6,384.2 233.9,391.8 234.2,387.9 234.5,386.9 234.8,387.3 235.1,386.8 235.4,391.2 235.7,387.9 236,382.7 236.3,393 236.6,389.8 236.9,384.7 237.2,386.6 237.5,385.1 237.8,387.6 238.1,388.5 238.4,388.1 238.7,385.9 239,385.4 239.3,389.7 239.6,387.2 239.9,393.4 240.2,385.4 240.5,389.6 240.8,387.6 241.1,385.5 241.4,391.1 241.7,387.8 242,385.2 242.3,386.7 242.6,390.2 242.9,384.3 243.2,391.1 243.5,389.3 243.8,386.8 244.1,391 244.4,392.1 244.7,389.1 245,387.9 245.3,392.3 245.6,391.4 245.9,385.1 246.2,387 246.5,386.9 246.8,386.4 247.1,383.6 247.4,389.9 247.7,387.7 248,387.8 248.3,391.2 248.6,386 248.9,387.4 249.2,388.2 249.5,386.4 249.8,387.2 250.1,389.5 250.4,387.5 250.7,391 251,385.5 251.3,388 251.6,383.8 251.9,387.2 252.2,385.7 252.5,391.1 252.8,389.5 253.1,388.8 253.4,392.4 253.7,391.3 254,389.4 254.3,385.7 254.6,383.7 254.9,387.4 255.2,386.6 255.5,385.8 255.8,386.7 256.1,383.1 256.4,391.4 256.7,384.5 257,385.7 257.3,389 257.6,383.2 257.9,389.9 258.2,390 258.5,386.7 258.8,384.7 259.1,386.2 259.4,382.6 259.7,391.2 260,387.6 260.3,385.6 260.6,385.1 260.9,389 261.2,391.5 261.5,384.1 261.8,386 262.1,382.8 262.4,389.3 262.7,387.9 263,393.5 263.3,387.2 263.6,386.3 263.9,385.6 264.2,389.8 264.5,383.2 264.8,389.5 265.1,388.2 265.4,386.2 265.7,385.1 266,390.3 266.3,392.4 266.6,386.3 266.9,388.9 267.2,392.1 267.5,385.9 267.8,386.8 268.1,384.3 268.4,387.1 268.7,387.3 269,386.4 269.3,385.5 269.6,383.3 269.9,383.9 270.2,384.9 270.5,389.2 270.8,386.1 271.1,385.2 271.4,389.2 271.7,389 272,385.5 272.3,385.8 272.6,389.3 272.9,388.5 273.2,385.3 273.5,388.1 273.8,387.4 274.1,390.5 274.4,385.2 274.7,389.9 275,388.7 275.3,384.8 275.6,390.3 275.9,389.9 276.2,384 276.5,392.8 276.8,384.4 277.1,385 277.4,386.6 277.7,389.6 278,389.1 278.3,387.2 278.6,391.2 278.9,388.6 279.2,391.2 279.5,395 279.8,388 280.1,380.6 280.4,386.3 280.7,384.6 281,387.7 281.3,387.8 281.6,384.2 281.9,384.4 282.2,386.8 282.5,387 282.8,380.5 283.1,390.1 283.4,387.6 283.7,387.5 284,388.3 284.3,384.7 284.6,387.4 284.9,390.3 285.2,390.4 285.5,388.7 285.8,386.7 286.1,385.3 286.4,391.1 286.7,388.9 287,386.4 287.3,381.6 287.6,385.1 287.9,382.3 288.2,390.9 288.5,388 288.8,385.5 289.1,386.7 289.4,394.6 289.7,390.8 290,383.8 290.3,387.1 290.6,384.1 290.9,382.8 291.2,388 291.5,394.1 291.8,391.8 292.1,387.6 292.4,386.5 292.7,388.1 293,390.3 293.3,383.5 293.6,382.4 293.9,392.7 294.2,388.3 294.5,391.9 294.8,388.2 295.1,391.6 295.4,385.8 295.7,388.9 296,391.8 296.3,390.3 296.6,386.2 296.9,390 297.2,385.7 297.5,383.6 297.8,388.9 298.1,391.4 298.4,389.8 298.7,384 299,389.9 299.3,389.4 299.6,386.2 299.9,380.6 300.2,390.3 300.5,390 300.8,388.9 301.1,382.7 301.4,383.4 301.7,390.3 302,389.7 302.3,388.9 302.6,386.8 302.9,388.6 303.2,386 303.5,386.6 303.8,385.1 304.1,388.2 304.4,386.3 304.7,390.1 305,389.5 305.3,385.2 305.6,392.6 305.9,384.4 306.2,388.8 306.5,390.5 306.8,391.1 307.1,381.3 307.4,390.3 307.7,390.9 308,391.5 308.3,381.3 308.6,385.6 308.9,387.2 309.2,386.3 309.5,391.2 309.8,385.6 310.1,390.9 310.4,389.1 310.7,383.4 311,384.7 311.3,386.2 311.6,387.8 311.9,390.3 312.2,387 312.5,390 312.8,383.1 313.1,379 313.4,386.6 313.7,388.8 314,386.5 314.3,384.7 314.6,388.7 314.9,392.9 315.2,387.2 315.5,385.5 315.8,385.1 316.1,393 316.4,387.4 316.7,389.2 317,390.9 317.3,390.5 317.6,384.9 317.9,390.2 318.2,389.9 318.5,388.9 318.8,390.3 319.1,385.9 319.4,387.3 319.7,386 320,389.6 320.3,385.7 320.6,388.6 320.9,384.4 321.2,387.2 321.5,386.5 321.8,387.2 322.1,387.9 322.4,387 322.7,386.9 323,381.7 323.3,390.6 323.6,385.8 323.9,386.8 324.2,385.2 324.5,390.3 324.8,385 325.1,388.9 325.4,390.8 325.7,392.1 326,390.8 326.3,389.2 326.6,384.1 326.9,391.1 327.2,390.8 327.5,389.8 327.8,389.8 328.1,387.7 328.4,386.1 328.7,390.5 329,391.1 329.3,384.6 329.6,390.1 329.9,388.2 330.2,390 330.5,388.3 330.8,390.6 331.1,390.4 331.4,390 331.7,383.7 332,389.8 332.3,387.7 332.6,384.4 332.9,389.5 333.2,383.7 333.5,390 333.8,392.3 334.1,386.1 334.4,390.1 334.7,388.8 335,389.4 335.3,383.8 335.6,389.2 335.9,387.9 336.2,389.6 336.5,387.6 336.8,390.6 337.1,388.3 337.4,389.5 337.7,391.4 338,388.1 338.3,390.3 338.6,388.2 338.9,389 339.2,386.1 339.5,389.7 339.8,391 340.1,387.4 340.4,389.8 340.7,388.8 341,384.5 341.3,388.6 341.6,391.2 341.9,386.2 342.2,382.7 342.5,388.2 342.8,385.8 343.1,392.8 343.4,387.5 343.7,387.6 344,385.9 344.3,388.3 344.6,386 344.9,385.1 345.2,387.4 345.5,385.4 345.8,391.2 346.1,384.4 346.4,387.4 346.7,385.7 347,383.8 347.3,392.2 347.6,381.8 347.9,391.6 348.2,383.7 348.5,387.8 348.8,393.8 349.1,381.7 349.4,383.8 349.7,391.2 350,388.1 350.3,386.1 350.6,387.5 350.9,384.9 351.2,387.9 351.5,391.7 351.8,386.5 352.1,388 352.4,390.9 352.7,393.1 353,386 353.3,388.4 353.6,386.1 353.9,385.8 354.2,386.5 354.5,385.9 354.8,382.8 355.1,382.1 355.4,385.6 355.7,388 356,390.9 356.3,386.1 356.6,387.1 356.9,389.4 357.2,389.6 357.5,387.3 357.8,387.5 358.1,392.7 358.4,386.7 358.7,386.3 359,383.1 359.3,388.8 359.6,386.9 359.9,392.8 360.2,386.7 360.5,389.8 360.8,390.2 361.1,392.1 361.4,384 361.7,391.9 362,387.6 362.3,387.3 362.6,386.7 362.9,386.5 363.2,386.7 363.5,381.2 363.8,389 364.1,387.8 364.4,385 364.7,387.4 365,393.9 365.3,388.6 365.6,386.5 365.9,392.3 366.2,385.4 366.5,387.2 366.8,386.1 367.1,386.9 367.4,389.6 367.7,389.2 368,385.6 368.3,387.2 368.6,387.8 368.9,386.5 369.2,387.5 369.5,385.6 369.8,385.6 370.1,387.7 370.4,384.8 370.7,388.7 371,387.1 371.3,385.1 371.6,385.9 371.9,386.3 372.2,387.2 372.5,387.9 372.8,387 373.1,385.2 373.4,391.5 373.7,390.1 374,387.9 374.3,390.2 374.6,388.5 374.9,386.9 375.2,387.8 375.5,394.8 375.8,390.3 376.1,390.4 376.4,386.5 376.7,389.2 377,393.7 377.3,388.7 377.6,390.5 377.9,391 378.2,389.3 378.5,391.9 378.8,388.2 379.1,388.9 379.4,385.9 379.7,394.8 380,388.4 380.3,387.9 380.6,391.4 380.9,386.3 381.2,387.6 381.5,385.5 381.8,387.6 382.1,386.5 382.4,389.1 382.7,387.2 383,386 383.3,386.8 383.6,387.3 383.9,386.2 384.2,390.1 384.5,389.4 384.8,388 385.1,384.4 385.4,389 385.7,384.1 386,388.1 386.3,387.7 386.6,386 386.9,385.3 387.2,385.7 387.5,393.1 387.8,386.9 388.1,387 388.4,390.2 388.7,388.7 389,390.4 389.3,384.3 389.6,384.6 389.9,396.6 390.2,387.5 390.5,386.8 390.8,388 391.1,390.3 391.4,384.4 391.7,388.3 392,387.5 392.3,389.4 392.6,388 392.9,386.1 393.2,385.2 393.5,381 393.8,390.2 394.1,383.6 394.4,386.5 394.7,392.1 395,386.4 395.3,389.2 395.6,387 395.9,389.5 396.2,387.7 396.5,386.2 396.8,391.2 397.1,386.9 397.4,384 397.7,386.7 398,389 398.3,384.6 398.6,389.7 398.9,389.6 399.2,393.3 399.5,385.8 399.8,389.4 400.1,383.1 400.4,386.4 400.7,387.9 401,388.7 401.3,387.4 401.6,387.3 401.9,385.9 402.2,386.4 402.5,388.4 402.8,389.1 403.1,389.3 403.4,390.2 403.7,390.8 404,382.7 404.3,386.2 404.6,387.1 404.9,385.8 405.2,390.4 405.5,389.6 405.8,387.3 406.1,387.9 406.4,391 406.7,386.6 407,386.7 407.3,390 407.6,388.8 407.9,391.4 408.2,388.6 408.5,389.6 408.8,386.1 409.1,385 409.4,387.5 409.7,380.4 410,388.7 410.3,390.2 410.6,387.8 410.9,387 411.2,390.5 411.5,387.5 411.8,390.2 412.1,393.5 412.4,389.5 412.7,390.1 413,388.9 413.3,388.2 413.6,388.3 413.9,387.8 414.2,390.5 414.5,383.2 414.8,386.9 415.1,389.3 415.4,385.3 415.7,387.3 416,385.7 416.3,388.8 416.6,389.9 416.9,391.5 417.2,388.9 417.5,385.6 417.8,388.2 418.1,389.1 418.4,391.4 418.7,381.8 419,388.6 419.3,382.7 419.6,389.5 419.9,388.8 420.2,388.9 420.5,389.9 420.8,388.6 421.1,385.8 421.4,388.5 421.7,390.8 422,387.3 422.3,387.6 422.6,384.3 422.9,390.7 423.2,386.2 423.5,385.6 423.8,386.4 424.1,385.3 424.4,386.9 424.7,391 425,389.7 425.3,391.4 425.6,391.5 425.9,385.2 426.2,388.9 426.5,391.6 426.8,393.7 427.1,383.8 427.4,383.8 427.7,388.8 428,386.7 428.3,384.9 428.6,388.6 428.9,385.5 429.2,381.5 429.5,387.5 429.8,387.9 430.1,389.3 430.4,390.1 430.7,388.1 431,386.9 431.3,385.8 431.6,383.2 431.9,386.4 432.2,390.2 432.5,389.3 432.8,393 433.1,387.2 433.4,382.8 433.7,389.8 434,390.3 434.3,384.4 434.6,383.2 434.9,388 435.2,389.5 435.5,384.6 435.8,386.7 436.1,385.5 436.4,384.4 436.7,384 437,387.9 437.3,386.6 437.6,385.8 437.9,380.6 438.2,392.2 438.5,385 438.8,387.2 439.1,384.5 439.4,388.6 439.7,383.5 440,387.8 440.3,387 440.6,390 440.9,384.6 441.2,385.8 441.5,386.9 441.8,393.1 442.1,383.6 442.4,388.3 442.7,385.8 443,388.4 443.3,389.3 443.6,387.9 443.9,388.2 444.2,388.3 444.5,386 444.8,387 445.1,383.1 445.4,386.6 445.7,385.5 446,386.8 446.3,389.5 446.6,388.5 446.9,388.8 447.2,390.5 447.5,381.2 447.8,388.7 448.1,387.5 448.4,387.3 448.7,384 449,389 449.3,390.6 449.6,390.3 449.9,387.3 450.2,389.2 450.5,390 450.8,392.4 451.1,390.8 451.4,387.9 451.7,387.8 452,388 452.3,388.1 452.6,386.2 452.9,389.6 453.2,385.7 453.5,385.4 453.8,388.5 454.1,386 454.4,386.9 454.7,382 455,389.6 455.3,387.5 455.6,387.2 455.9,388.7 456.2,388.1 456.5,385.6 456.8,392.9 457.1,386.3 457.4,390.1 457.7,392.4 458,385.9 458.3,387.8 458.6,385.3 458.9,390.3 459.2,386.6 459.5,384.6 459.8,391 460.1,390 460.4,385.1 460.7,390.7 461,388 461.3,394.8 461.6,392.1 461.9,386 462.2,386.8 462.5,385.2 462.8,387.9 463.1,387.6 463.4,389.5 463.7,387.7 464,383.6 464.3,385.3 464.6,391.3 464.9,390.6 465.2,387.1 465.5,387.1 465.8,387.1 466.1,387.6 466.4,383 466.7,389.9 467,385.7 467.3,387.9 467.6,380.7 467.9,388.1 468.2,391.1 468.5,381.5 468.8,391.6 469.1,388.8 469.4,385.5 469.7,383.3 470,390.6 470.3,388.2 470.6,389.1 470.9,386.8 471.2,385.4 471.5,389.8 471.8,384.9 472.1,389.9 472.4,383 472.7,385 473,383.6 473.3,391 473.6,382.8 473.9,384.5 474.2,389.3 474.5,388.1 474.8,393.4 475.1,392.4 475.4,389.2 475.7,389.3 476,382.6 476.3,385.1 476.6,386.6 476.9,387 477.2,383.8 477.5,385 477.8,385.2 478.1,390.3 478.4,388.6 478.7,386.6 479,386.8 479.3,388.3 479.6,385.6 479.9,386.8 480.2,382.9 480.5,389.3 480.8,390.1 481.1,388.5 481.4,388.8 481.7,388.5 482,393 482.3,388 482.6,384 482.9,384.7 483.2,389.4 483.5,390.4 483.8,389.6 484.1,389.7 484.4,388 484.7,383.5 485,385.6 485.3,382.6 485.6,386.5 485.9,383.8 486.2,387.8 486.5,387 486.8,382.3 487.1,389.5 487.4,389.5 487.7,383.8 488,387.9 488.3,389.4 488.6,386.7 488.9,389.8 489.2,388 489.5,390.4 489.8,388 490.1,387 490.4,388.9 490.7,389.6 491,388.2 491.3,386.3 491.6,385.4 491.9,386.5 492.2,385.9 492.5,388 492.8,387.9 493.1,387.2 493.4,387.5 493.7,387.9 494,391.7 494.3,390.7 494.6,385.9 494.9,388.6 495.2,386.6 495.5,387.2 495.8,386.8 496.1,385.8 496.4,383.8 496.7,380.8 497,388 497.3,390.6 497.6,385 497.9,388.8 498.2,386.4 498.5,388.2 498.8,385.3 499.1,386.8 499.4,387.2 499.7,381 500,388 500.3,387.1 500.6,380.7 500.9,389.2 501.2,387.4 501.5,388 501.8,388.4 502.1,386.3 502.4,384.5 502.7,386.2 503,386.3 503.3,393.4 503.6,392.4 503.9,386.1 504.2,386.3 504.5,388.3 504.8,389 505.1,385.6 505.4,384.7 505.7,392.7 506,390.3 506.3,383.2 506.6,382.6 506.9,385.2 507.2,388 507.5,388.9 507.8,386.5"/>
<polyline fill="none" stroke="#4e3cf0" stroke-width=".5" stroke-linejoin="round" stroke-opacity="0.45" points="47.5,385.1 47.6,387.8 47.8,388.3 47.9,387.5 48,386.7 48.2,388.3 48.3,387.4 48.4,385.8 48.5,387.6 48.7,385.6 48.8,388.9 48.9,388.1 49.1,386 49.2,387.8 49.3,389.3 49.5,384.3 49.6,387.3 49.7,389.9 49.8,385.2 50,387.2 50.1,385.4 50.2,387.4 50.4,383.9 50.5,385.1 50.6,386.7 50.8,387.7 50.9,388 51,388.1 51.1,389.1 51.3,388.5 51.4,388.5 51.5,386 51.7,387.2 51.8,392.1 51.9,390.8 52.1,388.7 52.2,388.5 52.3,388.9 52.4,386.9 52.6,390.3 52.7,386.9 52.8,387.3 53,390.7 53.1,384.4 53.2,388 53.4,384.9 53.5,386.5 53.6,387.3 53.7,386.9 53.9,387.7 54,386.3 54.1,387.3 54.3,385.7 54.4,386.9 54.5,385.4 54.7,388.4 54.8,385.5 54.9,388.5 55,386.8 55.2,387 55.3,389.2 55.4,387.6 55.6,384.7 55.7,388.2 55.8,383.2 56,387.9 56.1,386.9 56.2,385.4 56.3,387.6 56.5,387 56.6,390.4 56.7,386.8 56.9,390.3 57,389.5 57.1,386.5 57.3,386.2 57.4,389.4 57.5,387.3 57.6,387.7 57.8,387.1 57.9,385.7 58,386.9 58.2,386 58.3,385.2 58.4,387 58.6,390.1 58.7,389.9 58.8,387.4 58.9,387.7 59.1,388.2 59.2,389.5 59.3,387.9 59.5,386.7 59.6,386.9 59.7,389.1 59.9,391.3 60,386.5 60.1,384.4 60.2,388.7 60.4,387.3 60.5,387.7 60.6,389.3 60.8,387.6 60.9,385.5 61,384.5 61.2,387.4 61.3,385.7 61.4,387.9 61.5,385.6 61.7,386.9 61.8,385.3 61.9,386.9 62.1,386.8 62.2,388.3 62.3,389.5 62.5,387.2 62.6,386.2 62.7,390.4 62.8,388 63,388.4 63.1,388.4 63.2,389.6 63.4,389 63.5,388.5 63.6,388.6 63.8,386.2 63.9,386.5 64,387.3 64.1,387.6 64.3,387.5 64.4,387.9 64.5,387.5 64.7,386.8 64.8,385 64.9,388.7 65.1,388.3 65.2,386.1 65.3,388.2 65.4,388.1 65.6,387.6 65.7,384.7 65.8,385.7 66,386.6 66.1,389.9 66.2,386.2 66.4,386.9 66.5,385.8 66.6,386.7 66.7,388 66.9,384.4 67,383.2 67.1,388.5 67.3,387.5 67.4,386.6 67.5,388.9 67.7,388.9 67.8,384.3 67.9,387.2 68,389.1 68.2,386.5 68.3,387 68.4,388.9 68.6,387.1 68.7,385.7 68.8,386.4 69,385.5 69.1,388.3 69.2,384.9 69.3,389 69.5,385 69.6,387.5 69.7,385.3 69.9,387 70,389 70.1,389.1 70.3,389.4 70.4,387.3 70.5,387.6 70.6,387.8 70.8,388.4 70.9,386.9 71,389.1 71.2,387.9 71.3,389.2 71.4,388.2 71.6,388.5 71.7,386.4 71.8,386.8 71.9,385.5 72.1,387 72.2,387.2 72.3,388.7 72.5,385.6 72.6,392.3 72.7,387.3 72.9,389.3 73,389 73.1,383.7 73.2,387.1 73.4,389.7 73.5,383.8 73.6,388.6 73.8,386.1 73.9,386.8 74,387.8 74.2,384.7 74.3,387.8 74.4,386.5 74.5,386.3 74.7,388.5 74.8,392.7 74.9,388 75.1,388.3 75.2,387.4 75.3,386.4 75.5,387.8 75.6,389.7 75.7,387.7 75.8,388.8 76,387.1 76.1,391.2 76.2,385 76.4,388.3 76.5,388.3 76.6,387.9 76.8,385.8 76.9,385.7 77,387.1 77.1,387.6 77.3,385.6 77.4,385.9 77.5,388.3 77.7,389 77.8,386.6 77.9,386.4 78.1,386.4 78.2,391.2 78.3,388.2 78.4,387.3 78.6,389 78.7,390.9 78.8,389.2 79,385.3 79.1,387.3 79.2,386.8 79.4,386.9 79.5,385.6 79.6,386.9 79.7,385.8 79.9,388 80,387.5 80.1,385.3 80.3,384.9 80.4,386.7 80.5,388.4 80.7,388.2 80.8,387.3 80.9,382.5 81,386.7 81.2,386.3 81.3,386.9 81.4,385.6 81.6,386.8 81.7,386.4 81.8,391.5 82,388.5 82.1,387.1 82.2,387.4 82.3,387.3 82.5,387.7 82.6,386.8 82.7,387.4 82.9,389 83,388.7 83.1,387.9 83.3,389.4 83.4,387.8 83.5,386 83.6,384.8 83.8,386.4 83.9,387.3 84,388 84.2,389.1 84.3,386.6 84.4,386.2 84.6,388.6 84.7,389.2 84.8,386.7 84.9,387.9 85.1,389.5 85.2,387.9 85.3,387.4 85.5,384.3 85.6,389.4 85.7,388.4 85.9,387.6 86,386.7 86.1,385.6 86.2,387.3 86.4,387.3 86.5,389.1 86.6,385.6 86.8,389.6 86.9,387.5 87,389.2 87.2,386 87.3,388 87.4,389.3 87.5,387.6 87.7,385.2 87.8,386.9 87.9,388.2 88.1,385.3 88.2,385.3 88.3,387.8 88.5,386 88.6,388.5 88.7,385.7 88.8,384.7 89,386.3 89.1,389.7 89.2,386.1 89.4,387.4 89.5,387.8 89.6,386 89.8,389.1 89.9,387.7 90,388.1 90.1,384.9 90.3,384.8 90.4,383.3 90.5,387.2 90.7,387.1 90.8,388.5 90.9,389.7 91.1,387.1 91.2,387 91.3,388.1 91.4,389.7 91.6,386.2 91.7,388.4 91.8,387.1 92,386.9 92.1,388.7 92.2,386.3 92.4,385.8 92.5,388.4 92.6,387.4 92.7,387 92.9,387.2 93,388.2 93.1,386.9 93.3,388.6 93.4,388.1 93.5,389.7 93.7,389.3 93.8,388.7 93.9,387.1 94,387.6 94.2,386.6 94.3,391.7 94.4,387.1 94.6,388.3 94.7,389.5 94.8,385.4 95,386.2 95.1,386.9 95.2,386 95.3,385.5 95.5,386.7 95.6,389.4 95.7,388.5 95.9,387.5 96,387.5 96.1,385 96.3,388.5 96.4,388.1 96.5,385.8 96.6,387.8 96.8,387.2 96.9,386.7 97,386 97.2,386.4 97.3,386 97.4,388.1 97.6,388 97.7,387.9 97.8,387.2 97.9,386.8 98.1,390.5 98.2,384.7 98.3,389.2 98.5,388 98.6,387.6 98.7,386.7 98.9,387.1 99,385.7 99.1,385.4 99.2,387.3 99.4,385 99.5,388.7 99.6,389.1 99.8,382.3 99.9,385.1 100,387.9 100.2,387.8 100.3,387.6 100.4,388.1 100.5,388.6 100.7,388.8 100.8,390.1 100.9,387.5 101.1,388.8 101.2,385 101.3,387.3 101.5,385.6 101.6,389.5 101.7,391 101.8,388.3 102,385.5 102.1,387.3 102.2,387.5 102.4,387.8 102.5,389.1 102.6,388.9 102.8,383.5 102.9,389.5 103,386.7 103.1,386.6 103.3,389.6 103.4,387.1 103.5,385.4 103.7,385.5 103.8,387.6 103.9,388.8 104.1,389.7 104.2,387.2 104.3,386.8 104.4,389.9 104.6,386.8 104.7,389.7 104.8,387.8 105,387.8 105.1,387.1 105.2,387.9 105.4,386.8 105.5,386.4 105.6,387.3 105.7,386.5 105.9,387.9 106,387.6 106.1,387.1 106.3,387.2 106.4,387.1 106.5,390.1 106.7,387.5 106.8,386.6 106.9,387 107,388.5 107.2,387.2 107.3,387.2 107.4,387.1 107.6,387.7 107.7,388.1 107.8,388.1 108,385 108.1,385.9 108.2,383.5 108.3,388.7 108.5,389.1 108.6,389.4 108.7,387.7 108.9,389.2 109,387.4 109.1,387.3 109.3,385.2 109.4,386.3 109.5,386.6 109.6,388.8 109.8,390 109.9,386.8 110,388 110.2,387.9 110.3,386.3 110.4,384.9 110.6,386.3 110.7,385.3 110.8,387 110.9,387.3 111.1,387.2 111.2,387.2 111.3,388.2 111.5,386.1 111.6,388.8 111.7,385 111.9,387.6 112,388 112.1,386.3 112.2,385.1 112.4,388.4 112.5,386.5 112.6,388.6 112.8,388.6 112.9,387.5 113,387.5 113.2,388.9 113.3,388 113.4,386.1 113.5,387.7 113.7,388.3 113.8,387.8 113.9,387.7 114.1,387.2 114.2,387.3 114.3,386.1 114.5,385.3 114.6,389.1 114.7,386.5 114.8,387.8 115,385.2 115.1,387.7 115.2,386.2 115.4,391.9 115.5,385.9 115.6,386 115.8,388.9 115.9,389.2 116,384.3 116.1,387.8 116.3,388.8 116.4,385.6 116.5,388.5 116.7,386.7 116.8,386 116.9,386.9 117.1,386.8 117.2,385.4 117.3,390.8 117.4,386.8 117.6,386.3 117.7,388.7 117.8,387.3 118,389.4 118.1,387.1 118.2,388 118.4,387.6 118.5,387.7 118.6,387.1 118.7,387.3 118.9,390 119,386.4 119.1,386.6 119.3,386.9 119.4,388.3 119.5,388.1 119.7,388.8 119.8,385.5 119.9,387.8 120,387.2 120.2,387 120.3,387.7 120.4,384.5 120.6,387.9 120.7,387.7 120.8,385.3 121,387.3 121.1,389.8 121.2,386.9 121.3,388.3 121.5,387.1 121.6,386.2 121.7,386.1 121.9,386.9 122,389.4 122.1,388.7 122.3,386.4 122.4,388.9 122.5,387.3 122.6,386.4 122.8,388.1 122.9,386.1 123,385.1 123.2,389.4 123.3,384.7 123.4,388.3 123.6,385.2 123.7,387.4 123.8,387.2 123.9,386.8 124.1,384.2 124.2,387.3 124.3,387.4 124.5,386.1 124.6,387.4 124.7,388.9 124.9,386.4 125,387.8 125.1,385.8 125.2,388 125.4,388.4 125.5,391.1 125.6,388.8 125.8,388.1 125.9,389.5 126,386 126.2,389 126.3,386.7 126.4,386.5 126.5,389.1 126.7,387.8 126.8,389.4 126.9,385.3 127.1,387.9 127.2,386.7 127.3,387.1 127.5,384.6 127.6,388.9 127.7,387.8 127.8,386 128,385.5 128.1,386.2 128.2,389.5 128.4,387.3 128.5,387 128.6,388.2 128.8,387.5 128.9,387.8 129,388.6 129.1,388 129.3,388.8 129.4,385.7 129.5,387.6 129.7,387 129.8,387.6 129.9,387.4 130.1,386.5 130.2,387 130.3,388.9 130.4,386.7 130.6,385.6 130.7,388.4 130.8,388.9 131,387.1 131.1,387.7 131.2,386.3 131.4,387.2 131.5,389.1 131.6,388.7 131.7,387.7 131.9,387.1 132,385.1 132.1,388 132.3,388.2 132.4,389 132.5,390.5 132.7,388 132.8,388.9 132.9,385.9 133,389.3 133.2,388.8 133.3,389.5 133.4,388.5 133.6,388.2 133.7,389.7 133.8,386.5 134,388.4 134.1,389.1 134.2,386.4 134.3,385.8 134.5,388.1 134.6,387.7 134.7,388.4 134.9,388.5 135,386.4 135.1,388 135.3,389.2 135.4,387 135.5,387.1 135.6,385.9 135.8,388.7 135.9,390.4 136,385.5 136.2,388.6 136.3,388.8 136.4,386.7 136.6,387 136.7,386 136.8,386.4 136.9,387.8 137.1,388.5 137.2,387.7 137.3,388.8 137.5,387.8 137.6,385.8 137.7,389.6 137.9,389.3 138,386.5 138.1,390.1 138.2,388.2 138.4,387.7 138.5,390.3 138.6,383.9 138.8,385.2 138.9,388.6 139,387.2 139.2,386.1 139.3,389.7 139.4,388.2 139.5,385.7 139.7,386.6 139.8,388.8 139.9,390.1 140.1,384.6 140.2,387.9 140.3,387 140.5,385 140.6,387.3 140.7,385.2 140.8,386.8 141,389.9 141.1,388.3 141.2,388.7 141.4,388.4 141.5,388.1 141.6,389 141.8,385.8 141.9,387 142,388.8 142.1,386.5 142.3,386.9 142.4,389.3 142.5,389.8 142.7,386.7 142.8,386.4 142.9,388.4 143.1,387.9 143.2,386.6 143.3,388.4 143.4,388.4 143.6,387.7 143.7,391.9 143.8,389.5 144,388.7 144.1,389.1 144.2,391.9 144.4,389.2 144.5,386.5 144.6,388 144.7,387.7 144.9,386.7 145,387.9 145.1,387.9 145.3,387.5 145.4,386.8 145.5,388.8 145.7,385.2 145.8,388.8 145.9,387.6 146,388 146.2,384.1 146.3,390 146.4,385 146.6,386.3 146.7,388.5 146.8,386.7 147,387 147.1,384.3 147.2,386.9 147.3,387.9 147.5,388.6 147.6,387.1 147.7,387.9 147.9,388.2 148,386.6 148.1,386.5 148.3,390.4 148.4,386.3 148.5,389.4 148.6,387.7 148.8,389.7 148.9,386.6 149,388.3 149.2,388.1 149.3,387.2 149.4,388 149.6,386.4 149.7,387.4 149.8,387 149.9,388.7 150.1,387.4 150.2,385.5 150.3,387 150.5,387.4 150.6,386.2 150.7,389.5 150.9,388.2 151,388.8 151.1,386.4 151.2,387 151.4,389.1 151.5,385.5 151.6,388.1 151.8,387.7 151.9,386.8 152,387.7 152.2,386 152.3,387.9 152.4,385.8 152.5,385.7 152.7,389.6 152.8,386.5 152.9,384.5 153.1,389 153.2,386.4 153.3,382.4 153.5,387.5 153.6,388.9 153.7,388.1 153.8,390.1 154,387.4 154.1,388.5 154.2,386.1 154.4,387.8 154.5,389.8 154.6,388.3 154.8,387.8 154.9,384.7 155,387 155.1,385.7 155.3,388.7 155.4,386.5 155.5,388.1 155.7,386.1 155.8,390.4 155.9,385.8 156.1,387.8 156.2,391.4 156.3,387.9 156.4,386.3 156.6,388.5 156.7,389 156.8,388.9 157,384.7 157.1,387.9 157.2,384.4 157.4,390.4 157.5,387.7 157.6,386.9 157.7,388.6 157.9,388.3 158,385.8 158.1,390 158.3,387.2 158.4,385 158.5,389.6 158.7,389.8 158.8,389.4 158.9,388.4 159,386.3 159.2,389 159.3,390.3 159.4,388.8 159.6,389.9 159.7,386.4 159.8,389.1 160,389 160.1,385.4 160.2,385.2 160.3,386.5 160.5,387.7 160.6,388.2 160.7,387.2 160.9,387.5 161,387.4 161.1,387.7 161.3,388.4 161.4,388.3 161.5,387.5 161.6,388 161.8,386.9 161.9,388.8 162,386.8 162.2,390 162.3,387.5 162.4,388 162.6,386.4 162.7,387.1 162.8,387.8 162.9,387.6 163.1,386.7 163.2,385.9 163.3,387.6 163.5,387.8 163.6,388.4 163.7,389.4 163.9,387.1 164,384.6 164.1,387.4 164.2,384.8 164.4,385.7 164.5,389.1 164.6,388.4 164.8,386.6 164.9,386.6 165,387.4 165.2,385 165.3,388.3 165.4,387.1 165.5,390.3 165.7,386 165.8,389.1 165.9,386.6 166.1,389.1 166.2,386.1 166.3,388.7 166.5,386.9 166.6,386.4 166.7,387.4 166.8,388.3 167,388.2 167.1,389.9 167.2,388.8 167.4,383.6 167.5,387 167.6,384.6 167.8,387 167.9,388.5 168,385.6 168.1,385.8 168.3,387.8 168.4,387.2 168.5,389.9 168.7,388.1 168.8,388.4 168.9,390.2 169.1,386.8 169.2,387.6 169.3,386.1 169.4,388 169.6,389.1 169.7,389.6 169.8,387.5 170,386.5 170.1,386.4 170.2,385.5 170.4,387.8 170.5,389.6 170.6,384 170.7,384.3 170.9,389.7 171,385.2 171.1,388.1 171.3,385.7 171.4,388.8 171.5,388.8 171.7,387.8 171.8,388.8 171.9,387.7 172,388.4 172.2,390.3 172.3,389.2 172.4,386.6 172.6,386.4 172.7,387.2 172.8,387.3 173,387.7 173.1,386.7 173.2,388.6 173.3,387.7 173.5,388.1 173.6,387.6 173.7,388.5 173.9,385.8 174,390 174.1,388.1 174.3,388.3 174.4,388.5 174.5,389.2 174.6,388.7 174.8,388 174.9,387.3 175,385.1 175.2,387.9 175.3,387.1 175.4,387.1 175.6,391.2 175.7,384.8 175.8,387.7 175.9,389.4 176.1,389.1 176.2,389.5 176.3,385.7 176.5,386.2 176.6,388.5 176.7,387.2 176.9,390.2 177,388 177.1,387.9 177.2,388.3 177.4,387.2 177.5,387.8 177.6,386.6 177.8,387.6 177.9,386.9 178,388 178.2,385.5 178.3,385.4 178.4,388.3 178.5,388 178.7,386.2 178.8,387.3 178.9,386.1 179.1,390.7 179.2,385.3 179.3,390.2 179.5,386.4 179.6,388.3 179.7,387.2 179.8,387.1 180,389 180.1,388.9 180.2,387.2 180.4,386.3 180.5,390.7 180.6,389.7 180.8,387.8 180.9,387.2 181,388.1 181.1,387.8 181.3,389.4 181.4,386.2 181.5,387.7 181.7,386.5 181.8,389.6 181.9,390.3 182.1,387.5 182.2,388.4 182.3,389.7 182.4,387.2 182.6,386.2 182.7,389.2 182.8,388.4 183,387.3 183.1,389.8 183.2,388 183.4,385 183.5,388.2 183.6,387.5 183.7,390.5 183.9,387.6 184,387.3 184.1,388.3 184.3,388 184.4,385.5 184.5,387.8 184.7,387.1 184.8,389.7 184.9,391.2 185,386 185.2,386.2 185.3,386.4 185.4,386.7 185.6,386.6 185.7,387.7 185.8,389.3 186,385.7 186.1,385.3 186.2,384.9 186.3,389.3 186.5,389.6 186.6,385.3 186.7,385.2 186.9,387.8 187,389.3 187.1,389.2 187.3,387.9 187.4,388.7 187.5,388.1 187.6,386.8 187.8,390.5 187.9,387.6 188,386 188.2,386.9 188.3,385.3 188.4,387.7 188.6,389.3 188.7,385.7 188.8,389.3 188.9,390.8 189.1,388.2 189.2,385.9 189.3,386.4 189.5,387.1 189.6,385.7 189.7,385.8 189.9,387.3 190,387.4 190.1,388.6 190.2,385.8 190.4,390.5 190.5,389.2 190.6,389 190.8,386.7 190.9,390.3 191,387.1 191.2,390.4 191.3,389.3 191.4,386.3 191.5,387 191.7,390.5 191.8,389.1 191.9,387.4 192.1,387.9 192.2,387.9 192.3,386.5 192.5,387.3 192.6,386.7 192.7,387 192.8,388.3 193,386.2 193.1,388.7 193.2,387.8 193.4,388.8 193.5,389 193.6,389.5 193.8,388.6 193.9,388.7 194,387.4 194.1,388.5 194.3,386.3 194.4,387.3 194.5,388.8 194.7,387.6 194.8,388.3 194.9,386.1 195.1,389.7 195.2,386.8 195.3,388.2 195.4,387.6 195.6,389 195.7,387.1 195.8,386.1 196,384.8 196.1,387.2 196.2,385.8 196.4,388.4 196.5,389.8 196.6,384.3 196.7,385.7 196.9,388.1 197,389.5 197.1,388.1 197.3,388.1 197.4,388.4 197.5,388.5 197.7,390.1 197.8,388.6 197.9,385.8 198,386.9 198.2,388 198.3,386.4 198.4,387.2 198.6,386.9 198.7,386.6 198.8,388.7 199,387.1 199.1,386 199.2,386.6 199.3,387.7 199.5,390.8 199.6,388 199.7,389.9 199.9,388.4 200,384.4 200.1,388.2 200.3,386.4 200.4,385.6 200.5,386 200.6,390.3 200.8,385.3 200.9,386.7 201,389.4 201.2,388.6 201.3,385.1 201.4,387.5 201.6,386.9 201.7,387.3 201.8,388.8 201.9,386.8 202.1,387.2 202.2,389.8 202.3,384.9 202.5,387.1 202.6,388.3 202.7,385.8 202.9,386.7 203,385.7 203.1,387.9 203.2,386.7 203.4,388.8 203.5,389.2 203.6,387.7 203.8,387.1 203.9,388 204,387.7 204.2,385.8 204.3,389.3 204.4,388 204.5,388.8 204.7,385.6 204.8,389 204.9,390.8 205.1,388.6 205.2,385.4 205.3,387.7 205.5,387.5 205.6,388 205.7,387.3 205.8,388.4 206,386.9 206.1,388 206.2,386.6 206.4,387.8 206.5,389.1 206.6,386.9 206.8,388.6 206.9,386.3 207,387.1 207.1,387.3 207.3,389.5 207.4,386.5 207.5,389.5 207.7,385.4 207.8,387.4 207.9,389 208.1,388.7 208.2,386.1 208.3,385.8 208.4,389 208.6,385.7 208.7,388.5 208.8,386.8 209,387.6 209.1,391.1 209.2,390 209.4,388.9 209.5,385.5 209.6,388.1 209.7,387.7 209.9,387.5 210,389.7 210.1,385 210.3,388.1 210.4,387.8 210.5,386.5 210.7,390.2 210.8,385.7 210.9,387.7 211,387.7 211.2,384.3 211.3,385.5 211.4,386.2 211.6,388.8 211.7,389.1 211.8,388.5 212,388 212.1,384.3 212.2,387.9 212.3,386.8 212.5,389.4 212.6,389.7 212.7,391 212.9,388.7 213,388.9 213.1,386.1 213.3,387.7 213.4,385.7 213.5,389 213.6,385.8 213.8,387.3 213.9,386.4 214,386.9 214.2,388.3 214.3,386.8 214.4,388"/>
<polyline fill="none" stroke="#4e3cf0" stroke-width=".5" stroke-linejoin="round" stroke-opacity="0.45" points="228.5,386.1 228.6,389.7 228.8,386.6 228.9,389.2 229,390.9 229.1,383.9 229.3,386.1 229.4,387.3 229.5,389.4 229.7,386.9 229.8,388.2 229.9,386.5 230.1,388.5 230.2,385.8 230.3,388.9 230.4,383.1 230.6,384.7 230.7,390.4 230.8,387.9 231,386.2 231.1,391 231.2,389.2 231.4,389.3 231.5,387 231.6,388.6 231.7,388.4 231.9,385.1 232,388.5 232.1,387.3 232.3,389.6 232.4,389.6 232.5,386.6 232.7,386.7 232.8,387.9 232.9,388.6 233,387 233.2,387.4 233.3,388.5 233.4,388.3 233.6,389.4 233.7,388 233.8,386.2 234,384.9 234.1,388.8 234.2,387.1 234.3,387.1 234.5,387.2 234.6,385.2 234.7,387 234.9,383.6 235,387 235.1,386.2 235.3,390.4 235.4,388.3 235.5,387.3 235.6,387.9 235.8,388.7 235.9,386.4 236,387.2 236.2,387.1 236.3,391.4 236.4,387.7 236.6,384.6 236.7,388.8 236.8,391.6 236.9,386.1 237.1,392.9 237.2,387.5 237.3,389.1 237.5,386.7 237.6,387.2 237.7,385.7 237.9,386 238,384.3 238.1,389.4 238.2,385.8 238.4,388.2 238.5,388.1 238.6,386.6 238.8,387.7 238.9,387.4 239,386.8 239.2,387.7 239.3,387.7 239.4,386 239.5,385.6 239.7,386.3 239.8,387.8 239.9,389.7 240.1,389.9 240.2,388.1 240.3,389.1 240.5,387.8 240.6,389.3 240.7,387.8 240.8,388.2 241,387.2 241.1,387.6 241.2,390.5 241.4,385.7 241.5,387.6 241.6,386.7 241.8,389.1 241.9,390.4 242,387.1 242.1,383.3 242.3,388.5 242.4,388.5 242.5,385 242.7,387.2 242.8,387.5 242.9,384 243.1,388.6 243.2,388.3 243.3,388 243.4,385.9 243.6,386.5 243.7,386.6 243.8,388.3 244,386.1 244.1,389.9 244.2,388.2 244.4,384.2 244.5,390.2 244.6,387.8 244.7,386.7 244.9,387.7 245,384.7 245.1,387.9 245.3,383.8 245.4,386 245.5,389.7 245.7,389.5 245.8,387 245.9,386.1 246,389 246.2,387.5 246.3,387.9 246.4,388.5 246.6,385.9 246.7,388.8 246.8,384.3 247,389.9 247.1,385.1 247.2,386.6 247.3,386.5 247.5,388.7 247.6,388.7 247.7,388.1 247.9,388.4 248,388.3 248.1,387.5 248.3,384.6 248.4,384 248.5,384 248.6,387.5 248.8,387.2 248.9,387.3 249,387.9 249.2,387.2 249.3,386 249.4,385.2 249.6,384.6 249.7,389.5 249.8,389 249.9,385.4 250.1,387.1 250.2,388.2 250.3,390.1 250.5,386.6 250.6,387.8 250.7,389.4 250.9,384.8 251,386.4 251.1,387.5 251.2,386.4 251.4,390.9 251.5,388.9 251.6,387.9 251.8,386 251.9,388.9 252,388.5 252.2,386.7 252.3,386.9 252.4,385.3 252.5,387.4 252.7,388.9 252.8,389.1 252.9,388.5 253.1,388.8 253.2,386.6 253.3,386.8 253.5,389.4 253.6,388.3 253.7,386.3 253.8,388.3 254,388.8 254.1,388.7 254.2,387.7 254.4,386.7 254.5,388.2 254.6,390.2 254.8,387.8 254.9,386.5 255,388.1 255.1,385.6 255.3,387.9 255.4,387.1 255.5,389 255.7,387.7 255.8,389.2 255.9,391.1 256.1,387.2 256.2,386.2 256.3,388.3 256.4,387.4 256.6,387.8 256.7,386.6 256.8,388.4 257,387.6 257.1,384.2 257.2,387.2 257.4,388.1 257.5,389.4 257.6,386.6 257.7,386.3 257.9,389.3 258,386.6 258.1,387.7 258.3,388.3 258.4,388.7 258.5,387.5 258.7,385.8 258.8,389.1 258.9,386.9 259,386.7 259.2,390.7 259.3,388.9 259.4,385.9 259.6,386.8 259.7,387.1 259.8,386.4 260,384.5 260.1,388.8 260.2,388.7 260.3,387.9 260.5,386.9 260.6,387.9 260.7,388.5 260.9,385.9 261,387 261.1,386.7 261.3,388.6 261.4,387.9 261.5,385.5 261.6,386.6 261.8,390.3 261.9,386 262,387.8 262.2,386.5 262.3,389.5 262.4,387.4 262.6,386.8 262.7,385.7 262.8,387.1 262.9,388.8 263.1,388.6 263.2,385.5 263.3,390 263.5,387.1 263.6,385.9 263.7,387.7 263.9,386.6 264,386.6 264.1,386.5 264.2,387.4 264.4,386.7 264.5,384.9 264.6,388.3 264.8,386.7 264.9,389.4 265,388.4 265.2,388.5 265.3,387.8 265.4,389.5 265.5,387 265.7,386 265.8,388.1 265.9,383.3 266.1,386.9 266.2,387.9 266.3,386.9 266.5,389.5 266.6,388.6 266.7,387.7 266.8,386.9 267,389.2 267.1,386.5 267.2,386.9 267.4,388.7 267.5,388.4 267.6,390.7 267.8,387.2 267.9,384.6 268,388.5 268.1,389.5 268.3,387.3 268.4,389.9 268.5,390.3 268.7,386.5 268.8,386.8 268.9,385.6 269.1,388.4 269.2,388.6 269.3,388.4 269.4,385.6 269.6,386.3 269.7,385.3 269.8,385 270,385.4 270.1,385.1 270.2,387.2 270.4,388.2 270.5,388.5 270.6,387.5 270.7,386.5 270.9,387.5 271,388.4 271.1,387 271.3,387.6 271.4,387 271.5,386.7 271.7,387.6 271.8,385.8 271.9,389.1 272,385.1 272.2,388.2 272.3,385.4 272.4,389.8 272.6,388.8 272.7,386.2 272.8,386.8 273,385.8 273.1,387.4 273.2,388.1 273.3,391.4 273.5,385.4 273.6,389.4 273.7,386.6 273.9,387.9 274,388.9 274.1,388.3 274.3,388.2 274.4,387.2 274.5,387.5 274.6,387.7 274.8,389.4 274.9,385.2 275,386.7 275.2,385.6 275.3,386 275.4,386.3 275.6,389.2 275.7,390.8 275.8,389.6 275.9,385.7 276.1,387.6 276.2,385.7 276.3,388.2 276.5,389.5 276.6,388.4 276.7,388.8 276.9,387.3 277,384.5 277.1,384.4 277.2,387.3 277.4,388.4 277.5,389.5 277.6,387 277.8,387.6 277.9,387.9 278,389.1 278.2,387.4 278.3,385.8 278.4,389.2 278.5,388.1 278.7,388.1 278.8,385.5 278.9,387.5 279.1,384.9 279.2,384.4 279.3,387.1 279.5,386.8 279.6,388.4 279.7,389.7 279.8,387.4 280,390.3 280.1,386.6 280.2,388.7 280.4,385.5 280.5,387.7 280.6,387 280.8,387.2 280.9,388.4 281,384.6 281.1,387.7 281.3,386.2 281.4,387.7 281.5,388.1 281.7,386.9 281.8,386.9 281.9,385.7 282.1,388.3 282.2,386.5 282.3,388.2 282.4,385.3 282.6,389.6 282.7,385.9 282.8,389.3 283,386.8 283.1,388.3 283.2,387.3 283.4,388.5 283.5,387.5 283.6,389.5 283.7,388.5 283.9,388.5 284,390.1 284.1,386.4 284.3,389.5 284.4,387.6 284.5,385.2 284.7,388.2 284.8,387.2 284.9,390.1 285,386.7 285.2,387.6 285.3,387.9 285.4,384.6 285.6,388.3 285.7,386 285.8,389.7 286,390.1 286.1,387.5 286.2,385.1 286.3,387.8 286.5,387.8 286.6,388.6 286.7,387 286.9,385.7 287,387.3 287.1,386.1 287.3,390.2 287.4,386.4 287.5,386.5 287.6,387.4 287.8,385.6 287.9,386.8 288,387.3 288.2,386.7 288.3,387.1 288.4,389.4 288.6,388.2 288.7,385.4 288.8,386.8 288.9,388.6 289.1,386.5 289.2,387.6 289.3,387.5 289.5,388.3 289.6,387.2 289.7,387.3 289.9,386.2 290,388.1 290.1,386.1 290.2,390.2 290.4,387.5 290.5,387.2 290.6,388.7 290.8,387.4 290.9,387.6 291,387.4 291.2,386.4 291.3,386.1 291.4,386.4 291.5,389.2 291.7,386.5 291.8,386.9 291.9,386.8 292.1,388.6 292.2,390.5 292.3,386.1 292.5,388.3 292.6,387.7 292.7,387 292.8,388.3 293,385.5 293.1,388.8 293.2,387.8 293.4,386 293.5,389.9 293.6,388.8 293.8,389.3 293.9,385.3 294,387.1 294.1,386.7 294.3,388.5 294.4,389.6 294.5,384.6 294.7,387.5 294.8,387.3 294.9,389 295.1,387.4 295.2,385.5 295.3,387.2 295.4,385.9 295.6,386.3 295.7,387.6 295.8,386.8 296,387.9 296.1,385.2 296.2,391.1 296.4,389.4 296.5,388.6 296.6,385.5 296.7,384.2 296.9,386.2 297,387.1 297.1,390.9 297.3,389.5 297.4,386.7 297.5,389.4 297.7,389.4 297.8,387.5 297.9,389.4 298,388 298.2,386.5 298.3,385.7 298.4,387.3 298.6,389 298.7,385.4 298.8,385 299,388.3 299.1,383.3 299.2,390.3 299.3,386.8 299.5,388.6 299.6,390.4 299.7,385.3 299.9,385.9 300,390.9 300.1,387.1 300.3,387.3 300.4,387.8 300.5,389.1 300.6,389.5 300.8,387.7 300.9,387 301,387.4 301.2,388 301.3,389.5 301.4,387.7 301.6,390.3 301.7,386.2 301.8,388.3 301.9,390.2 302.1,389.5 302.2,388 302.3,386.1 302.5,386.4 302.6,387.3 302.7,388 302.9,387.1 303,385.3 303.1,386.4 303.2,388.3 303.4,388.8 303.5,385.4 303.6,386.9 303.8,384.9 303.9,386.6 304,392.9 304.2,387.6 304.3,387 304.4,386.6 304.5,385.6 304.7,384.6 304.8,387.4 304.9,387.1 305.1,389.8 305.2,385 305.3,388.2 305.5,389.6 305.6,384.5 305.7,388.5 305.8,385 306,388.3 306.1,389.8 306.2,387.5 306.4,387.9 306.5,386.4 306.6,387.9 306.8,389.2 306.9,387.2 307,387.3 307.1,388.1 307.3,388.8 307.4,385 307.5,387.6 307.7,386.4 307.8,388.3 307.9,389.1 308.1,388 308.2,389.5 308.3,386 308.4,386.9 308.6,386 308.7,387.6 308.8,387.6 309,387.2 309.1,385.6 309.2,387.4 309.4,386.8 309.5,388.4 309.6,387.1 309.7,389.3 309.9,387.9 310,384.7 310.1,387.2 310.3,385.3 310.4,389 310.5,389.7 310.7,387.5 310.8,388.2 310.9,385.3 311,384.1 311.2,386.6 311.3,387.1 311.4,385.2 311.6,387.6 311.7,388 311.8,388.5 312,389.9 312.1,388.7 312.2,386.9 312.3,387.7 312.5,388.4 312.6,385.9 312.7,389.5 312.9,388.9 313,387.2 313.1,386.5 313.3,393.3 313.4,388.8 313.5,388.9 313.6,390.3 313.8,389 313.9,387.8 314,388.6 314.2,386.1 314.3,388.6 314.4,385.1 314.6,388.2 314.7,388.4 314.8,385.1 314.9,390.5 315.1,385.7 315.2,389.1 315.3,386.7 315.5,388 315.6,386.5 315.7,391.3 315.9,389.1 316,390.3 316.1,388.7 316.2,388.6 316.4,387.8 316.5,387.2 316.6,388.5 316.8,387.8 316.9,387.3 317,385.4 317.2,387.1 317.3,388.5 317.4,386.8 317.5,388.1 317.7,387.3 317.8,385.9 317.9,386.1 318.1,386.4 318.2,387.1 318.3,387.1 318.5,389.3 318.6,385.9 318.7,384.4 318.8,388.6 319,386.8 319.1,387.4 319.2,391.5 319.4,389.8 319.5,388.4 319.6,389 319.8,387.7 319.9,389 320,386.6 320.1,386.4 320.3,386.8 320.4,390 320.5,389.9 320.7,386.6 320.8,389.3 320.9,387.3 321.1,389.2 321.2,387.1 321.3,389 321.4,387.4 321.6,387.1 321.7,387.5 321.8,387.8 322,386.7 322.1,385.4 322.2,390.2 322.4,386.9 322.5,384.8 322.6,384.1 322.7,383.2 322.9,386.6 323,389.6 323.1,385 323.3,387.1 323.4,384.7 323.5,389.3 323.7,388.1 323.8,388.1 323.9,389.6 324,390.1 324.2,389.1 324.3,386.7 324.4,385.5 324.6,385.9 324.7,384.9 324.8,390.3 325,387.3 325.1,387.8 325.2,387.9 325.3,390.7 325.5,386.7 325.6,389.4 325.7,388 325.9,387.3 326,384.6 326.1,389 326.3,386.4 326.4,386.9 326.5,387.9 326.6,387.7 326.8,389.3 326.9,386.5 327,387.8 327.2,388 327.3,387.6 327.4,388.6 327.6,387.2 327.7,389.4 327.8,386.5 327.9,385.3 328.1,387.5 328.2,389.4 328.3,386.8 328.5,386.6 328.6,387 328.7,387.8 328.9,387.3 329,388 329.1,384.9 329.2,389.9 329.4,388.5 329.5,386.2 329.6,389.7 329.8,388.3 329.9,389.8 330,385.7 330.2,390.1 330.3,387.6 330.4,384.4 330.5,388.7 330.7,387.1 330.8,386 330.9,387.2 331.1,384.6 331.2,388.5 331.3,387.2 331.5,387.1 331.6,389.7 331.7,387.6 331.8,386.5 332,386.1 332.1,387.5 332.2,389.2 332.4,386.7 332.5,386 332.6,389 332.8,387.7 332.9,387.5 333,390.8 333.1,385.7 333.3,387.9 333.4,384.8 333.5,387.1 333.7,388.5 333.8,389.3 333.9,385.6 334.1,388.9 334.2,388.8 334.3,387.4 334.4,391.4 334.6,387.6 334.7,386.2 334.8,388.2 335,384.7 335.1,390 335.2,389.1 335.4,386.9 335.5,388.5 335.6,388.4 335.7,390.6 335.9,386.6 336,385.6 336.1,384.4 336.3,387.1 336.4,385.1 336.5,387.3 336.7,388.2 336.8,386.9 336.9,386.1 337,389.4 337.2,387.3 337.3,387.9 337.4,389 337.6,385.5 337.7,386.1 337.8,391.4 338,387.3 338.1,386 338.2,387.2 338.3,386.7 338.5,385.7 338.6,386.9 338.7,387.5 338.9,387.5 339,388.4 339.1,384.9 339.3,385.3 339.4,388.8 339.5,386.9 339.6,389.4 339.8,388 339.9,385.4 340,388.4 340.2,386 340.3,388 340.4,389.5 340.6,390.8 340.7,387.5 340.8,388.6 340.9,388 341.1,388.8 341.2,383.6 341.3,387 341.5,388 341.6,388.3 341.7,386.4 341.9,388.8 342,389.3 342.1,387.7 342.2,387.2 342.4,387 342.5,387.8 342.6,389.4 342.8,389.9 342.9,386.8 343,386.1 343.2,386.3 343.3,389.1 343.4,387.9 343.5,388 343.7,388.3 343.8,388.1 343.9,387.4 344.1,386 344.2,386.6 344.3,387.7 344.5,388.2 344.6,387 344.7,386.9 344.8,389.7 345,386.8 345.1,387.9 345.2,387.1 345.4,386.2 345.5,385.2 345.6,386.7 345.8,386.3 345.9,388.9 346,385.8 346.1,386.9 346.3,388.6 346.4,387.4 346.5,388.3 346.7,388.8 346.8,385 346.9,386.9 347.1,386.1 347.2,389.6 347.3,387.4 347.4,388.3 347.6,390.2 347.7,387 347.8,387.7 348,388.2 348.1,387.2 348.2,389.5 348.4,388.8 348.5,389.1 348.6,387.6 348.7,387 348.9,387 349,387 349.1,385 349.3,388.1 349.4,388.8 349.5,387.5 349.7,386.8 349.8,387.6 349.9,387.9 350,388.1 350.2,390.3 350.3,386.3 350.4,388.1 350.6,388.6 350.7,387.7 350.8,387.2 351,386 351.1,386.7 351.2,388.6 351.3,389.8 351.5,386.6 351.6,388.3 351.7,388.4 351.9,389.1 352,387.9 352.1,388.2 352.3,388.9 352.4,385.8 352.5,387.6 352.6,384.9 352.8,384.6 352.9,386.3 353,385.2 353.2,388.3 353.3,389.1 353.4,387.1 353.6,387.3 353.7,387.2 353.8,387.2 353.9,387.8 354.1,388.1 354.2,386.9 354.3,386.4 354.5,386.8 354.6,388.8 354.7,386.9 354.9,389.8 355,387.2 355.1,389.6 355.2,385.7 355.4,386.5 355.5,388.3 355.6,388.3 355.8,387.3 355.9,390.6 356,387.7 356.2,388 356.3,386.7 356.4,390.1 356.5,388.8 356.7,388.2 356.8,385.1 356.9,388.1 357.1,386.8 357.2,388.1 357.3,388.9 357.5,386.4 357.6,387.9 357.7,388.9 357.8,387.8 358,387.1 358.1,386 358.2,386.5 358.4,385.6 358.5,389 358.6,387.7 358.8,385.7 358.9,387.5 359,385.6 359.1,382.6 359.3,389.4 359.4,389.3 359.5,385.3 359.7,386.5 359.8,387.9 359.9,387 360.1,386.3 360.2,386.8 360.3,387.2 360.4,386.7 360.6,387.9 360.7,387.2 360.8,386.4 361,387.6 361.1,385 361.2,389.7 361.4,384.9 361.5,387.4 361.6,388.1 361.7,388.2 361.9,387.9 362,389.4 362.1,385.9 362.3,387.4 362.4,387.8 362.5,386.8 362.7,386.7 362.8,389.5 362.9,386.5 363,386.8 363.2,387.1 363.3,387.2 363.4,387.8 363.6,387.2 363.7,388.1 363.8,387.7 364,388.3 364.1,389.6 364.2,386.3 364.3,390 364.5,386.9 364.6,388.5 364.7,387.8 364.9,387.1 365,384.6 365.1,390 365.3,386.4 365.4,386.4 365.5,389.1 365.6,387.6 365.8,390.4 365.9,390.1 366,388.6 366.2,387.9 366.3,388.7 366.4,385.6 366.6,387.8 366.7,387.8 366.8,386.8 366.9,387.9 367.1,385.4 367.2,388.9 367.3,389.5 367.5,385.6 367.6,387.8 367.7,389.8 367.9,388.2 368,386 368.1,386.1 368.2,388.8 368.4,390.3 368.5,385.9 368.6,387.6 368.8,386.4 368.9,387.1 369,388 369.2,387.5 369.3,386.5 369.4,390.7 369.5,387.3 369.7,387.3 369.8,389.2 369.9,387.5 370.1,387.2 370.2,388.9 370.3,386 370.5,388.6 370.6,389.1 370.7,388.5 370.8,387.3 371,387.5 371.1,385 371.2,387.3 371.4,388 371.5,388.8 371.6,387.7 371.8,387 371.9,386.3 372,387.5 372.1,387.7 372.3,389.3 372.4,387.5 372.5,386.8 372.7,387.4 372.8,386.8 372.9,387.2 373.1,384.2 373.2,385.2 373.3,385.8 373.4,388.2 373.6,387.4 373.7,387.7 373.8,389.3 374,386 374.1,389.2 374.2,388.1 374.4,386.5 374.5,389.7 374.6,385.4 374.7,385.9 374.9,387.2 375,388.1 375.1,387.2 375.3,384.4 375.4,387.1 375.5,387.4 375.7,391.3 375.8,389.6 375.9,387.7 376,385.9 376.2,388 376.3,385.8 376.4,387.8 376.6,388.1 376.7,386.9 376.8,387.9 377,387 377.1,386.7 377.2,389.8 377.3,388.4 377.5,387.1 377.6,386.4 377.7,387.8 377.9,388.4 378,388.8 378.1,389.7 378.3,388.2 378.4,385.9 378.5,390.5 378.6,389.2 378.8,388.8 378.9,389.5 379,385.3 379.2,387 379.3,386.8 379.4,389.3 379.6,385.8 379.7,387 379.8,389.8 379.9,388.5 380.1,387 380.2,390.3 380.3,385.6 380.5,388.2 380.6,387.2 380.7,388.3 380.9,387.1 381,386.3 381.1,387.8 381.2,385.6 381.4,388.3 381.5,387 381.6,388.9 381.8,386.9 381.9,386.5 382,388.1 382.2,389.3 382.3,384.5 382.4,387.7 382.5,388.4 382.7,385.4 382.8,386.2 382.9,388.5 383.1,386.3 383.2,386.6 383.3,390.1 383.5,386.1 383.6,386.2 383.7,384.1 383.8,385.9 384,385.7 384.1,390.1 384.2,389.3 384.4,385.6 384.5,390.4 384.6,388.7 384.8,387.2 384.9,388.7 385,388.1 385.1,386.4 385.3,384.9 385.4,386.2 385.5,387.5 385.7,387 385.8,386.4 385.9,389 386.1,385.9 386.2,388.8 386.3,386.8 386.4,387.7 386.6,385.9 386.7,387.5 386.8,386.4 387,384.9 387.1,387.5 387.2,387.4 387.4,388.7 387.5,387.9 387.6,386 387.7,386.6 387.9,383.8 388,385.9 388.1,389.4 388.3,389.8 388.4,388.6 388.5,388 388.7,388.4 388.8,388.2 388.9,384.9 389,386.2 389.2,389.3 389.3,389.3 389.4,387.9 389.6,387.1 389.7,386.9 389.8,386.7 390,386.1 390.1,384.7 390.2,387.7 390.3,386.8 390.5,387.2 390.6,390 390.7,388.4 390.9,386.5 391,388.4 391.1,385.3 391.3,389.1 391.4,387.9 391.5,387.2 391.6,388.4 391.8,389.7 391.9,386.8 392,386 392.2,390.6 392.3,387.5 392.4,389.7 392.6,386.5 392.7,388.1 392.8,386.6 392.9,388.4 393.1,387.1 393.2,386.5 393.3,389.8 393.5,388 393.6,384.5 393.7,387.2 393.9,386.1 394,385.7 394.1,386.6 394.2,386.8 394.4,387.6 394.5,386.3 394.6,384.7 394.8,386.7 394.9,388.8 395,385.5 395.2,388.4 395.3,388.2 395.4,386.8 395.5,388 395.7,386.4 395.8,386.9 395.9,386 396.1,388.2 396.2,389.5 396.3,386.5 396.5,389.3 396.6,384.3 396.7,386.2 396.8,386 397,390.1 397.1,386.6 397.2,388.7 397.4,384.4 397.5,387.7 397.6,388.3 397.8,387.4 397.9,383.4 398,387.8 398.1,388.7 398.3,389.5 398.4,388.1 398.5,385 398.7,387.2 398.8,388.9 398.9,386.3 399.1,388.3 399.2,386.8 399.3,387.6 399.4,388.6 399.6,386.4 399.7,391.8 399.8,387.7 400,388 400.1,386.4 400.2,387.6 400.4,387.1 400.5,385.3 400.6,385.2 400.7,387.9 400.9,387.4 401,383.6 401.1,384.3 401.3,387 401.4,387.4 401.5,388.4 401.7,385.6 401.8,388.4 401.9,387 402,386.7 402.2,387.3 402.3,389 402.4,388.3 402.6,388.8 402.7,386.5 402.8,387.1 403,385.8 403.1,386.7 403.2,386.9 403.3,386.8 403.5,388.6 403.6,388.1 403.7,388.6 403.9,387.7 404,389.1 404.1,387.7 404.3,388.9 404.4,388.3 404.5,388.6 404.6,387.4 404.8,385.6 404.9,385.3 405,390.4 405.2,388.1 405.3,388.2 405.4,387.2 405.6,386.8 405.7,391.8 405.8,385.8 405.9,387.4 406.1,387.4 406.2,385.8 406.3,385.6 406.5,386.4 406.6,387 406.7,386.8 406.9,388.7 407,385.7 407.1,388.1 407.2,389.7 407.4,388.8 407.5,385.8 407.6,383.1 407.8,388.8 407.9,388.2 408,386.6 408.2,389.4 408.3,386.9 408.4,387.7 408.5,385.9 408.7,388 408.8,386.9 408.9,386.7 409.1,389.1 409.2,387.8 409.3,385.3 409.5,388.5 409.6,388.8 409.7,386.3 409.8,386.9 410,387.6 410.1,387.1 410.2,387.7 410.4,388.5 410.5,386.8 410.6,390.6 410.8,386.4 410.9,386.7 411,390.5 411.1,391.1 411.3,387.6 411.4,387.2 411.5,385.9 411.7,389.2 411.8,387.8 411.9,386.2 412.1,388.1 412.2,389.6 412.3,388.5 412.4,390.8 412.6,389.2 412.7,388.2 412.8,387.5 413,388.3 413.1,389.3 413.2,388.8 413.4,389.1 413.5,387.8 413.6,388.6 413.7,389.3 413.9,387.3 414,385.6 414.1,390.1 414.3,388.4 414.4,386.8 414.5,387.9 414.7,387.1 414.8,384.9 414.9,387.2 415,385.4 415.2,387.8 415.3,387.3 415.4,389.2 415.6,387.3 415.7,388.1 415.8,387.1 416,386.9 416.1,385.4 416.2,389 416.3,387.8 416.5,386.6 416.6,387.8 416.7,386.9 416.9,386.4 417,387.9 417.1,389.3 417.3,387.1 417.4,385.4 417.5,386.6 417.6,390.2 417.8,386.3 417.9,389.3 418,387.1 418.2,388.6 418.3,387.3 418.4,385.1 418.6,386.9 418.7,390.7 418.8,387.3 418.9,388.3 419.1,387 419.2,387.3 419.3,388 419.5,388.2 419.6,390.8 419.7,387.5 419.9,387.2 420,386.5 420.1,385.5 420.2,385.1 420.4,388.5 420.5,384.7 420.6,389.6 420.8,388.8 420.9,387.1 421,385.8 421.2,387.5 421.3,387.5 421.4,389.2 421.5,386.4 421.7,386.9 421.8,387.4 421.9,387.1 422.1,386.6 422.2,384.9 422.3,385 422.5,386.5 422.6,387.2 422.7,389 422.8,391 423,390.1 423.1,388.1 423.2,390.3 423.4,387.3 423.5,386.7 423.6,391 423.8,385.9 423.9,386.9 424,387.1 424.1,389.7 424.3,386.6 424.4,388.7 424.5,386.9 424.7,385.7 424.8,387.9 424.9,387.8 425.1,385.8 425.2,386.2 425.3,386.3 425.4,389 425.6,388.2 425.7,387.9 425.8,388.2 426,386.8 426.1,388.2 426.2,386.6 426.4,385.5 426.5,386.5 426.6,387.8 426.7,387.6 426.9,389.1 427,385 427.1,387.2 427.3,388.1 427.4,386.1 427.5,387.9 427.7,386.9 427.8,385.8 427.9,389.2 428,385.4 428.2,389 428.3,386.9 428.4,386.1 428.6,386.2 428.7,386.4 428.8,386.2 429,387.9 429.1,384.7 429.2,389.4 429.3,388.8 429.5,389.6 429.6,386 429.7,384 429.9,386.6 430,387.3 430.1,388 430.3,386.7 430.4,387.4 430.5,387.7 430.6,385.2 430.8,390.2 430.9,385.8 431,387.9 431.2,389.1 431.3,386.3 431.4,387.5 431.6,390 431.7,387.1 431.8,389.1 431.9,388 432.1,387.9 432.2,388.6 432.3,387.2 432.5,387.2 432.6,389 432.7,387.9 432.9,388.3 433,385.7 433.1,387.5 433.2,389.3 433.4,388.9 433.5,388 433.6,386.7 433.8,386.6 433.9,388.2 434,389.6 434.2,387.6 434.3,389.5 434.4,387.1 434.5,389.3 434.7,386 434.8,387.8 434.9,385.9 435.1,388.5 435.2,388.4 435.3,386.1 435.5,386.4 435.6,386.9 435.7,385.3 435.8,386.1 436,386.2 436.1,388.7 436.2,389.6 436.4,386.9 436.5,387.1 436.6,387.8 436.8,386.7 436.9,387.1 437,388.8 437.1,387.9 437.3,387.4 437.4,386.7 437.5,389.7 437.7,386.6 437.8,387.7 437.9,386 438.1,386.6 438.2,387.7 438.3,386.9 438.4,388.3 438.6,387.6 438.7,385.5 438.8,384.1 439,389 439.1,386.6 439.2,389.7 439.4,387.5 439.5,386.4 439.6,388.4 439.7,387.1 439.9,387.5 440,386.1 440.1,388.5 440.3,389.2 440.4,386.7 440.5,390.2 440.7,386.7 440.8,387.9 440.9,385.1 441,384.6 441.2,390.7 441.3,389.7 441.4,389.2 441.6,385 441.7,387.9 441.8,388.1 442,387.6 442.1,388 442.2,386.1 442.3,387.3 442.5,385.8 442.6,387 442.7,388.1 442.9,386.3 443,387.1 443.1,386.9 443.3,387.5 443.4,388.9 443.5,387.9 443.6,388.1 443.8,385.4 443.9,387 444,388.7 444.2,386.2 444.3,386.9 444.4,386.1 444.6,389.5 444.7,386.8 444.8,386.4 444.9,388.4 445.1,389.2 445.2,388.3 445.3,389 445.5,387.8 445.6,387.3 445.7,386.9 445.9,386.8 446,386.6 446.1,388.1 446.2,387.3 446.4,387.6 446.5,388.4 446.6,387.4 446.8,385.5 446.9,386.3 447,385.8 447.2,384.7 447.3,387.7 447.4,385.7 447.5,385.6 447.7,385.9 447.8,388.8 447.9,387 448.1,389 448.2,387.4 448.3,386.9 448.5,388.4 448.6,388.4 448.7,387.7 448.8,386 449,386.8 449.1,385.7 449.2,387.1 449.4,387.6 449.5,389.7 449.6,389.6 449.8,388.5 449.9,388.9 450,387.9 450.1,391.7 450.3,389.8 450.4,391.5 450.5,388.1 450.7,388.1 450.8,389.1 450.9,387.8 451.1,388 451.2,386 451.3,388.9 451.4,387.7 451.6,388.7 451.7,387.2 451.8,384.8 452,388.3 452.1,389.2 452.2,385.6 452.4,386 452.5,387.1 452.6,387.1 452.7,385 452.9,390.1 453,389 453.1,386.6 453.3,384.8 453.4,388 453.5,390.5 453.7,388.7 453.8,389.2 453.9,386.1 454,387.8 454.2,385.3 454.3,390.5 454.4,388.4 454.6,384.3 454.7,384.7 454.8,388.2 455,387.7 455.1,387 455.2,388.4 455.3,390.5 455.5,388 455.6,384.8 455.7,387.3 455.9,385.5 456,386.3 456.1,388 456.3,387.2 456.4,385.9 456.5,387.5 456.6,386.3 456.8,388.3 456.9,387.1 457,388.1 457.2,387.1 457.3,388.6 457.4,387.3 457.6,387.5 457.7,386.6 457.8,387.7 457.9,384.8 458.1,391.5 458.2,386.5 458.3,387.6 458.5,386.8 458.6,386.8 458.7,388.1 458.9,386.7 459,386.8 459.1,385.4 459.2,386.1 459.4,385.7 459.5,390.2 459.6,385.5 459.8,385.9 459.9,387.8 460,389.6 460.2,384.9 460.3,385.2 460.4,387.7 460.5,388 460.7,385.4 460.8,384.8 460.9,386 461.1,388.6 461.2,387.4 461.3,388.6 461.5,387.3 461.6,387.4 461.7,388.4 461.8,387.3 462,387.8 462.1,386.1 462.2,386.6 462.4,388.2 462.5,387.1 462.6,386.4 462.8,388.5 462.9,388.3 463,387.5 463.1,386.3 463.3,388.8 463.4,391.2 463.5,386.2 463.7,385.2 463.8,386.3 463.9,386.1 464.1,385.6 464.2,385.7 464.3,388.7 464.4,388.8 464.6,389.7 464.7,388.6 464.8,386.7 465,389.1 465.1,386.5 465.2,386.9 465.4,385.7 465.5,389.3 465.6,389 465.7,386.8 465.9,387 466,387.5 466.1,387.8 466.3,388.7 466.4,387.6 466.5,388.1 466.7,385.2 466.8,387 466.9,384.8 467,390.1 467.2,389.6 467.3,388.5 467.4,389.1 467.6,390.5 467.7,388.9 467.8,385.1 468,387.1 468.1,383.9 468.2,386.2 468.3,385.6 468.5,387.4 468.6,388 468.7,386.1 468.9,387 469,387.9 469.1,387.2 469.3,387.2 469.4,383.8 469.5,386.8 469.6,388.6 469.8,387.8 469.9,385.2 470,387 470.2,387.8 470.3,386 470.4,388.5 470.6,386.2 470.7,387 470.8,387.3 470.9,390.8 471.1,387 471.2,386.6 471.3,388.5 471.5,386.7 471.6,387.7 471.7,384.1 471.9,387.9 472,387.4 472.1,385.5 472.2,389.5 472.4,387.1 472.5,387.2 472.6,385.5 472.8,385 472.9,386.6 473,385.2 473.2,388.2 473.3,388.7 473.4,386.5 473.5,385 473.7,386.9 473.8,385.9 473.9,387.7 474.1,387.7 474.2,386.8 474.3,387.6 474.5,389 474.6,390 474.7,386.7 474.8,388.5 475,387.1 475.1,385.9 475.2,389.4 475.4,388 475.5,387.7 475.6,388 475.8,387.2 475.9,385.9 476,390.1 476.1,388.8 476.3,387.8 476.4,388.9 476.5,389.4 476.7,387.1 476.8,388.3 476.9,387 477.1,388.4 477.2,387.1 477.3,391.1 477.4,386.9 477.6,388.2 477.7,388.1 477.8,386.9 478,388.8 478.1,387.3 478.2,386.8 478.4,387.4 478.5,386.3 478.6,389.2 478.7,388.4 478.9,388.9 479,385.4 479.1,387.8 479.3,386.3 479.4,387.6 479.5,389.3 479.7,387.8 479.8,387.2 479.9,389.1 480,389 480.2,390.2 480.3,384.6 480.4,387.9 480.6,386.8 480.7,386.1 480.8,387.6 481,385.7 481.1,384.1 481.2,386.1 481.3,387 481.5,390.2 481.6,386.4 481.7,385.7 481.9,384.5 482,386.9 482.1,387.1 482.3,387.7 482.4,385.3 482.5,386.3 482.6,384 482.8,387.7 482.9,385.1 483,383.3 483.2,389.2 483.3,388.2 483.4,388 483.6,388 483.7,385.9 483.8,389 483.9,385.9 484.1,390.3 484.2,387.8 484.3,384.7 484.5,388.7 484.6,390.4 484.7,387.1 484.9,389 485,387.1 485.1,386.5 485.2,383.6 485.4,389.3 485.5,386.8 485.6,388 485.8,385.7 485.9,386.1 486,389.1 486.2,386.9 486.3,386.8 486.4,385.5 486.5,387.8 486.7,388.6 486.8,386.8 486.9,387.2 487.1,385.6 487.2,389.5 487.3,386.5 487.5,387.2 487.6,390 487.7,387.1 487.8,385.1 488,386.1 488.1,386.9 488.2,390.1 488.4,387.8 488.5,387.1 488.6,388.7 488.8,389.4 488.9,386.3 489,389.6 489.1,388.7 489.3,388.1 489.4,383.9 489.5,387.7 489.7,389.6 489.8,387 489.9,390.9 490.1,387.6 490.2,385.9 490.3,388.3 490.4,387.9 490.6,388.7 490.7,387.1 490.8,389.4 491,386.6 491.1,387.7 491.2,385.6 491.4,386.3 491.5,387.8 491.6,386.5 491.7,386.8 491.9,387.1 492,387.8 492.1,388.6 492.3,388.6 492.4,389 492.5,387.8 492.7,386.6 492.8,385.1 492.9,386.9 493,386.3 493.2,384.7 493.3,390 493.4,384.7 493.6,388 493.7,388.3 493.8,387.1 494,391.4 494.1,387.5 494.2,386.3 494.3,390.1 494.5,386.3 494.6,385.3 494.7,385.9 494.9,386.5 495,387.5 495.1,388 495.3,385.2 495.4,388 495.5,390.9 495.6,386.4 495.8,387.3 495.9,388.5 496,389.3 496.2,386.5 496.3,386 496.4,385.9 496.6,389.1 496.7,388.8 496.8,384.2 496.9,384.2 497.1,385.6 497.2,385.2 497.3,388.1 497.5,387.8 497.6,390.4 497.7,388.7 497.9,387.7 498,389.3 498.1,386.1 498.2,385.3 498.4,387.5 498.5,388.9 498.6,385 498.8,388.8 498.9,388.8 499,386.7 499.2,387.7 499.3,387 499.4,387.6 499.5,388.7 499.7,386.2 499.8,389.1 499.9,388.8 500.1,388.8 500.2,384.5 500.3,384.6 500.5,388.5 500.6,386.6 500.7,386.4 500.8,386.3 501,385.4 501.1,387 501.2,386.4 501.4,386.5 501.5,388.2 501.6,385.7 501.8,389.2 501.9,384.1 502,391.3 502.1,385.4 502.3,388.4 502.4,388.9 502.5,387.5 502.7,388.6 502.8,387.3 502.9,384.8 503.1,388 503.2,389.2 503.3,386.6 503.4,384.9 503.6,386.5 503.7,388 503.8,387.9 504,389.2 504.1,388.3 504.2,388.2 504.4,384.4 504.5,390.9 504.6,387.5 504.7,388.8 504.9,386.9 505,387.2 505.1,387.6 505.3,389.9 505.4,389.8 505.5,388.4 505.7,390.5 505.8,386.9 505.9,388.3 506,386.8 506.2,389.5 506.3,387.5 506.4,389 506.6,390.1 506.7,384.3 506.8,390.8 507,388 507.1,387 507.2,384.5 507.3,387 507.5,384 507.6,387.6 507.7,387.2 507.9,390.3"/>
<line x1="214.5" y1="387.6" x2="228.5" y2="387.6" stroke="#bbb" stroke-width=".6" />
<path d="M47.6 432h.9m-.9-.3h.9m-.5-.6h.9m-.3 1.2h.9m-.8 3.6h.9m-.8-4.7h.9m-.3 4.8h.9m-.2-1.7h.9m-.5-3.1h.9m-.5 3.5h.9m-.7 .1h.9m-.9-11.6h.9m-.9 8.9h.9m-.9 .9h.9m-.7-.4h.9m-.8 0h.9m-.8-2.6h.9m-.8 6.1h.9m-.6-.3h.9m-.8-2.7h.9m-.9-1h.9m-.9 3.6h.9m-.8-3.2h.9m-.8 1.1h.9m-.5-3h.9m-.8 4.6h.9m-.9-2.4h.9m-.9-.9h.9m-.2 .4h.9m-.8 2.8h.9m-.9 .7h.9m-.8-5.6h.9m-.8 3.9h.9m-.5-.2h.9m-.6 .6h.9m-.6-1.6h.9m-.1-1.4h.9m-.8-.8h.9m-.9 4.5h.9m-.8-1.7h.9m-.7 1.8h.9m-.8-2.2h.9m-.7 .1h.9m-.9-1.4h.9m-.7-.5h.9m-.9 1.4h.9m-.7 .2h.9m-.9 1.5h.9m-.8-1.6h.9m-.7 .5h.9m-.8 .1h.9m-.9-6h.9m-.8 4.7h.9m-.7 .5h.9m-.9 2.4h.9m-.7-1.2h.9m-.8-.7h.9m-.8 1.4h.9m-.6-2.3h.9m-.8 1.7h.9m-.8-.5h.9m-.9-1.4h.9m0 .8h.9m-.6 1.8h.9m-.8-1.8h.9m-.7-.3h.9m-.5 .6h.9m-.8-1.9h.9m-.8 2.2h.9m-.8 1.3h.9m-.7-1.7h.9m-.9-.7h.9m-.7 1.7h.9m-.8-10.7h.9m-.9 6.6h.9m-.5 4.6h.9m-.4-2.7h.9m-.5 3.1h.9m-.5 .8h.9m-.7-3.1h.9m-.8-.6h.9m-.7 2.1h.9m-.9-.3h.9m-.8-.1h.9m-.7-.8h.9m-.9-2h.9m-.8 1.7h.9m-.8-.5h.9m-.5 1.5h.9m-.8 2.6h.9m-.9-7h.9m-.7 5h.9m-.7 5.1h.9m-.9-6.8h.9m-.7 0h.9m-.6 2.1h.9m-.3-2.5h.9m-.9 1.4h.9m-.6-2h.9m-.8 1.3h.9m-.9-1.5h.9m-.5 2.1h.9m-.9-2.6h.9m-.8 3.6h.9m-.4-1h.9m-.7-.4h.9m-.8 1.3h.9m-.8-2.9h.9m-.8 1.6h.9m-.2-1.7h.9m-.4 .2h.9m-.7 2.5h.9m-.7 1.7h.9m-.6-7.7h.9m-.3 4h.9m-.7-1h.9m-.9 1.5h.9m-.5 1.6h.9m-.8 1.6h.9m-.8-11.8h.9m-.6 10.2h.9m-.6-.1h.9m.1-2.3h.9m-.2-1.2h.9m-.5 3.8h.9m-.8-2.7h.9m-.9 3.5h.9m-.7-1.6h.9m.8-.9h.9m-.5 2.6h.9m-.9-2.2h.9m-.6 0h.9m-.9 .4h.9m-.8-1.6h.9m-.5 1.6h.9m-.9 2.3h.9m-.8-2.9h.9m-.7-.6h.9m-.8 1.5h.9m-.9-.7h.9m-.9 2.7h.9m-.2-1.8h.9m-.8 1.9h.9m-.9-2.7h.9m-.8 1.1h.9m-.6 .4h.9m-.6-.9h.9m-.7-.8h.9m-.8 .1h.9m-.9 .4h.9m-.8-1.8h.9m-.8 3.6h.9m-.8-2.8h.9m-.7 1.2h.9m-.5 2.3h.9m-.7-1.6h.9m-.8-1.1h.9m-.4-.3h.9m-.5-1.8h.9m-.9 2.1h.9m-.4 1.2h.9m-.7-2.1h.9m-.7-1.9h.9m-.8-.2h.9m-.8 3.2h.9m-.9-1.8h.9m-.7 .1h.9m-.8 .3h.9m-.7 .5h.9m-.9 1.4h.9m-.8 .4h.9m-.7 .3h.9m-.7-1.2h.9m-.6-2h.9m-.9 .2h.9m-.5 .7h.9m-.9 .6h.9m-.6 .1h.9m-.7 .8h.9m-.9-1.1h.9m-.6-2.9h.9m0 2.9h.9m-.9 .8h.9m-.7-.5h.9m-.6-2.2h.9m-.6 2.7h.9m-.2-1.6h.9m-.8-.5h.9m-.5 10.1h.9m-.9-6.9h.9m-.9-2.3h.9m-.6-.3h.9m-.8 2.9h.9m-.9-2.3h.9m-.4 1.3h.9m-.8-.8h.9m-.7-2.7h.9m-.7 3.4h.9m-.9-.4h.9m-.5 1h.9m-.6 .8h.9m-.9-2h.9m-.7-2.4h.9m-.9 3.7h.9m-.9-.7h.9m-.9 1.9h.9m-.7-1.6h.9m-.8-2.6h.9m-.7 3.7h.9m-.9 0h.9m-.9-3.7h.9m-.7 4h.9m-.9-.9h.9m-.8-2.7h.9m-.9-1.3h.9m-.8-.6h.9m-.7 4.7h.9m-.8-1.6h.9m-.9-1.3h.9m-.5 2.5h.9m-.7-2.6h.9m-.7-5.2h.9m-.2 4.6h.9m-.7-.4h.9m-.2 0h.9m-.8 .7h.9m-.9-1h.9m-.8 1.5h.9m-.9 .1h.9m-.8 1h.9m-.8 3.1h.9m-.9-2.1h.9m-.9 .6h.9m-.6-2.9h.9m-.8 .8h.9m-.7-.3h.9m-.8 .7h.9m-.7 .2h.9m-.8-.5h.9m-.8 .3h.9m-.9-.8h.9m-.8 2.5h.9m-.8-2.1h.9m-.9 2.4h.9m-.5-4h.9m-.8 2.3h.9m-.3 0h.9m-.9-1h.9m-.6 .8h.9m-.9 .2h.9m-.8-1.3h.9m-.7 1.2h.9m-.8 0h.9m-.7-3.2h.9m-.9 4.2h.9m-.8-.3h.9m-.8-1.3h.9m-.6 .3h.9m-.8 1.1h.9m-.6-4.1h.9m-.7 2.3h.9m-.5 3.3h.9m-.9-.9h.9m-.3 1h.9m-.8-2.1h.9m-.9 3h.9m-.8-3.5h.9m-.5 2h.9m-.8-5.9h.9m-.6 2.3h.9m-.9 3.9h.9m-.8-4.2h.9m-.9 3h.9m-.9-1.9h.9m-.8 2.5h.9m-.2-2.7h.9m-.6 1.2h.9m-.9-.5h.9m-.5-1.3h.9m-.7-1.1h.9m-.7 1.7h.9m-.5-1.1h.9m-.9 2.1h.9m-.8 2.7h.9m-.9-3.1h.9m-.8 .8h.9m-.9-1.6h.9m-.9 2.7h.9m-.8 1.4h.9m-.9-4.5h.9m-.8 2.5h.9m-.6-1.7h.9m-.6 5h.9m-.7-3.4h.9m-.6-.3h.9m-.7-1.5h.9m-.8 .2h.9m-.9 0h.9m-.3 2.7h.9m-.5-2.1h.9m-.9 1.8h.9m-.7-1h.9m-.7-1.1h.9m-.6 1.1h.9m-.7 1.7h.9m-.8 .1h.9m-.9-2h.9m-.7 .4h.9m-.8-.7h.9m-.6 7.5h.9m-.3-8.4h.9m-.6 .8h.9m-.9-1.1h.9m-.8 1.3h.9m-.5-1.1h.9m-.9 .9h.9m-.7 0h.9m-.9 1.1h.9m-.9 .4h.9m-.8-3h.9m-.9 5.1h.9m-.8-2.7h.9m-.8 .3h.9m-.8-2.3h.9m-.9-.6h.9m-.7 .9h.9m-.8 .7h.9m-.9-1h.9m-.9 .7h.9m-.8 1h.9m-.5 .5h.9m-.9-.2h.9m-.9-4.6h.9m-.8 3.9h.9m-.6-2.8h.9m-.6 1.6h.9m-.8-2.8h.9m-.8 3.9h.9m-.6 2.2h.9m-.9-3.3h.9m-.9 1.5h.9m-.6-.2h.9m-.9 2.6h.9m-.8-2.9h.9m-.8 .7h.9m-.7-.2h.9m-.9-2.3h.9m-.7 3.4h.9m-.7 .3h.9m-.4-2.6h.9m-.8 1.6h.9m-.6-.8h.9m-.7-1.1h.9m-.8 3.1h.9m-.7-2.3h.9m-.8-.4h.9m-.8-.6h.9m-.8 1h.9m-.8-1.6h.9m-.9 .4h.9m-.9 3.1h.9m-.8-2.8h.9m-.8 .2h.9m-.7 1.4h.9m-.9-1.8h.9m-.9 1.1h.9m-.7 0h.9m-.7 1h.9m-.9-3.1h.9m-.8 1.9h.9m-.5-.5h.9m-.6-1.4h.9m-.8-1.9h.9m-.8 4.2h.9m-.9 1h.9m-.8-2.5h.9m-.7 2.5h.9m-.8-1.1h.9m-.8-1.6h.9m-.7 1h.9m-.9 .2h.9m-.9-5.1h.9m-.9 3h.9m-.5 1.7h.9m-.9-.2h.9m-.5 1.8h.9m-.9-.8h.9m-.7-1.3h.9m-.8 2.2h.9m-.9 .2h.9m-.8-.2h.9m-.8-1.6h.9m-.8 3.8h.9m-.8-3.7h.9m-.9-4.6h.9m-.9 7.2h.9m-.5-.3h.9m-.9-2.7h.9m-.6 1.8h.9m-.3-1.8h.9m-.5 1.9h.9m-.8 1h.9m-.7-3.3h.9m-.5 2h.9m-.9-1h.9m-.8 3h.9m-.5-3.6h.9m-.8-.5h.9m-.4 1.1h.9m-.7 4.1h.9m-.7-4.6h.9m.3 .3h.9m-.9 1h.9m-.4-1.1h.9m-.6 1.5h.9m-.3 .2h.9m-.9-.2h.9m-.7 .9h.9m-.9-1.8h.9m-.8 9h.9m-.6-10.3h.9m-.6 5.1h.9m-.8-3.7h.9m-.7 .6h.9m-.7-4.6h.9m-.7 7.6h.9m-.2-4.6h.9m-.8 1.8h.9m.2-.4h.9m-.4-.8h.9m-.9-.3h.9m-.7 2h.9m-.8-.7h.9m-.9 5.2h.9m-.2-7h.9m-.9-.3h.9m-.8 1.5h.9m-.8-.1h.9m-.3 0h.9m-.9 0h.9m-.8 1.9h.9m-.4-.3h.9m-.5-3.8h.9m-.9 1.4h.9m-.6-2.1h.9m-.6 5.2h.9m-.8-4.2h.9m-.8 3.6h.9m-.9-3.7h.9m-.3 .4h.9m-.8 1.9h.9m-.8 1h.9m-.8-1.6h.9m-.9-.3h.9m-.8-.1h.9m-.8 1.7h.9m-.8 .5h.9m-.8 7.4h.9m-.7-9h.9m-.5 2.6h.9m-.7-.1h.9m-.4-3.4h.9m-.9 1.5h.9m-.9-.7h.9m-.7 1h.9m-.8 .5h.9m-.8-1.7h.9m-.6 .5h.9m-.7-.3h.9m-.8-1.3h.9m-.9 .8h.9m-.8 1.4h.9m-.8-2.2h.9m-.4 2.3h.9m-.9 .3h.9m-.9-.3h.9m-.9-.9h.9m-.8-2.1h.9m-.8 4.5h.9m-.8-1.7h.9m-.5 .9h.9m-.9-2h.9m-.8-.1h.9m-.9 .6h.9m-.5-2.4h.9m-.6 2.7h.9m-.9-1.5h.9m-.6 3.6h.9m-.6-.1h.9m-.6-2.1h.9m-.4-.2h.9m-.2 3.4h.9m-.5-3.4h.9m-.9 1.1h.9m-.9-1.4h.9m-.5 1.9h.9m-.8-2.7h.9m-.8-.5h.9m-.8 2.5h.9m-.8 .6h.9m-.9-1.1h.9m-.1 1h.9m-.9-2.7h.9m-.8 1.4h.9m-.9-1.9h.9m-.8 3.2h.9m-.4-1h.9m-.5-2h.9m-.9 1.9h.9m-.6 .1h.9m-.7-.5h.9m-.6 1.7h.9m-.3-.7h.9m-.2-.3h.9m-.7 2.3h.9m-.8-1.9h.9m-.9-2h.9m-.8 2.1h.9m-.8-1h.9m-.8-3.4h.9m-.8 4.7h.9m-.7 3.9h.9m-.9-9.1h.9m-.5 4.3h.9m-.3 .8h.9m-.6-7.5h.9m-.3 6.7h.9m-.7-.6h.9m-.9-.4h.9m-.5-.2h.9m-.9 2h.9m-.7-3.8h.9m-.8 4.6h.9m-.7-1.4h.9m-.7 .3h.9m-.8 .3h.9m-.8-1.6h.9m-.8-4.3h.9m-.8 5.5h.9m-.9 .1h.9m-.2-1.8h.9m-.8 2.7h.9m-.7-2.8h.9m-.8-.2h.9m-.8 2.2h.9m-.8 .6h.9m-.9-3.1h.9m-.9 3.7h.9m-.8-2.4h.9m-.8-2.2h.9m-.7 1.5h.9m-.6 3.4h.9m-.8-.8h.9m-.9-2.8h.9m-.6 2.7h.9m-.7-2.1h.9m-.7 .7h.9m-.8-.4h.9m-.9 1.5h.9m-.7-2h.9m-.4-.6h.9m-.6-1.8h.9m-.7 3h.9m-.9 3h.9m-.4-1.5h.9m-.7-.6h.9m-.8-.5h.9m-.9-.1h.9m-.6-1.3h.9m-.6 .4h.9m-.7 2.3h.9m-.8-.5h.9m-.5-.8h.9m-.8 4.6h.9m-.5-4.9h.9m-.3-.9h.9m-.8 3.5h.9m0-5.3h.9m-.4 1.3h.9m-.8 2.1h.9m-.8-1.4h.9m-.6 1h.9m-.8-.9h.9m-.5 2.6h.9m-.8-.2h.9m-.6-1.1h.9m-.9-1.3h.9m-.7 1.8h.9m-.9-.9h.9m-.5 .1h.9m-.8 .9h.9m-.8 .3h.9m-.9-1.5h.9m-.8 2.1h.9m-.7-1.7h.9m-.8 1h.9m-.9-2.9h.9m-.9 8.5h.9m-.8-6.4h.9m-.8-.5h.9m-.8 9.2h.9m-.9-8.6h.9m-.9-4.5h.9m-.8 4h.9m-.9-1.6h.9m-.8 2.5h.9m-.6-2.2h.9m-.6 3h.9m-.8-2h.9m-.6 .5h.9m-.7 2h.9m-.1-.8h.9m-.9-1.2h.9m-.9-.8h.9m-.6 1h.9m-.9 .6h.9m-.8-.4h.9m-.9-.5h.9m-.8-1.1h.9m-.7 1.5h.9m-.7-3.3h.9m-.3 2.4h.9m-.7-.5h.9m-.8-.2h.9m-.9 1.6h.9m-.8-.6h.9m-.8-1.9h.9m-.8 .1h.9m-.8 1.3h.9m-.8-1.3h.9m-.6 2.3h.9m-.9 1.6h.9m-.9-2.5h.9m-.8-.2h.9m-.8 .3h.9m-.9-1.1h.9m-.8 .4h.9m-.6 1.3h.9m-.9 1.2h.9m-.9-.3h.9m-.8-2.7h.9m-.6 2.7h.9m-.8-.2h.9m-.7 .9h.9m-.9-1.1h.9m-.8 1.7h.9m-.7-3.6h.9m-.7 .1h.9m-.2-4.6h.9m-.9 6.3h.9m-.8-.1h.9m-.8-1.2h.9m-.4-3.6h.9m-.9 1.8h.9m-.9 3.9h.9m0-1.2h.9m-.9 1h.9m-.9 .6h.9m-.8-4.9h.9m-.8 5h.9m-.9-1.5h.9m-.7 .1h.9m-.8 1.6h.9m-.9-3.9h.9m-.8 2.3h.9m-.8-3.5h.9m-.9 1.9h.9m-.6 2.4h.9m-.7-1.7h.9m-.8 1.6h.9m-.8-4.1h.9m-.7 3.8h.9m-.8-2h.9m-.9-7.2h.9m-.7 7h.9m-.6 .4h.9m-.9-1.3h.9m-.8 .8h.9m-.8-1.3h.9m-.8 .2h.9m-.9 3.6h.9m-.5-.1h.9m-.9-1.1h.9m-.7 5.1h.9m-.7-5.9h.9m-.9-.4h.9m-.9 1.9h.9m-.6-1.3h.9m.2 .4h.9m-.6 .9h.9m-.6-1.1h.9m-.9 .1h.9m-.7 1.9h.9m-.8 .1h.9m-.9-2.1h.9m-.8 1.8h.9m-.7-2.1h.9m-.7 1.1h.9m-.3-1.8h.9m-.3 1.1h.9m-.6 .6h.9m-.7 .1h.9m-.7-.6h.9m-.6-1.8h.9m-.9 1.2h.9m-.9 .3h.9m-.7 .4h.9m-.8-.8h.9m-.8 .9h.9m-.8-1.6h.9m-.7 .3h.9m-.8 1.6h.9m-.9-2.3h.9m-.9 1h.9m-.8 .8h.9m-.9 .4h.9m-.8-1.4h.9m-.6-6.2h.9m-.9 6.2h.9m-.3 1.8h.9m-.2 .1h.9m-.9-.7h.9m-.4-4.3h.9m-.9 10.7h.9m-.8-8h.9m-.8-1h.9m-.9 3.6h.9m-.9-1.6h.9m-.7 .5h.9m-.9 .5h.9m-.8-1.8h.9m-.9 .9h.9m-.7 1.8h.9m-.2-1.3h.9m-.4 2.4h.9m-.6-1.2h.9m-.9-.1h.9m-.4-2.5h.9m-.8-.4h.9m-.9 3.5h.9m-.8-2.2h.9m-.8 .7h.9m-.8 0h.9m-.8-.8h.9m-.9 .3h.9m-.7 .4h.9m-.9-2.2h.9m-.8 1.2h.9m-.9 1.9h.9m-.9-.3h.9m-.8-3.1h.9m-.7 2.7h.9m-.7 .9h.9m-.7-3.9h.9m-.8 3.9h.9m-.9-1.1h.9m-.9 0h.9m-.5 .5h.9m-.6-.7h.9m-.6 .7h.9m-.7 6h.9m-.8-6.3h.9m-.8-1.9h.9m-.7 1.6h.9m-.7 1.5h.9m-.9-3.7h.9m-.8 2.5h.9m-.8-1.7h.9m-.8 2.6h.9m-.8-1h.9m-.7-.8h.9m-.5 .9h.9m-.9-.5h.9m-.6 .3h.9m-.9-.2h.9m-.9-.3h.9m-.7 .8h.9m-.4 1.7h.9m-.7 .3h.9m-.9-3.7h.9m-.7 1.8h.9m-.9-1.5h.9m-.8 1h.9m-.7-.7h.9m-.7 1.5h.9m-.6-1.7h.9m-.6 1.3h.9m-.8-.7h.9m-.9-.9h.9m-.8-1.4h.9m-.8 2.8h.9m-.8 2.3h.9m-.7-1.1h.9m-.7 .1h.9m-.7-.3h.9m-.7 3h.9m-.9-3h.9m-.3-.7h.9m-.7-.8h.9m-.9 2.5h.9m-.8 0h.9m-.7-2h.9m-.6-1.9h.9m-.9 3h.9m-.9-.5h.9m-.8-.1h.9m1.3-2.1h.9m-.9 1.8h.9m-.7-1.3h.9m-.5-.5h.9m-.6 2.6h.9m-.9-.5h.9m-.8-.6h.9m-.8 1h.9m-.4-3.4h.9m-.8 1.3h.9m-.9 2.7h.9m-.2-3.1h.9m-.3 2.6h.9m-.9-2.3h.9m-.8-.2h.9m-.8 2.1h.9m-.6-.7h.9m-.9 1.7h.9m-.7-2.4h.9m-.9 .9h.9m-.7-2.5h.9m-.9 2.7h.9m-.8-1.6h.9m-.6 1.4h.9m-.8-1.4h.9m-.8 2.2h.9m-.8-.8h.9m-.6-1.1h.9m-.9 1.1h.9m-.7 2.6h.9m-.8-3.8h.9m-.8 2.5h.9m-.7-3.6h.9m-.8 .8h.9m-.2-.9h.9m-.6 5.6h.9m-.8-2.2h.9m-.7-1h.9m-.6-2.7h.9m-.2 5.9h.9m-.8-4.1h.9m-.9 2.2h.9m-.8-5.1h.9m-.6 3.2h.9m-.7-.2h.9m-.2-1.4h.9m-.8 1.3h.9m-.8 1.9h.9m-.8-1.8h.9m-.9 .5h.9m-.9 1.7h.9m-.4-3.5h.9m-.9 .4h.9m-.8 2h.9m-.8-3.3h.9m-.8 1h.9m-.7 1.3h.9m-.9 1.4h.9m-.7-2h.9m-.8 3.7h.9m-.8-2.2h.9m-.8-.6h.9m-.7 .7h.9m-.8-1.4h.9m-.4-2.8h.9m-.8 3.8h.9m-.8 5.9h.9m-.5-6.3h.9m-.8 1.1h.9m-.8 .5h.9m-.8-.5h.9m.1-1.3h.9m-.8-.7h.9m-.5 .8h.9m-.9-.4h.9m-.8 .2h.9m-.7 1.9h.9m-.9-.9h.9m-.7-1.7h.9m-.8 .2h.9m-.8 1h.9m-.6-.9h.9m-.6 .8h.9m-.7 1.2h.9m-.7-2.7h.9m-.8 1.3h.9m-.9 1h.9m.6 .2h.9m-.7-.6h.9m-.8-2.5h.9m-.8 2.6h.9m-.7 2.2h.9m-.9-3.1h.9M228.7 430.1h.9m-.9 5.8h.9m-.6-3.2h.9m-.7-8.9h.9m-.8 7.6h.9m-.9 1.9h.9m-.8 1.5h.9m-.9 1.7h.9m-.5-3.2h.9m-.8-.6h.9m-.9 0h.9m-.6-.5h.9m-.6 1h.9m-.8-6.8h.9m-.9 7.7h.9m-.5-.9h.9m-.7 .8h.9m-.8-2.3h.9m-.8-2h.9m-.7 5.2h.9m-.2-2.1h.9m-.8 2.2h.9m-.8-3.8h.9m-.6-.1h.9m-.7 2.3h.9m-.8-.4h.9m-.9 .3h.9m-.9-1.6h.9m-.7 2h.9m-.9-.1h.9m-.9-.5h.9m-.9-1.5h.9m-.8 5h.9m-.6-2.6h.9m-.8-3.5h.9m-.9 .8h.9m-.4 .9h.9m-.7-.9h.9m-.5 .7h.9m-.7-.4h.9m-.7 2.2h.9m-.8-.5h.9m-.6-.1h.9m-.6-2.4h.9m-.7 4.3h.9m-.4-2.9h.9m-.8 1.2h.9m-.8-.3h.9m-.6-2.5h.9m-.1 4.4h.9m-.6-2.1h.9m-.8-1.9h.9m-.7 4.2h.9m-.9-1.8h.9m-.8-2.5h.9m-.8 2.6h.9m-.7-1.4h.9m-.3 .3h.9m-.6 .1h.9m-.8-.7h.9m0-1.7h.9m-.8 1.7h.9m-.6 .2h.9m-.4 0h.9m-.1-.7h.9m-.8 2.9h.9m-.8 .2h.9m-.8-.7h.9m-.9 .1h.9m-.8-3.3h.9m-.8 2h.9m-.9 .1h.9m-.8 1h.9m-.9-.2h.9m-.8-.9h.9m-.8 1.8h.9m-.8-2.3h.9m-.7 .3h.9m-.7 .1h.9m-.7-.1h.9m-.7 .8h.9m-.8-.3h.9m-.8 .5h.9m-.7-.3h.9m-.9-1.6h.9m-.8 3.1h.9m-.9-1.6h.9m-.9-.9h.9m-.8-.9h.9m-.8 2.1h.9m-.8 .5h.9m-.8-3.3h.9m-.8-.8h.9m-.8 7.3h.9m-.6-.2h.9m-.9-4.3h.9m-.4-.5h.9m-.9 .8h.9m-.3 2.4h.9m-.6 4.3h.9m-.9-6.6h.9m-.7-.9h.9m-.8 1.4h.9m-.8 2.3h.9m-.9-.1h.9m-.9-1.9h.9m-.6-8.2h.9m-.9 5.8h.9m-.7 .1h.9m-.5 1h.9m-.8 2.2h.9m-.9-1.2h.9m-.8-1.3h.9m-.7 1.8h.9m-.8-1.5h.9m-.9 .6h.9m-.8 2.3h.9m-.5-.8h.9m-.9 .9h.9m-.6-2.5h.9m-.8 .8h.9m-.9-.8h.9m-.8-1.2h.9m-.7-1.4h.9m-.7 1.8h.9m-.9-.1h.9m-.8 .8h.9m-.8 .8h.9m-.8-.2h.9m-.8-1.5h.9m-.6 1.7h.9m-.6-1.5h.9m-.7-.5h.9m-.8 1.6h.9m-.9-.1h.9m-.7 2.8h.9m-.8-1h.9m-.6-1.6h.9m-.5-12h.9m-.9 15.1h.9m-.6-5.6h.9m-.8 .7h.9m-.2 5.4h.9m-.8-4.4h.9m-.8 2.5h.9m-.7-3.6h.9m-.7 1.2h.9m-.8 4.5h.9m-.9-5.4h.9m-.8 1.8h.9m-.7-1.1h.9m.4 2.8h.9m-.8-1.3h.9m-.9 1.2h.9m-.9-4h.9M267 432.2h.9m-.7 1.9h.9m-.8-.1h.9m-.7-.9h.9m-.9 .8h.9m-.9-1.6h.9m-.7 1.2h.9m-.6 .8h.9m-.8 1.7h.9m-.8-3.8h.9m-.6-.8h.9m-.9 3.9h.9m-.2-.9h.9m-.9-2.9h.9m-.8 1.6h.9m-.4 1.2h.9m-.7 .1h.9m-.9-3.9h.9m-.7 1.7h.9m-.7 2h.9m-.5-.5h.9m-.6-3.2h.9m-.8 4.2h.9m-.4-2.6h.9m-.8 1.8h.9m-.8-2.5h.9m-.7-.1h.9m-.4 2.2h.9m-.9 3.7h.9m-.8-5h.9m-.8-.5h.9m-.8-5.7h.9m-.9 7.9h.9m-.9-1.5h.9m-.6 .5h.9m-.9 2.5h.9m-.7-3.1h.9m-.7-.3h.9m-.8 2.3h.9m-.7-1.5h.9m-.7-1h.9m-.8 1h.9m-.9 .8h.9m-.6 .7h.9m-.8-1h.9m-.6-.1h.9m-.8 .3h.9m0-.1h.9m-.8-1.6h.9m-.7 0h.9m-.7 2.6h.9m-.9-1.7h.9m-.9 2h.9m-.7-1.9h.9m-.6 .3h.9m-.8 1h.9m-.3 .5h.9m-.8-1.8h.9m-.6-2.3h.9m-.7 1.1h.9m-.8 1.2h.9m-.2-.9h.9m-.6 .2h.9m-.9 2.6h.9m-.8-2.5h.9m-.7 1.9h.9m-.5-.5h.9m-.9-2.1h.9m-.9 2.6h.9m-.8 1.1h.9m-.9 2.7h.9m-.7-3.8h.9m-.7-1h.9m-.8-.7h.9m-.8 1.6h.9m-.8-1.9h.9m-.7 1.3h.9m-.9-.6h.9m-.9-.6h.9m-.6 .1h.9m-.7 1.4h.9m-.8 .2h.9m-.8 .6h.9m-.8 .4h.9m-.9-1.2h.9m-.3-1.9h.9m-.7 .4h.9m-.8-1h.9m-.9 .9h.9m-.7-.3h.9m-.8 1.8h.9m-.6-.1h.9m-.3-.9h.9m-.5 1.3h.9m-.8-1h.9m-.7 .8h.9m-.5 0h.9m-.9-.8h.9m-.7-.8h.9m-.9-.7h.9m-.9 2.1h.9m-.2 3.7h.9m-.8-3.5h.9m-.9-.6h.9m-.8 3.1h.9m-.6-4.3h.9m-.9 1.3h.9m-.7-5.7h.9m-.6 5.5h.9m-.8 0h.9m-.8 .4h.9m-.9 .4h.9m-.7 .2h.9m-.9-.9h.9m-.8-2h.9m-.9 3.5h.9m-.8-1.3h.9m-.7-1.2h.9m-.7 4.3h.9m-.8-2h.9m-.6-1.7h.9m-.8-3.1h.9m-.7 5.4h.9m-.8-1.5h.9m-.9 2.2h.9m-.9-2.5h.9m-.4 .3h.9m-.9 .5h.9m-.8-2.3h.9m-.8 1.1h.9m-.5 3.9h.9m-.8-3.8h.9m-.8 .3h.9m-.8-.6h.9m-.7-1h.9m-.9 2.5h.9m-.8-.9h.9m-.7-.4h.9m-.9 .8h.9m-.6-.3h.9m-.7-.7h.9m-.7 1.6h.9m-.7-2.4h.9m-.6 .4h.9m-.7 1.9h.9m-.5-2h.9m-.8-.1h.9m-.9-2h.9m-.8 2.6h.9m-.7 1.1h.9m-.8-3h.9m-.7 1.6h.9m-.8-1h.9m-.8-.2h.9m-.7-1.5h.9m-.8 5.4h.9m-.8-.1h.9m-.9-6.1h.9m-.5 1.6h.9m-.6 3.5h.9m-.7-3.9h.9m-.7 1.5h.9m-.6 3.7h.9m-.6-1.2h.9m-.7-.2h.9m-.8-2.1h.9m-.4 1.8h.9m-.8-1.6h.9m-.7-2.5h.9m-.8 1.8h.9m-.4-3.1h.9m-.6 5.1h.9m-.8-.7h.9m-.7-1.2h.9m-.8 1.6h.9m-.1 .5h.9m-.7 1.4h.9m-.8-.7h.9m-.9-3.3h.9m-.8 1.9h.9m-.4 0h.9m-.8-2h.9m-.6 .2h.9m-.7 3.8h.9m-.5-1.1h.9m-.9 0h.9m-.8-.7h.9m-.8-1.2h.9m-.6 1.5h.9m-.9-1.6h.9m-.7-.8h.9m-.9 .6h.9m-.5 2.8h.9m-.5-.9h.9m-.9 1.3h.9m-.7-.7h.9m-.8 .4h.9m-.4-.6h.9m-.6 0h.9m-.5-2.9h.9m-.7 4.4h.9m-.6-2.4h.9m-.6-.5h.9m-.3 .6h.9m-.9 .9h.9m-.7 .6h.9m-.6-1.1h.9m-.9 .1h.9m-.8-.7h.9m-.6-2.4h.9m-.6 2.7h.9m-.8 0h.9m-.7 .7h.9m-.8 .8h.9m-.7-1.9h.9m-.7 0h.9m-.9-2.4h.9m-.4 .3h.9m-.9 2.9h.9m-.8 .8h.9m-.8-1h.9m-.8 .5h.9m-.9-2.4h.9m-.8 6h.9m-.8-5.2h.9m-.8-.2h.9m-.5 .6h.9m-.8-.9h.9m-.9 .8h.9m-.5 2.1h.9m-.7-3.6h.9m-.9 2.9h.9m-.8-1.8h.9m-.5 .1h.9m-.8 2.6h.9m-.9-1h.9m-.9-2.2h.9m-.7 1.1h.9m-.8-.7h.9m-.8 3.4h.9m-.5-3h.9m-.7 .7h.9m-.5-.4h.9m-.9 0h.9m-.4 2.5h.9m-.2-1.3h.9m-.7-2.2h.9m-.9 1.7h.9m-.2-2.2h.9m-.8 1.4h.9m-.8-.4h.9m-.9 3.5h.9m-.9-1.2h.9m-.9-2.9h.9m-.8 2.2h.9m-.9 1.1h.9m-.8-1.3h.9m-.9-1h.9m-.2 .1h.9m-.9-4.3h.9m-.8 5.2h.9m-.9 1.1h.9m-.6 3.6h.9m-.9-5.5h.9m-.4-.5h.9m-.8 2.6h.9m-.8 .7h.9m-.9-3.6h.9m-.9 .2h.9m-.9 .5h.9m-.8-1.3h.9m-.7 4.1h.9m-.7-.3h.9m-.7-1.3h.9m-.8 .3h.9m-.6-1.8h.9m-.7 .3h.9m-.8 .7h.9m-.8 .1h.9m-.9-1.2h.9m-.7 .1h.9m-.7-.7h.9m-.7 2.7h.9m-.7-2.6h.9m-.8 4.1h.9m-.9-2.6h.9m-.6 .8h.9m-.9 .7h.9m-.6-3.4h.9m-.8 1h.9m-.6 2.5h.9m-.8-2.4h.9m-.9 1h.9m-.6-.1h.9m-.5-2.4h.9m-.8-.2h.9m-.6 4.8h.9m-.6-3.4h.9m-.4 0h.9m-.6 1.8h.9m-.6 .7h.9m-.7-1.7h.9m-.7-.2h.9m-.8-.7h.9m-.9-5.3h.9m-.6 5.7h.9m-.9 3.2h.9m-.5-2.4h.9m-.5-.8h.9m-.9 .5h.9m-.7 .6h.9m-.5 1.7h.9m-.8-.8h.9m-.8-1.7h.9m-.8-.7h.9m-.4 .9h.9m-.4-.5h.9m-.9 .8h.9m-.7 1h.9m-.6 .7h.9m-.8-.8h.9m-.3-1.4h.9m-.8-.1h.9m-.9-.2h.9m-.8-.3h.9m-.9 2.6h.9m-.8-2.7h.9m-.7-8.9h.9m-.6 10.3h.9m-.9-1.8h.9m-.8 2.6h.9m-.9 .4h.9m-.5-.4h.9m-.7 0h.9m-.9-1.7h.9m-.7 .6h.9m-.7 .2h.9m-.8-.6h.9m-.8 .9h.9m-.2 .3h.9m-.5-3.1h.9m-.7 1.3h.9m-.8-.9h.9m-.8 .8h.9m-.4 3.3h.9m-.7-2.8h.9m-.7 .8h.9m-.4 .3h.9m-.8-1.2h.9m-.8-.5h.9m-.9-.3h.9m-.9 1.1h.9m-.7-.3h.9m-.7 .4h.9m-.7 .2h.9m-.6-1.6h.9m-.9 2.2h.9m-.6-1.7h.9m-.8-.4h.9m-.8 1.5h.9m-.7-1.1h.9m-.8 1.4h.9m-.7-.6h.9m-.6-.2h.9m-.9 .6h.9m-.7-1.6h.9m-.9 4.7h.9m-.7-4.1h.9m-.7 2.3h.9m-.8-2.1h.9m-.7 1.4h.9m-.8 1.9h.9m-.8-3.1h.9m-.9 .6h.9m-.9-.7h.9m-.9 1h.9m-.7-1.5h.9m-.9 .8h.9m-.9 2.6h.9m0-2.8h.9m-.9-.4h.9m-.7-.6h.9m-.8-1.9h.9m-.9 3.4h.9m-.7 1h.9m-.9-.7h.9m-.4-.5h.9m-.9 1.6h.9m-.8-7.4h.9m-.8 5.6h.9m-.8 1.3h.9m-.9 .6h.9m-.9-2.3h.9m-.6-.6h.9m-.8 1.1h.9m-.8 1.1h.9m-.5 1h.9m-.9-1.9h.9m-.6-.5h.9m-.9 1.8h.9m-.7-2.3h.9m-.9 2.4h.9m-.8 .7h.9m-.9-1.9h.9m-.9 .5h.9m-.9 1.1h.9m-.4-.3h.9m-.6 7.4h.9m-.9-10.6h.9m-.3-1.9h.9m-.3 5.6h.9m-.4-2.8h.9m-.5 2.1h.9m-.7 0h.9m-.3 .4h.9m-.8-1.3h.9m-.8-.1h.9m-.7 .4h.9m-.9-6.9h.9m-.7 5.2h.9m-.4 .1h.9m-.8 .7h.9m-.8 8.7h.9m-.4-8.4h.9m-.9-1.1h.9m-.5 1.5h.9m-.9-2.5h.9m-.7 .9h.9m-.8 3.6h.9m-.7-3.6h.9m-.9 .1h.9m-.9 1.8h.9m-.7 1.1h.9m-.8-3.5h.9m-.7 2.5h.9m-.8-1.8h.9m-.7-2.3h.9m-.4 4h.9m-.7-1.2h.9m-.9-1.2h.9m-.8 2.3h.9m-.7 .1h.9m-.9-2.6h.9m-.8 2.3h.9m-.8-1.3h.9m-.7-1.1h.9m-.5-.9h.9m-.9 4.1h.9m-.9-1.3h.9m-.7-1.2h.9m-.9 1h.9m-.7-2.4h.9m-.8 4.8h.9m-.5-3.1h.9m-.5 1.5h.9m-.5 1.8h.9m-.9-2.2h.9m-.8 0h.9m-.8 1.7h.9m-.8-1.9h.9m-.8-1.6h.9m-.7 1.3h.9m-.8-.4h.9m-.8 2.7h.9m-.9 .4h.9m-.5-2.3h.9m-.7-1.1h.9m-.8-.6h.9m-.8 .3h.9m-.8 1h.9m-.9 4.6h.9m-.8-6.9h.9m-.9 3.9h.9m-.8-3.3h.9m-.8 .3h.9m-.6 3.4h.9m-.9-.9h.9m-.7 .2h.9m0-.7h.9m-.9 .1h.9m-.7 2.4h.9m-.8-1.6h.9m-.7 .3h.9m-.7-4.2h.9m-.6 4.8h.9m-.4-2.4h.9m-.6 1.8h.9m-.2-1h.9m-.6 1.9h.9m-.1-2.8h.9m-.8-1.1h.9m-.7-2h.9m-.2 .2h.9m-.8 3.1h.9m-.9 1.5h.9m-.7-2.8h.9m-.7 1.9h.9m-.6-2.4h.9m-.6-.7h.9m-.9 .5h.9m-.8 5.1h.9m-.2-3.7h.9m-.1-2.2h.9m-.7 5.1h.9m-.8 .2h.9m-.9-4h.9m-.8 1.9h.9m-.9-.5h.9m-.5 1.6h.9m-.7-1h.9m-.8-.6h.9m-.5 1.4h.9m-.8-2.8h.9m-.5 2.7h.9m-.7-1.3h.9m-.9 2.7h.9m-.8-2.2h.9m-.8-.6h.9m-.9 .7h.9m-.7 1.8h.9m-.8-4h.9m-.7 4.6h.9m-.6-7.4h.9m-.8 7.2h.9m-.4-5h.9m-.8 1.3h.9m-.9 10.2h.9m-.8-7.4h.9m-.8-1.8h.9m-.9-.9h.9m-.6 .9h.9m-.8 .9h.9m-.8-.9h.9m-.7-.7h.9m-.8 1.7h.9m-.9 .4h.9m-.9 0h.9m-.8-1.7h.9m-.9 .1h.9m-.7 .1h.9m-.9 2.3h.9m-.8-1.8h.9m-.8 1.1h.9m-.8-2.6h.9m-.9 1.2h.9m-.9 2.7h.9m-.8-2.7h.9m-.9 1h.9m-.6-1h.9m-.8 1.4h.9m-.7-2.2h.9m-.8 .6h.9m-.8 .4h.9m-.9 1h.9m-.9 .4h.9m-.8-.6h.9m-.8-.4h.9m-.6-2.1h.9m-.8 2.6h.9m-.8-2.2h.9m-.7 2.6h.9m-.6-2.9h.9m-.9-1.5h.9m-.6 2.7h.9m-.9-.5h.9m-.9-.1h.9m-.7-1.3h.9m-.9 3.3h.9m-.4-.1h.9m-.7-2.3h.9m-.6 .5h.9m-.9-1h.9m-.5 3h.9m-.8 1.4h.9m-.8-1.6h.9m-.9-.5h.9m-.5-.1h.9m-.9 2h.9m-.7-1.2h.9m-.8-2.4h.9m-.8-.3h.9m-.6 2.3h.9m-.9-3h.9m-.7 2.1h.9m-.7-.8h.9m-.8-1.3h.9m-.7 5.8h.9m-.8-4.7h.9m-.4 3.6h.9m-.6-2.7h.9m-.8-.4h.9m-.8 .6h.9m-.8-1.4h.9m-.7 .9h.9m-.8 0h.9m-.8 .7h.9m-.9-2h.9m-.2-.2h.9m-.7 2.4h.9m-.4 1.4h.9m-.9-3h.9m-.5 1.1h.9m-.9 .8h.9m.1-3.9h.9m-.6 1.7h.9m-.6 3.2h.9m-.8 .8h.9m-.8-2.8h.9m-.8 1.5h.9m-.8 .9h.9m-.7 0h.9m-.5-3h.9m-.8-.8h.9m-.8 2.3h.9m.1-2.5h.9m-.8 4.2h.9m-.8-2.8h.9m-.4 1.7h.9m-.4-1.9h.9m-.9 1.4h.9m-.9-1.8h.9m-.1-.7h.9m-.2 .8h.9m-.9 1.1h.9m-.7 3.3h.9m-.7-12.9h.9m-.5 8.3h.9m-.8 1.2h.9m-.1-.5h.9m-.7 2.2h.9m-.8-14.5h.9m-.9 13.1h.9m-.7-2h.9m-.9 1.6h.9m-.9 7h.9m-.9-5.8h.9m-.6-1.1h.9m-.8-1.2h.9m-.5-1h.9m-.9 2.8h.9m-.9-2.8h.9m-.8 1.7h.9m-.9 2.7h.9m-.8-4h.9m-.9 .4h.9m-.6-.2h.9m-.8 2.8h.9m-.7-.3h.9m-.5-.4h.9m-.7-1.3h.9m-.7-.4h.9m-.8 1.3h.9m-.4 8.6h.9m-.7-7.7h.9m-.5-1.1h.9m-.6 .9h.9m-.9-1.4h.9m-.7 2h.9m-.9-.5h.9m-.7-.9h.9m-.9-1.2h.9m-.7 .7h.9m-.7-1.8h.9m-.8 .6h.9m-.3 2h.9m-.7-1.4h.9m-.7 .5h.9m-.8 2.4h.9m-.2 2.2h.9m-.8 6.6h.9m-.7-9.4h.9m-.7-3.1h.9m-.9 2.1h.9m-.6-1h.9m-.8-2.2h.9m-.4 3.9h.9m-.8-2.2h.9m-.6 1.5h.9m-.9 0h.9m-.9-1.1h.9m-.9 .4h.9m-.8-7.7h.9m-.5 8.7h.9m-.6 1.8h.9m-.8-2.5h.9m-.8 2.8h.9m-.8-2.3h.9m-.2 .7h.9m-.7-2.1h.9m-.9 2h.9m-.7-.3h.9m-.8-.7h.9m-.9-.6h.9m-.7-1.9h.9m-.8 1.6h.9m-.8 8.6h.9m-.6-6.7h.9m-.9 4.1h.9m-.9-3.3h.9m-.8-3.2h.9m-.8-1.8h.9m-.8 4.2h.9m-.9-1.1h.9m-.8 .9h.9m-.8-1.3h.9m-.9 .2h.9m-.6-.7h.9m-.4 1.7h.9m-.6 .7h.9m-.3-1.7h.9m-.9-.7h.9m-.8-1.8h.9m-.8 2.6h.9m-.8 .1h.9m-.8-.2h.9m-.6-.8h.9m-.7 .9h.9m-.7 3.4h.9m-.2-2.3h.9m-.8-.3h.9m-.8 2.5h.9m-.8-.6h.9m-.7-.1h.9m-.8-2.7h.9m-.9-2.1h.9m-.7 2.4h.9m-.8-.8h.9m-.8-.6h.9m-.7 2.3h.9m-.7 .1h.9m-.1-.5h.9m-.9 .6h.9m-.5 .1h.9m-.8 .7h.9m-.4-1h.9m-.9-2.1h.9m-.3 1.6h.9m-.3 1.3h.9m-.5-4.2h.9m-.7 2h.9m-.8 1.8h.9m-.8-1.1h.9m-.5-1.5h.9m-.7 3.4h.9m-.7-1.5h.9m-.8-3.4h.9m-.5 1h.9m-.7-1.1h.9m-.7 1.2h.9m-.9-2.6h.9m-.9 4h.9m-.5 .2h.9m-.8 1.1h.9m-.3 3.6h.9m-.8-5.3h.9m-.9 1.7h.9m-.8-3.3h.9m-.6 1h.9m-.9 .5h.9m-.7-.3h.9m-.7-.1h.9m-.7 2.3h.9m-.7 8.4h.9m-.8-8.4h.9m-.9 .5h.9m-.8-1.5h.9m-.6 .6h.9m-.7-2h.9m-.8 2.6h.9m-.8 3.3h.9m-.7-2.8h.9m-.9 .5h.9m-.6-3.8h.9m-.2 .1h.9m-.8 2h.9m-.8-.6h.9m-.9 3.3h.9m-.4-3.9h.9m-.8 2.8h.9m-.9-.7h.9m-.8-2.7h.9m-.7 .9h.9m-.8 .3h.9m-.6 1.8h.9m-.8-.4h.9m-.9 .6h.9m-.6 .1h.9m-.8-1.6h.9m-.7 .3h.9m-.7-2.5h.9m-.9 3.2h.9m-.5-1h.9m-.8 14.5h.9m-.5-15.9h.9m-.8 1.5h.9m-.4-.3h.9m-.8 .1h.9m-.9 1.5h.9m-.7-1.9h.9m-.2-.8h.9m-.9 .2h.9m-.9 1.3h.9m-.8-2.5h.9m-.6 .5h.9m-.8 2h.9m-.9 0h.9m-.7-6.7h.9m-.8 7.2h.9m-.5-7.3h.9m-.8 5.9h.9m-.8 3.4h.9m-.9-2.4h.9m-.7-1.1h.9m-.7 3h.9m-.9-2.4h.9m-.8-2.4h.9m-.8 1.9h.9m-.7 1.3h.9m-.9-1.5h.9m-.8-.5h.9m-.8 1.3h.9m-.9-2.7h.9m-.8 2.8h.9m-.7-.1h.9m-.8-.3h.9m-.9-1.4h.9m-.7-.1h.9m-.9 .4h.9m-.4 3.6h.9m-.6-2.3h.9m-.8-.6h.9m-.8-1.6h.9m-.9 2.7h.9m.4-1.7h.9m-.5 .4h.9m-.8 2h.9m-.5-1.1h.9m-.8 1.5h.9m-.9-1.6h.9m-.8 0h.9m-.6-2.3h.9m-.5 3.1h.9m-.7 1.1h.9m-.8-1.5h.9m-.6-1.1h.9m-.8-1h.9m-.8 .2h.9m.1 4.9h.9m-.9-4.1h.9m-.5 2.6h.9m-.9-.9h.9m-.7 .5h.9m-.9-.2h.9m-.3-12.9h.9m-.8 12.1h.9m-.7 .1h.9m-.5-.5h.9m-.8-.5h.9m-.8 1.1h.9m-.9-1.5h.9m-.6 1.9h.9m-.9 2.7h.9m-.7-5.1h.9m-.5 1.2h.9m-.8 1.1h.9m-.8-.6h.9m-.4 2.2h.9m-.6-3.2h.9m-.3 .6h.9m-.8-6.4h.9m-.8 4.3h.9m-.8 5.6h.9m-.4-3.9h.9m-.8-1h.9m-.8 .1h.9m-.7-1.3h.9m-.9 3.7h.9m-.8 0h.9m-.9-3.2h.9m-.5 4.1h.9m-.9-1.3h.9m-.5 2.5h.9m-.8-5.7h.9m-.6 3.8h.9m-.6 .2h.9m-.8-.8h.9m-.7-2.4h.9m-.8 3.1h.9m-.8 .7h.9m-.9-6.1h.9m-.8 4.7h.9m-.2 .6h.9m-.7 .1h.9m-.8-1.8h.9m-.8-.6h.9m-.8 1h.9m-.6 .9h.9m-.8-4.1h.9m-.8 3h.9m-.8 .7h.9m-.8 .1h.9m-.6 5.6h.9m-.8-6h.9m-.3-.5h.9m-.8 1.7h.9m-.7-.4h.9m-.8-1.2h.9m-.7 0h.9m-.8 1.6h.9m-.6-.3h.9m-.8-2h.9m-.8 1.2h.9m-.9-3h.9m-.8 1.5h.9m-.8 .1h.9m-.7 .2h.9m-.9-.3h.9m-.8 .5h.9m-.8-.2h.9m-.4 .3h.9m-.3 .9h.9m-.8-1.8h.9m-.7-.8h.9m-.6 3.1h.9m-.7-.3h.9m-.9-.2h.9m-.7 .2h.9m-.7 1.1h.9m-.7-3.9h.9m-.7 2.6h.9m-.8-.8h.9m-.7-.3h.9m0 .1h.9m-.5 1.6h.9m-.8-3.3h.9m-.8 1.9h.9m-.8 .1h.9m-.4-2.7h.9m-.3 2.3h.9m-.9-.4h.9m-.9 1.2h.9m-.6-.5h.9m-.6-.6h.9m-.8 .3h.9m-.9 .7h.9m-.7-2.3h.9m-.6 3h.9m-.9-1.3h.9m-.7 5.3h.9m-.9-7.2h.9m-.9 1.4h.9m-.4 3.5h.9m-.9-2.6h.9m-.6-.6h.9m-.8 .6h.9m-.4 0h.9m-.9 1.8h.9m-.8-1.5h.9m-.8-.3h.9m-.8-2.8h.9m-.7 .9h.9m-.7 .3h.9m-.8 3.2h.9m-.9-2.5h.9m-.9 1.8h.9m-.8 0h.9m-.6-1.7h.9m-.9 2.3h.9m-.9 2.1h.9m-.6-2.2h.9m-.7-1.6h.9m-.8 .7h.9m-.8-.6h.9m-.8-.6h.9m-.8 1.2h.9m-.9-3.6h.9m-.9 1.8h.9m-.8-2.3h.9m-.7 3.6h.9m-.8 .5h.9m-.6-2.7h.9m-.9 0h.9m-.5 4.4h.9m-.4-.8h.9m-.9-3h.9m-.6 1.6h.9m-.7 .8h.9m-.5-1.9h.9m-.8 2.7h.9m-.8-2.6h.9m-.8 3.4h.9m-.8-6.3h.9m-.8 7.3h.9m-.7-3.1h.9m-.6-.6h.9m-.9-1h.9m-.4-1.1h.9m-.9 2.9h.9m-.9 .1h.9m-.6-1.7h.9m-.6 3.1h.9m-.8-1.5h.9m-.6 .9h.9m-.9-1.3h.9m-.8-.2h.9m-.9 2.3h.9m-.9-1.1h.9m-.6 .2h.9m-.9-1.4h.9m-.7 .4h.9m-.1 .4h.9m-.7-.1h.9m-.8 .5h.9m-.2-1.2h.9m-.9 .2h.9m-.8-3.5h.9m-.9 6.4h.9m-.8-3.8h.9m-.5 1.4h.9m-.4-1.1h.9m-.8 2.4h.9m-.8-1.9h.9m-.6-.5h.9m-.6 2.8h.9m-.9-2.2h.9m-.9 1.2h.9m-.9-1h.9m-.7-3.5h.9m-.9 1.3h.9m-.8-.1h.9m-.6 .5h.9m-.8 .3h.9m-.7 1.3h.9m-.7 .8h.9m-.7 .3h.9m-.9-.4h.9m-.9-7.6h.9m-.8 5.8h.9m-.7 1.6h.9m-.3-1.5h.9m-.8 3.9h.9m-.6-2.3h.9m-.9-2.6h.9m-.7 2.7h.9m-.7-1.8h.9m-.7 2h.9m-.5-2h.9m-.8 2.6h.9m-.8-.3h.9m-.7-2.4h.9m-.8-.4h.9m-.8 .9h.9m-.7 2.1h.9m-.8-1.2h.9m-.9-2.5h.9m-.8 4.1h.9m-.9-1.4h.9m-.9 1h.9m-.6-1.4h.9m-.8 .1h.9m-.8 .6h.9m-.7-.1h.9m-.9 .7h.9m-.6 0h.9m-.8 0h.9m.3-1.6h.9m-.8-1.3h.9m-.4 3.1h.9m-.7-1h.9m-.4 1h.9m-.7-3.3h.9m-.7 2.5h.9m-.9 1.4h.9m-.4-1.5h.9m-.8-.9h.9m-.9-.1h.9m-.8 .5h.9m-.4-1.7h.9m-.7 .6h.9m-.7 9.2h.9m-.9-8h.9m-.9 .4h.9m-.7 1.6h.9m-.6-2.9h.9m-.8 1h.9m-.7-.9h.9m-.4-1.1h.9m-.7 2.2h.9m-.6-.5h.9m-.5-1.9h.9m-.8 7h.9m-.4-4.2h.9m-.6-2.1h.9m-.6 3.1h.9m-.8-2.3h.9m-.8 2.7h.9m-.9-3.4h.9m-.8 1.4h.9m-.8 .1h.9m-.8-1.7h.9m-.9-.2h.9m-.8-2.1h.9m-.9 3.8h.9m-.3 1.3h.9m-.5-1.3h.9m-.6-1.7h.9m-.8 1.1h.9m-.7-.7h.9m-.8-.4h.9m-.7 3.3h.9m-.7-1.3h.9m-.9-.4h.9m-.9 1.6h.9m-.6-.9h.9m-.7-1.5h.9m-.7 1.4h.9m-.9-3.3h.9m-.8 2.7h.9m-.6-1.6h.9m-.4 1.3h.9m-.2 .5h.9m-.9 .8h.9m-.8-6.6h.9m-.8 5.5h.9m-.8-.1h.9m-.7 .1h.9m-.9 1h.9m-.4-.5h.9m-.6 3.9h.9m-.8-3.7h.9m-.9-.9h.9m-.6 0h.9m-.7-4h.9m-.4 5h.9m-.9 1h.9m-.8-2.6h.9m-.8 2h.9m-.9-1.4h.9m-.8 .3h.9m-.8-.3h.9m-.8 0h.9m-.5 .1h.9m-.8-.2h.9m-.8 3h.9m-.6-.4h.9m-.9-1.2h.9m-.9-.1h.9m-.7-3.8h.9m-.7 4.6h.9m-.2-2.9h.9m-.8 11.7h.9m-.9-8.8h.9m-.8-2.1h.9m-.2 1.6h.9m-.4-2.8h.9m-.9 1.5h.9m-.6-1.5h.9m-.6-.1h.9m-.8 1.9h.9m-.8-1.2h.9m-.4-1.2h.9m-.3 1.8h.9m-.7 1.6h.9m-.8-2.7h.9m-.8 3.7h.9m-.7-2h.9m-.8 1.7h.9m-.9 1.9h.9m-.9-2h.9m-.8-.6h.9m-.7 .1h.9m-.8-1.1h.9m-.7 2.1h.9m-.3-2.8h.9m-.9 1.2h.9m-.7 .2h.9m-.8 1h.9m-.6-3h.9m-.9 2.5h.9m-.2-3.5h.9m-.9 1.4h.9m-.9-.5h.9m-.7 1.4h.9m-.8 .8h.9m-.5-1.2h.9m-.9-.3h.9m-.8 2.7h.9m-.9-1.5h.9m-.5 0h.9m-.8 .1h.9m-.9-.4h.9m-.7 .9h.9m-.2-2.5h.9m-.9-.2h.9m-.4 1.8h.9m-.3-.2h.9m-.8-9.6h.9m-.5 8.5h.9m-.8 5.6h.9m-.8-6h.9m-.8 .9h.9m-.8 1.8h.9m-.8-2.6h.9m-.7 5.1h.9m-.5-4.2h.9m-.4 1.1h.9m-.7 .2h.9m-.9-.6h.9m-.8-1.1h.9m-.7 4.8h.9m-.9-3.3h.9m-.8 1.3h.9m-.9-2h.9m-.8 2.2h.9m-.7-3.1h.9m-.6 .3h.9m-.7 1.3h.9m-.5 1h.9m-.9-2.5h.9m-.8 0h.9m-.9 2.5h.9m-.9-2.3h.9m-.6-1.1h.9m-.8 1.7h.9m-.8 1.2h.9m-.9-1.8h.9m-.7 2h.9m-.7 .1h.9m-.6-.1h.9m-.7-2.2h.9m-.9 .3h.9m-.8 3h.9m-.8-4.8h.9m-.6 2.4h.9m-.9 .2h.9m-.8-12.7h.9m-.8 14.3h.9m-.7 .4h.9m-.7-1.6h.9m-.8-.3h.9m-.7 1.7h.9m-.6-1.2h.9m-.5 1.2h.9m-.9-2h.9m-.7 .9h.9m-.9 .3h.9m-.7-1.4h.9m-.9 1.4h.9m-.7-2.3h.9m0 4.3h.9m-.8-5.6h.9m-.7 2.4h.9m-.6 0h.9m-.6-2.1h.9m-.8 2.6h.9m-.9 .4h.9m-.9-2.8h.9m-.9 1.9h.9m-.7 .5h.9m-.8-1.6h.9m-.6 .3h.9m-.9-.6h.9m-.5 .6h.9m-.9 .1h.9m-.8 .7h.9m-.5-.8h.9m-.8 0h.9m-.8 2h.9m-.9-.4h.9m-.9-4.5h.9m-.8 2.6h.9m-.8 3.6h.9m-.4-2.6h.9m-.9-.8h.9m-.7 3.1h.9m-.9-3.6h.9m-.4 1h.9m-.8 1.3h.9m-.9-1.1h.9m-.6-.8h.9m-.8-2h.9m-.9 5h.9m-.3-.9h.9m-.7-2.5h.9m-.8-.5h.9m-.8 2.9h.9m-.8-3h.9m-.8 3.5h.9m-.7-4.2h.9m-.7 1.8h.9m-.9 .5h.9m-.8-2h.9m-.7 2.2h.9m-.9 2.2h.9m-.6-4.2h.9m-.3 1.1h.9m-.9 .9h.9m-.9-2.4h.9m-.7 1.1h.9m-.8 2.2h.9m-.6-3.5h.9m-.3 .7h.9m-.9 2.6h.9m-.9-1.4h.9m-.7 1.7h.9m-.6-2.7h.9" stroke="#4b3cf0" stroke-width=".9" stroke-opacity="0.72" fill="none"/>
<path d="M48.9 445.6h.9m-.8-.2h.9m-.4-.5h.9m-.6 .8h.9m-.6-.3h.9m-.1 1h.9m-.6-3.6h.9m-.8 3h.9m-.6-7.8h.9m-.2 7.2h.9m-.3 .4h.9m-.7-.1h.9m-.7-.6h.9m-.8 0h.9m-.8-.7h.9m-.7-.2h.9m-.3 .3h.9m-.7-.4h.9m-.9 1.4h.9m-.3-1.3h.9m-.9 2.5h.9m-.4-1.2h.9m-.9-.9h.9m-.6 .9h.9m-.5-.5h.9m-.8 .1h.9m-.8 .7h.9m-.7-2.6h.9m-.7 1.3h.9m-.9 0h.9m-.6 .9h.9m-.7-.1h.9m-.7 .4h.9m-.7 .1h.9m-.6 1.2h.9m-.6-1.7h.9m-.6 1.5h.9m-.2-2.1h.9m-.2 .3h.9m-.5-1.2h.9m-.5 1h.9m-.9-.8h.9m-.7 .8h.9m-.7-.9h.9m-.9 1.7h.9m-.8-.1h.9m-.2-.1h.9m-.7-.1h.9m-.4-.2h.9m-.8 .7h.9m-.7-.8h.9m-.5-1.1h.9m-.5 1.3h.9m-.6 1.6h.9m-.7-.9h.9m-.5-.1h.9m-.9 1.3h.9m-.1-.4h.9m-.6-2.8h.9m-.7 1.5h.9m-.8-.5h.9m-.8 1.6h.9m-.6-1.1h.9m-.8 .3h.9m-.7-.5h.9m-.2 .3h.9m-.7-2.1h.9m-.4 1.5h.9m-.9-.9h.9m-.8 1.8h.9m-.8-.1h.9m-.6-.1h.9m-.7-1.7h.9m-.9 1h.9m-.8-.4h.9m-.7 1.3h.9m-.7-1.1h.9m-.8 .3h.9m-.6 .9h.9m-.8 .6h.9m-.4-1.6h.9m-.2-.2h.9m-.8-2.9h.9m-.7 3.5h.9m-.7 .6h.9m-.9-.5h.9m-.8 1.4h.9m-.8-1.3h.9m-.9-.4h.9m-.8 .6h.9m-.6-.4h.9m-.7 .4h.9m-.7 .6h.9m-.2-1h.9m-.8-.3h.9m-.3-.2h.9m-.9 1.4h.9m-.7-2.5h.9m-.8 .9h.9m-.7-4.6h.9m-.8 9.6h.9m-.6-5.7h.9m-.8 1.6h.9m-.8 2.2h.9m0-3.6h.9m-.8 1h.9m-.8 .7h.9m-.7-.1h.9m-.3-2.2h.9m-.6 2.9h.9m-.8-1.2h.9m.3 1.3h.9m-.6-3.7h.9m-.8 2.2h.9m-.3 .6h.9m-.3 .7h.9m-.8-3.4h.9m.9 10.5h.9m-.7-8.1h.9m-.8-1.3h.9m-.9 1.2h.9m-.6-.2h.9m.1 .1h.9m-.4-.7h.9m.1 2.2h.9m-.2-.3h.9m-.6-1.5h.9m-.5 .1h.9m-.8 .6h.9m-.8-3.8h.9m.3 4.1h.9m-.9-.8h.9m-.8 1.2h.9m-.1-.3h.9m-.8-1h.9m-.7-.7h.9m-.5 .9h.9m-.8 1.3h.9m.5-2h.9m-.6-1.1h.9m-.1 1.9h.9m-.2-1.4h.9m-.8 .6h.9m-.8 .3h.9m0 2.2h.9m-.8-.7h.9m-.6-1.7h.9m-.9 4h.9m-.6-3.6h.9m.1 1.3h.9m-.3-.5h.9m-.8 .8h.9m-.7-1.4h.9m-.9-1.6h.9m-.3 2.2h.9m-.6-1.1h.9m-.6 1.9h.9m-.6-1.3h.9m-.8-.1h.9m-.9 1.7h.9m-.8-.7h.9m-.6-.3h.9m-.9-1.5h.9m-.7 .8h.9m.1 .2h.9m-.5 .6h.9m-.8 1.1h.9m-.7-1.3h.9m-.7-.6h.9m-.2 .6h.9m-.9-2.3h.9m-.7 3.8h.9m.2-2h.9m-.2 .4h.9m-.7-1.7h.9m-.6 1.4h.9m-.8 .4h.9m-.2-.6h.9m-.9-1.4h.9m-.7 .8h.9m-.9 1.7h.9m.4-.4h.9m-.7-.9h.9m-.3 1h.9m-.3-3.5h.9m-.8 3.5h.9m.1-1.2h.9m-.6 1.7h.9m-.7-1.3h.9m.2 1.3h.9m-.2-.6h.9m-.9-1.4h.9m-.5 1.2h.9m-.7-.2h.9m-.6-.4h.9m-.6 .5h.9m-.6 .7h.9m-.6 .3h.9m.1-2.9h.9m-.8 1.9h.9m-.8 .4h.9m-.3-1.7h.9m-.5 1.8h.9m-.8-1.6h.9m-.8-.6h.9m-.5 1.7h.9m-.7-1.3h.9m-.8 1.1h.9m-.3 .1h.9m-.7 .5h.9m-.9-1.6h.9m-.5 1.5h.9m-.9-.8h.9m-.7 .3h.9m.1-.5h.9m-.9 .4h.9m-.5-1.3h.9m-.9 1.1h.9m-.3 .5h.9m-.8-.7h.9m-.8-.2h.9m-.6 .4h.9m-.8 .4h.9m-.7-.8h.9m-.8 .8h.9m-.9 1.1h.9m-.8-1.3h.9m-.8 .2h.9m-.2-.3h.9m-.7-.8h.9m-.5 0h.9m-.8 .8h.9m-.8-.4h.9m-.8-.4h.9m-.6-.2h.9m-.8 1.7h.9m-.9 .5h.9m-.9-2.5h.9m.1 1.4h.9m-.6 .8h.9m-.8-.3h.9m-.6-.4h.9m-.6 .2h.9m-.8-.9h.9m-.9-.1h.9m-.8 .6h.9m-.8-1h.9m-.6 2.4h.9m-.6-3.7h.9m-.9 .9h.9m-.7 1.6h.9m-.6-1.7h.9m-.7 1.6h.9m-.7-.4h.9m-.8 2.7h.9m-.9-2.9h.9m-.8-.2h.9m-.9 2.4h.9m-.7-1.9h.9m-.9 2.8h.9m-.8-3.3h.9m-.9 1.9h.9m-.5-2.8h.9m-.8 .3h.9m-.8 7.3h.9m-.1-5.1h.9m-.4-.9h.9m-.6 .9h.9m-.4 1.2h.9m-.1-1.1h.9m-.8 .4h.9m-.7-3.4h.9m-.7 1.2h.9m-.6 .6h.9m-.8 .6h.9m-.6 .8h.9m-.6-2.3h.9m-.4 .8h.9m-.7 1.1h.9m-.1-.5h.9m-.6-1.5h.9m-.4 2.4h.9m0 4.5h.9m-.2-6.3h.9m-.7-1.1h.9m-.7 .6h.9m-.6 1h.9m-.3 1.4h.9m.6-1.4h.9m-.8 .2h.9m-.9 2.2h.9m-.8-.5h.9m-.3-2.9h.9m-.8 1.2h.9m-.2 1.6h.9m-.5-2.7h.9m-.7 .7h.9m-.9 .8h.9m-.8 .4h.9m1.8-.4h.9m-.8 .5h.9m-.8-.7h.9m-.8 .8h.9m-.7-1.3h.9m-.4-.1h.9m-.7 .4h.9m0-.5h.9m-.5 .5h.9m-.3 .1h.9m-.5 .2h.9m-.6-.2h.9m-.7-3h.9m-.1 1.6h.9m0 1.2h.9m-.9-.2h.9m-.1-.1h.9m-.9 1h.9m-.4-.9h.9m-.7 .9h.9m-.9 .2h.9m.2 5.2h.9m-.8-6.2h.9m-.7 .2h.9m-.8-.8h.9m-.7 1h.9m-.2 .4h.9m-.8-2.4h.9m-.3 2.1h.9m-.2 .5h.9m-.2-1.3h.9m-.8 .4h.9m-.8 2.4h.9m-.9-3h.9m-.8-.3h.9m-.7-1.2h.9m-.6 2.3h.9m-.7-.1h.9m-.9 .8h.9m0 .1h.9m-.5-2.8h.9m-.7 2.1h.9m-.6 1.7h.9m-.9-2.2h.9m-.2 .1h.9m-.8 .2h.9m-.5-.2h.9m-.6 .9h.9m0 .7h.9m-.7-1.5h.9m-.7 .6h.9m-.4-3.1h.9m-.4 2h.9m-.9 1.4h.9m-.4-7.7h.9m-.1 7h.9m-.1-.1h.9m.4 1.2h.9m-.4-.7h.9m-.3-.4h.9m-.2 .1h.9m-.4-1.2h.9m-.9-.5h.9m-.5 1.3h.9m-.6 0h.9m-.7 .5h.9m-.2-.3h.9m-.1 1.3h.9m-.7-2.8h.9m.8 .5h.9m-.6 .2h.9m-.8 .6h.9m-.1 .1h.9m-.9 1.3h.9m-.9-.9h.9m0-1h.9m-.8-.7h.9m-.9-1.4h.9m-.8 3.4h.9m-.6 .5h.9m-.6-1h.9m-.9-.1h.9m-.8 1.3h.9m-.7-2.6h.9m-.9 .2h.9m-.6 .1h.9m-.8 2.5h.9m-.6-1.2h.9m-.8-1.1h.9m-.8 .5h.9m-.7 .2h.9m-.8 1.8h.9m-.9-1.9h.9m-.6-1.1h.9m-.8 .3h.9m-.5 1h.9m-.6 0h.9m-.8-.1h.9m-.6-.9h.9m-.9 1h.9m-.7-.6h.9m-.2 9.4h.9m-.3-9.6h.9m-.8 1.5h.9m-.9 3.8h.9m-.8-.9h.9m-.5-4.5h.9m-.9 1.8h.9m-.8-.6h.9m-.6-.9h.9m-.9 .1h.9m-.8 0h.9m-.6-.5h.9m-.5 .5h.9m-.8-2.1h.9m-.8 1.9h.9m-.8 .2h.9m-.7 .8h.9m-.2-.3h.9m-.6-.1h.9m-.8 .2h.9m-.8 .6h.9m-.8-.6h.9m-.8-.3h.9m-.9 3.2h.9m-.7-1.3h.9m-.9-2.4h.9m-.9 1.2h.9m-.8-.6h.9m-.9 .6h.9m-.8-1h.9m-.6 1.3h.9m-.8-1.7h.9m-.5 .5h.9m-.6 .7h.9m-.6-.3h.9m-.7-.8h.9m-.8 .7h.9m-.8 1.5h.9m-.8-.7h.9m-.6-.4h.9m-.3-.8h.9m-.6 .8h.9m-.9-.6h.9m-.6 .7h.9m-.5-.3h.9m-.8 .3h.9m-.9 .8h.9m-.8-.9h.9m.4-.1h.9m-.8-1.5h.9m-.5 2.8h.9m-.8-2.7h.9m-.9-1.9h.9m-.7 2.5h.9m-.8 1.3h.9m-.9-.2h.9m-.8-2.1h.9m-.9 .7h.9m-.4 .5h.9m-.4 .2h.9m-.6-1.5h.9m-.8 1.7h.9m0-3.2h.9m-.8 3h.9m-.7 .6h.9m-.5-1h.9m-.9 1.5h.9m-.6 0h.9m-.8-1.4h.9m-.7 1.2h.9m-.8-.7h.9m.4-.9h.9m-.8 .5h.9m-.9 1.5h.9m-.8-1.7h.9m-.9 1.1h.9m-.9 .8h.9m-.6-1.4h.9m-.7 .7h.9m-.5-1h.9m-.7-.6h.9m-.6 .7h.9m-.8 .7h.9m-.6-1.7h.9m-.3 3h.9m-.6-3.2h.9m-.8 2.1h.9m-.7 .2h.9m-.6 .3h.9m-.9 1.3h.9m-.9 .3h.9m-.3-1.3h.9m-.3-.5h.9m-.7-.2h.9m-.1-1.1h.9m-.5 .7h.9m-.8-2.9h.9m-.8 4.4h.9m-.6-1.6h.9m-.9 1.5h.9m-.9-1.3h.9m-.8-1.9h.9m-.5 2.1h.9m-.7-1.2h.9m-.4 .9h.9m-.3-.4h.9m-.8-.4h.9m-.8-1.8h.9m-.5 2.6h.9m-.8-1.5h.9m-.9 1h.9m-.9-.6h.9m-.7 .1h.9m-.7-.4h.9m-.7 0h.9m-.7 1.6h.9m-.6-1.2h.9m-.8 2.3h.9m-.8-3.5h.9m-.1 3.8h.9m-.8-2.6h.9m-.9 1.1h.9m-.6-1.8h.9m-.7 3.1h.9m-.8-2.3h.9m-.7 1.6h.9m-.6 .2h.9m-.8-.9h.9m-.8-.8h.9m.1 .9h.9m-.3-.2h.9m-.4 .1h.9m-.5-.9h.9m-.6 .7h.9m-.2-.8h.9m-.3 .7h.9m-.9-1h.9m-.3 .3h.9m-.5 .7h.9m-.6-.9h.9m-.8 .7h.9m-.6-.5h.9m-.8 1.6h.9m-.8-1.4h.9m-.6 1.7h.9m-.6 1.1h.9m-.8-1.7h.9m-.8-.5h.9m-.8-1.1h.9m-.7 7.9h.9m-.7-7.1h.9M228.9 444.3h.9m-.7 2.7h.9m-.9-2.2h.9m-.7 .3h.9m-.8 .7h.9m-.8 5.1h.9m.6-6.3h.9m-.8-.7h.9m-.7 .6h.9m-.6 .6h.9m-.7-1.4h.9m-.7 2h.9m-.9-.8h.9m-.3-.8h.9m-.6 1.1h.9m-.9-1.5h.9m-.7 .4h.9m-.7 .3h.9m-.6-.2h.9m-.3 1.9h.9m-.7 .9h.9m-.5-1.8h.9m-.9 1.1h.9m-.2-1.9h.9m-.6-.2h.9m-.9 .8h.9m-.8-.4h.9m-.9 .6h.9m-.7 .8h.9m-.9 .1h.9m-.8-1.1h.9m-.9 .6h.9m-.7 .6h.9m-.9 .2h.9m-.8-2h.9m-.8 .2h.9m.6 1h.9m-.5-1.5h.9m-.8 1.6h.9m-.8-1.5h.9m-.7-.8h.9m.2 .3h.9m-.4 2.2h.9m-.6-1h.9m-.8 .3h.9m-.6-1.1h.9m-.5-1h.9m-.1 .6h.9m-.7 3h.9m-.6-.9h.9m-.3-.5h.9m-.8-.7h.9m-.8 1.1h.9m-.8-1.3h.9m-.7 1.3h.9m-.8-1.7h.9m-.9 .8h.9m-.7-.4h.9m-.8 .9h.9m-.8 .3h.9m-.7 0h.9m-.7-1.4h.9m-.7 2.6h.9m-.8-1.1h.9m-.5-.2h.9m-.9 0h.9m-.2-3h.9m-.8 2.8h.9m-.5-2.1h.9m-.5 1.3h.9m-.6-.8h.9m-.1 .3h.9m.7 .7h.9m0-.7h.9m-.9 .3h.9m-.5 1.1h.9m0-.2h.9m-.7-3.3h.9m-.8 2.7h.9m-.4-.2h.9m-.9-.1h.9m-.5 1.5h.9m-.3 .9h.9m-.9-2.3h.9m-.2 .9h.9m.2-1.5h.9M267.2 443.7h.9m-.9 2.2h.9m-.7-3.1h.9m-.8 .9h.9m-.5 1.5h.9m.3-.9h.9m-.8 1.8h.9m-.8-.7h.9m-.5-.1h.9m-.4-2h.9m-.8 3h.9m-.9-1.2h.9m-.5 1.8h.9m-.8-2.6h.9m-.9 0h.9m-.6 1.7h.9m-.5-1.3h.9m-.9 1.6h.9m-.8-1.2h.9m-.8 .4h.9m-.9-.5h.9m-.8 .3h.9m-.8 .9h.9m-.9-1.3h.9m.2-1.1h.9m-.5 1.5h.9m-.8 0h.9m-.4-.1h.9m-.9-1.2h.9m-.8 .1h.9m-.7 .4h.9m-.8 .1h.9m-.6 .6h.9m-.8 .9h.9m-.4 .6h.9m-.7-2.3h.9m-.8-1.5h.9m-.8 3h.9m-.8-1.1h.9m-.8-.8h.9m-.8 1.8h.9m-.9-1.3h.9m-.9 1.2h.9m-.7-3.4h.9m-.8 4.8h.9m-.5-3.1h.9m-.6 1.2h.9m.1-.9h.9m-.9-.2h.9m-.8 .6h.9m-.9 1.5h.9m-.8-2.9h.9m1.6 1.3h.9m-.5-1.7h.9m-.2 1.1h.9m-.6 .5h.9m-.8 .6h.9m-.8 .2h.9m-.2-.5h.9m-.6 .6h.9m-.7 .3h.9m-.8-1.7h.9m-.8 .6h.9m-.3 .6h.9m-.8-.8h.9m-.8 .5h.9m-.8-1h.9m-.5 2.5h.9m-.6-2.2h.9m-.6 1.4h.9m-.6 1.5h.9m-.6-1.6h.9m-.1-.2h.9m-.4-1.3h.9m-.3-.1h.9m-.9 3.2h.9m-.5-2.2h.9m-.9 1.2h.9m-.5-.2h.9m-.4-.1h.9m-.6-.5h.9m-.7-.2h.9m-.9-.7h.9m-.4 .7h.9m-.9 1.7h.9m-.3-.8h.9m-.6-2.2h.9m-.8 1.2h.9m-.6-.2h.9m-.9 1h.9m-.2-.9h.9m-.5 1.1h.9m-.6-.9h.9m-.8-.5h.9m-.6 .2h.9m-.5 .9h.9m-.3 .3h.9m-.7-.5h.9m-.3 .6h.9m-.8-.7h.9m-.9 .1h.9m-.1-1.3h.9m-.7-.2h.9m-.4 1.5h.9m0 .7h.9m-.8-.9h.9m-.7 2.6h.9m-.5-2h.9m-.4-.5h.9m-.8-.3h.9m-.5 1.1h.9m-.3-2.1h.9m-.7 .7h.9m-.7-.2h.9m-.7 .5h.9m-.4-.4h.9m-.7-1.2h.9m-.3 1.9h.9m-.7-.1h.9m-.5-.3h.9m-.6-1.3h.9m-.9 1.9h.9m-.6-1.8h.9m-.8 1h.9m-.6 .3h.9m-.8 2.6h.9m-.5-4.1h.9m-.7 1.5h.9m-.7-.5h.9m.1 .1h.9m-.1 .3h.9m-.5-.4h.9m-.6 3.4h.9m.4-5.2h.9m-.5 1.4h.9m-.2 1h.9m-.8 1.6h.9m-.3-.7h.9M317.5 444.2h.9m-.9 2.1h.9m-.3-1h.9m-.9-1h.9m-.9 1h.9m-.8-2.2h.9m-.5-2.8h.9m-.4 4.7h.9m-.8-.8h.9m-.8 1.2h.9m-.6-2h.9m-.7 1.1h.9m-.8-.1h.9m-.4 2.1h.9m-.7-1.7h.9m-.7-.4h.9m-.9 0h.9m-.2 1.8h.9m-.7-1.8h.9m-.9 1.8h.9m-.4-2.3h.9m-.3 2.9h.9m-.5-.9h.9m-.9-2.5h.9m-.9 1.7h.9m-.7-.7h.9m-.6 1.7h.9m-.9-2.2h.9m-.8-.1h.9m-.8 .6h.9m-.5 3h.9m-.8-3.5h.9m-.8 1.3h.9m-.8-.3h.9m-.9 1.3h.9m-.9 .1h.9m-.8-2.2h.9m-.6 .8h.9m-.5 .4h.9m-.1 .6h.9m0-2.3h.9m-.5-.3h.9m-.9 2.8h.9m-.8-2.1h.9m-.7 .4h.9m-.8-1.7h.9m-.9 2h.9m-.5 1h.9m-.3 .2h.9m-.3 .8h.9m-.6-1.1h.9m-.2-.4h.9m.5 .9h.9m-.3-2.4h.9m-.8 .7h.9m-.4 1.7h.9m-.8-1.1h.9m-.1-.2h.9m-.6 0h.9m0 1h.9m-.4-.8h.9m-.2 .3h.9m-.9-.9h.9m.3 .5h.9m-.8 .3h.9m-.4-.9h.9m-.6 .7h.9m-.7-1.4h.9m-.8 2.1h.9m-.8-.5h.9m-.5-1h.9m-.4 .9h.9m-.9-3.3h.9m-.8 1.2h.9m-.4 2.3h.9m-.8-1.4h.9m-.6 1.8h.9m-.9 .1h.9m-.7-1.3h.9m-.8-.6h.9m-.5 .2h.9m-.5 1h.9m-.4-.5h.9m-.7 .3h.9m-.7 1.4h.9m-.7-1.4h.9m-.7 0h.9m-.9 .6h.9m-.9-1.7h.9m-.6 0h.9m-.6 1h.9m-.8 .7h.9m-.8-1.6h.9m-.6 .6h.9m-.7-1.5h.9m-.8 3.4h.9m-.6-1.9h.9m-.9-.5h.9m-.7 0h.9m-.6 1.6h.9m-.2-.2h.9m-.9-1.3h.9m-.9 1.4h.9m-.4-.8h.9m-.8 1h.9m-.8-1.6h.9m-.7 1h.9m-.4-1.7h.9m-.7 2.1h.9m-.9-.9h.9m-.8 0h.9m-.6 0h.9m-.4 .8h.9m-.6-.2h.9m-.2-2.8h.9m-.7 3.3h.9M357.2 444.2h.9m-.5 .4h.9m-.1 .9h.9m-.6 .3h.9m-.5-.7h.9m-.8-1.8h.9m.2 1.9h.9m-.7-.5h.9m-.5-.3h.9m-.9 1.5h.9m.2 1.2h.9m-.8-1.2h.9m-.6 .4h.9m.1-.7h.9m-.6-1.4h.9m-.8 1.2h.9m-.7 .4h.9m-.8 .4h.9m-.7-1.1h.9m-.4 .7h.9m-.7-1.5h.9m-.6-.4h.9m-.9 .4h.9m0 1h.9m-.7-8.5h.9m-.1 5.7h.9m-.7 .7h.9m-.7 .9h.9m-.8-.5h.9m-.8 2.1h.9m-.8-.7h.9m-.7 1.7h.9m-.8-2h.9m-.9 .9h.9m-.2 .1h.9m-.9 .4h.9m-.6-1.4h.9m-.4-.2h.9m-.9 1.6h.9m-.8-.4h.9m-.9-1.5h.9m-.8 1.1h.9m-.6-1.2h.9m-.8 .9h.9m-.7-.1h.9m-.6 .4h.9m-.8-.8h.9m-.4-.2h.9m-.6 1.2h.9m-.5-.2h.9m-.8-.3h.9m-.6-.7h.9m-.7 1.2h.9m-.7-1h.9m-.4 1.4h.9m-.9-.7h.9m-.6 .1h.9m.2-.4h.9m-.9 0h.9m-.6 .1h.9m-.7-.4h.9m-.8-1.7h.9m-.5 2h.9m-.6 1.8h.9m-.2-1.6h.9m-.8 2.2h.9m-.6-2h.9m-.8-.3h.9m-.8 1.3h.9m-.8 0h.9m-.8-1.4h.9m-.8-.2h.9m-.6 3h.9m-.2-2.3h.9m-.9 .3h.9m-.8-1.8h.9m-.8-.2h.9m-.6 1.4h.9m-.6-.8h.9m-.8 0h.9m-.3 .5h.9m-.8 1.3h.9m-.8-.3h.9m-.4-1.6h.9m-.8 .5h.9m-.7-.6h.9m-.7-1h.9m-.2 3.1h.9m-.3-.1h.9m-.8-.2h.9m-.8-.9h.9m-.9-.8h.9m-.6 .4h.9m0-.6h.9m-.8-.4h.9m-.7 1.4h.9m-.7 .1h.9m-.6 7.3h.9m-.6-8.6h.9m-.8 .6h.9m-.5-1h.9m-.8 4h.9m-.7-2.5h.9m-.8 .2h.9m-.7 .8h.9m-.8-1.8h.9m-.8 2.4h.9m-.5-2.4h.9m-.7-1.2h.9m-.9 2.8h.9m-.9-1.5h.9m-.5-.2h.9m0 1h.9m-.8 1.4h.9m-.6-1.6h.9m-.6 .9h.9m-.8 .1h.9m-.8-1.2h.9m-.7 1.1h.9m-.6-.7h.9m-.1-.5h.9m-.7-2.3h.9M395.1 446.6h.9m0-1.4h.9m-.8 1.7h.9m-.9-3.5h.9m-.6 4.4h.9m.2-3.2h.9m-.9-.7h.9m-.8 1.3h.9m-.3-.3h.9m-.5 .5h.9m-.9-3h.9m-.9 3.7h.9m-.8-.5h.9m-.1-.2h.9m0-1.2h.9m-.7 .5h.9m-.6 1h.9m-.1 .4h.9m-.8-1.2h.9m.1-2h.9m-.8 2.2h.9m-.9-1.3h.9m-.4 2.2h.9m-.6-1.5h.9m-.7 1.7h.9m-.9-.9h.9m-.7 1.5h.9m-.7-1.4h.9m-.6-2.4h.9m-.7 1.5h.9m-.8 1h.9m-.8-1.6h.9m-.5 .8h.9m-.9 1.7h.9m-.7-3.3h.9m-.9 2.4h.9m-.7-.3h.9m-.9 .7h.9m-.8-.8h.9m0-.9h.9m-.9 .1h.9m-.7 1.3h.9m-.2-1.7h.9m-.3 1.2h.9m-.7-.9h.9m-.4 .2h.9m-.7 1h.9m-.4-.2h.9m-.6 1.6h.9m-.9-1.3h.9m-.8-.8h.9m-.9-1.9h.9m-.5 2.4h.9m-.5 .7h.9m-.9-2.8h.9m-.7 1.2h.9m-.1 1.4h.9m-.8-.3h.9m-.6-.6h.9m-.7 .1h.9m-.9 .2h.9m-.9 .2h.9m-.4-.2h.9m-.8 .7h.9m-.7-1.4h.9m.6 1.3h.9m-.7-.9h.9m-.9-.5h.9m-.7 6.4h.9m0-5.2h.9m-.4-1.2h.9m-.7 1.1h.9m-.9 .1h.9m-.8-7.5h.9m-.8 5.8h.9m-.2 1.3h.9m-.9 2.6h.9m.8-4.1h.9m-.2 1.8h.9m-.5 .7h.9m.1 .6h.9m-.5-1h.9m-.8 1.6h.9m-.9-3h.9m-.7 1.2h.9m-.8-.8h.9m-.9 1.5h.9m-.6-1.1h.9m-.8-.7h.9m-.9 2.4h.9m-.4-1.8h.9m-.4-1.7h.9m-.7 .4h.9m-.8 .1h.9m-.7 1.4h.9m-.8 .5h.9m-.9-.7h.9m-.8 .4h.9m-.8-2.1h.9m-.8 1.1h.9m-.4 1.1h.9m-.6-1.5h.9m-.7 1.2h.9m-.5 1.6h.9m-.6-1.5h.9m-.7-1.4h.9m-.6 1.1h.9m-.7 1.4h.9m-.7-.5h.9m-.9-2.2h.9m-.7-.9h.9m-.7 1.2h.9m-.4 3.5h.9m-.8-4.4h.9m-.9 3.9h.9m-.7-1.4h.9m-.8 .3h.9m-.9-.3h.9m-.7-1.3h.9m-.7 1.9h.9m-.3-1.2h.9m-.5 1.6h.9m-.8-.4h.9m-.8-.4h.9m-.7 .3h.9m-.4-.4h.9m-.9-1.3h.9m-.8 .8h.9m-.8 .1h.9m-.9 .2h.9m-.6-2.1h.9M489.1 445.2h.9m-.5-1.3h.9m-.8 1h.9m-.4 4.1h.9m-.7-4.2h.9m-.8 .6h.9m-.7-.4h.9m-.8-.1h.9m-.9-.8h.9m.1 1h.9m-.8 .2h.9m-.8 .4h.9m-.8 1h.9m-.8-1h.9m-.9-1.5h.9m-.5 .4h.9m-.9-.6h.9m-.7 1.1h.9m-.6 1.2h.9m-.9-1.1h.9m-.7-.4h.9m-.8-.1h.9m-.8 1.4h.9m-.8-.9h.9m-.8-.6h.9m-.8-.7h.9m-.9 .6h.9m0 1.6h.9m-.9-1.3h.9m-.6 1.5h.9m-.5-.4h.9m-.9-.9h.9m-.6-.2h.9m-.9 1.4h.9m-.8-1.4h.9m-.2-.6h.9m-.7 1.4h.9m-.8 .1h.9m-.3-.8h.9m-.9 1.4h.9m-.4-.2h.9m-.7-.5h.9m-.7-.4h.9m-.8-.4h.9m-.3 3.1h.9m-.7-.7h.9m-.4-3.3h.9m-.9 1.1h.9m-.8-.5h.9m.1 2.7h.9m-.8-1.5h.9m-.7-.8h.9m-.7-.5h.9m-.6 .9h.9m-.7-1.4h.9m-.1-.2h.9m-.8 1.8h.9m-.7-1h.9m-.7 1.6h.9m-.6-1.7h.9m.1 5.1h.9m-.9-2.8h.9m-.5-1.7h.9m-.8-1.1h.9m-.6 2.1h.9m-.7 .6h.9m0-.9h.9m-.5-.5h.9m-.7-.8h.9m-.7 .5h.9m-.6 1.2h.9m-.8-1.1h.9m-.8 .7h.9m-.6 3.8h.9m-.8-4.8h.9m-.9 0h.9" stroke="#4b3cf0" stroke-width=".9" stroke-opacity="0.72" fill="none"/>
<path d="M47.5 455.8h.9m-.8 1.4h.9m-.8-10h.9m-.3 10.6h.9m-.7-2.1h.9m-.9 1.2h.9m-.5 1.2h.9m-.8-1.4h.9m-.8 1.6h.9m-.8 .7h.9m-.8-2.8h.9m-.9 .3h.9m-.9 .3h.9m-.8-.7h.9m-.7 3.9h.9m-.8-.8h.9m-.9-5.7h.9m-.3 3.2h.9m-.6-4.2h.9m-.7 1h.9m-.5 7h.9m-.8 1.4h.9m-.4-7.9h.9m-.8 1.9h.9m-.9-.1h.9m-.8-1.1h.9m-.9 .9h.9m-.7 1h.9m-.6-1.3h.9m-.6 1.5h.9m-.8 0h.9m-.8-.3h.9m-.9-1.2h.9m-.9 .9h.9m-.7 2.7h.9m-.6-2h.9m-.7 3.3h.9m-.8-5.5h.9m-.7 3.4h.9m-.7-1.7h.9m-.7 .8h.9m-.9 .7h.9m-.3-3h.9m-.9 .8h.9m-.6 3.7h.9m-.9-4.2h.9m-.8 1.8h.9m-.8-.9h.9m-.7 .5h.9m-.8-1.9h.9m-.9 5.7h.9m-.7-4.6h.9m-.4 1.2h.9m-.6-2.6h.9m-.3 2.9h.9m-.5-.3h.9m-.8 .1h.9m-.8 1.4h.9m-.5-1.1h.9m-.9-1.2h.9m-.8-1.7h.9m-.8 1.8h.9m-.9 3.4h.9m-.8 1.4h.9m-.7-5.1h.9m-.5 .4h.9m-.4-1.7h.9m-.9 12h.9m.1-8.3h.9m-.8-2.6h.9m-.7-.9h.9m-.8-.5h.9m-.8 1.4h.9m-.8 1.6h.9m-.5-3.2h.9m-.9 3.5h.9m-.8 1.1h.9m-.5-1.5h.9m-.7-.5h.9m-.5-3.4h.9m-.6 3.4h.9m-.8 4.2h.9m-.9-4.2h.9m-.6 2h.9m-.9-4.3h.9m-.9-1.9h.9m-.7 2.1h.9m-.7 2.4h.9m-.9 1.3h.9m-.9-1.9h.9m-.9 0h.9m-.8-.1h.9m-.9 .7h.9m-.8 .3h.9m-.9-.6h.9m-.7-1.7h.9m-.6 2.2h.9m-.7 1.1h.9m-.3-3h.9m-.9 1.3h.9m-.8-.8h.9m-.7 .7h.9m-.9-2.2h.9m-.9 4.2h.9m-.2-4.1h.9m-.7 3.4h.9m.2-1.1h.9m-.8 .2h.9m-.9 2.9h.9m-.8-4.4h.9m-.9 3.1h.9m-.8-1.9h.9m-.8 1.8h.9m-.8-3.4h.9m-.7 .3h.9m-.9 3.3h.9m-.7-2.4h.9m-.8 .3h.9m-.8-2.6h.9m-.6 5.1h.9m-.7-1.3h.9m-.9-1.6h.9m-.8-.8h.9m-.9 .1h.9m-.9 .1h.9m-.9 2.4h.9m-.7-2.4h.9m-.6-.9h.9m-.8 3.2h.9m-.6 .3h.9m-.7-1.3h.9m-.9-.1h.9m-.8-1.3h.9m.6 1.4h.9m-.7-2.3h.9m-.6 1.1h.9m-.5 1.8h.9m-.7-1.7h.9m-.7 1h.9m-.8-1.2h.9m-.9-1.1h.9m-.9-4.5h.9m-.8 6.8h.9m-.9-1.5h.9m-.2 2.5h.9m-.7-1.9h.9m-.8-.9h.9m-.9 2.8h.9m-.8-3.8h.9m-.6 1.1h.9m-.7 2.8h.9m-.7-1.7h.9m-.8 1.1h.9m-.8-.6h.9m-.2-2.7h.9m-.8 5h.9m-.8-4.2h.9m-.9 3.8h.9m-.8-2.9h.9m-.7-1.2h.9m-.8 3.8h.9m-.8-2.6h.9m-.8 2.1h.9m-.9-2.7h.9m-.3 5h.9m-.6-3.6h.9m-.9 .8h.9m-.8 .2h.9m-.9-2.6h.9m-.6 3.6h.9m-.2-5h.9m-.7 1.9h.9m-.8-.7h.9m-.8 1.2h.9m-.7 3.3h.9m-.8-2.3h.9m-.9-.4h.9m-.9 0h.9m-.3 4.6h.9m-.6-4.8h.9m-.9 1.6h.9m-.6-1.7h.9m-.7 1.2h.9m-.3 2.7h.9m-.9-4.3h.9m-.5 .5h.9m-.8-.9h.9m-.7 .4h.9m-.9 2.6h.9m-.4-.3h.9m-.4-1.7h.9m-.8 3.4h.9m-.8-1.9h.9m-.8-2.5h.9m-.5 8.5h.9m-.8-10h.9m-.5 .3h.9m0 2.2h.9m-.8-2.9h.9m-.9 3.1h.9m-.9 .6h.9m-.6-.7h.9m-.8 1.5h.9m-.8-1.3h.9m-.5-1.7h.9m-.2 3h.9m-.8 .7h.9m-.9-.3h.9m-.5-.7h.9m-.7-.3h.9m-.9-.9h.9m-.2-3h.9m-.9 3.9h.9m-.5-2.6h.9m-.9 2h.9m-.7 1.6h.9m-.8-.6h.9m-.8-.4h.9m-.8-.8h.9m-.9-.1h.9m-.9 .6h.9m-.9 1.1h.9m-.8-2h.9m-.8-.3h.9m-.8 1h.9m-.9 1.1h.9m-.7 5.5h.9m-.6-6.7h.9m-.7 8h.9m-.6-6.7h.9m-.3-.1h.9m-.7 2.7h.9m-.8-10.6h.9m-.4 7.9h.9m-.7-.5h.9m-.9-1.6h.9m-.6 .6h.9m-.9-.6h.9m-.9 .1h.9m-.8 .1h.9m-.4 4.1h.9m-.9-4.3h.9m-.9 .5h.9m-.7 .7h.9m-.7 .8h.9m-.8 0h.9m-.6-2.1h.9m-.9 1.3h.9m-.8 1.2h.9m-.6-3.4h.9m-.8 2.2h.9m-.6-.2h.9m-.9 .8h.9m-.5 .3h.9m-.8-.4h.9m-.9-1.4h.9m-.8-.4h.9m-.8-1.3h.9m-.8 1.8h.9m.1 6.9h.9m-.9-6.9h.9m-.7 .6h.9m-.6 1.2h.9m-.6-2.2h.9m-.7-2.3h.9m-.8 2.8h.9m-.9 1.4h.9m-.7-4.6h.9m-.8 1.7h.9m-.6 1.4h.9m-.6-1h.9m-.3 2.1h.9m-.8 .3h.9m-.4-2.2h.9m-.6-.6h.9m-.6 0h.9m-.7 2.1h.9m-.9-.1h.9m-.6-.3h.9m-.8 .1h.9m-.8 1.8h.9m-.9-1.9h.9m-.3 1.6h.9m-.9-.4h.9m-.6-.9h.9m-.9-.6h.9m-.8 5.5h.9m-.7-7.5h.9m-.8 .7h.9m-.8 2.5h.9m-.8-4.3h.9m-.8 1.4h.9m-.8 3.5h.9m-.8-1.4h.9m-.8 6.6h.9m-.9-7.3h.9m-.6-1h.9m-.8 1h.9m-.8-1.8h.9m-.9 1.7h.9m-.8 2.6h.9m-.6-.8h.9m-.3-3.4h.9m-.7 .2h.9m-.9 2.7h.9m-.8-2.9h.9m-.8 3.9h.9m-.9-2.7h.9m-.6 .9h.9m-.9 .3h.9m-.9 .7h.9m-.7-1.3h.9m-.7 5.8h.9m-.7-5.9h.9m-.8 5.9h.9m-.4-4.4h.9m-.8-.8h.9m-.7 .2h.9m-.5-2.1h.9m-.3 3h.9m-.9-2.1h.9m-.6-.3h.9m-.8 .8h.9m-.9 .9h.9m.2-1.4h.9m-.6 0h.9m-.9 1.2h.9m-.8 1.5h.9m-.8-3.5h.9m-.8 .2h.9m-.7-.2h.9m-.9 4.6h.9m-.2-6.6h.9m-.4 3.4h.9m-.7 1.9h.9m-.6-2h.9m-.9 2.4h.9m0-.8h.9m-.6 3.8h.9m-.9-3.5h.9m-.7-1.8h.9m-.5 2.4h.9m-.9-4h.9m-.5 1.8h.9m-.6 .8h.9m.3 1.2h.9m-.6 .9h.9m-.9-3.1h.9m-.8 .2h.9m-.6 2.1h.9m-.8-3.7h.9m-.7 1.2h.9m-.8 3.1h.9m-.8-2.2h.9m-.8-1.9h.9m-.6 2.7h.9m-.5-.8h.9m-.9 2.4h.9m-.9-1.2h.9m-.7-3.3h.9m-.6 1.8h.9m-.8 .1h.9m-.9-1.2h.9m-.8 3.9h.9m-.9-1.6h.9m-.7-.3h.9m-.3 1.1h.9m-.9-.5h.9m-.6-1.3h.9m-.8-2.8h.9m-.9 3.4h.9m-.8 .1h.9m-.2 1.9h.9m-.5-2.4h.9m-.5 3h.9m-.8-.4h.9m-.7-3.7h.9m-.6 .1h.9m-.9-.7h.9m-.7 2.2h.9m-.8 1.4h.9m-.9 1h.9m-.8-6.2h.9m-.8 4.5h.9m-.8-2.6h.9m-.9 .3h.9m-.7-.5h.9m-.7 9.1h.9m-.4-4.6h.9m-.7-5.8h.9m-.7 2.6h.9m-.8 1h.9m-.3-.6h.9m-.6-.3h.9m-.8-.9h.9m-.8-.8h.9m-.8-1.7h.9m-.3 4.2h.9m-.9-.4h.9m-.7 1.4h.9m-.7-3h.9m-.6 1h.9m-.7 .9h.9m-.7-1h.9m-.5 1.8h.9m-.9-1.9h.9m-.8-1h.9m-.9-2.4h.9m-.9 4.8h.9m-.8-2.9h.9m-.9 2.2h.9m-.8-.6h.9m-.8-.7h.9m-.7-.2h.9m-.7 .5h.9m-.9 3.7h.9m-.8-6.7h.9m-.7 2.7h.9m-.7-.5h.9m-.7 1.8h.9m-.8-1.5h.9m-.9 3h.9m-.9-2.4h.9m-.7 2.9h.9m-.9-3.7h.9m-.8-.5h.9m-.7 .5h.9m0 4h.9m-.9-3.2h.9m-.7-.2h.9m-.8 .9h.9m-.8-1.6h.9m0 2.7h.9m-.8-.1h.9m-.9-1.6h.9m-.2 1.5h.9m-.9-1.2h.9m-.8-2.5h.9m-.8-.5h.9m-.8 2.9h.9m-.9 .5h.9m-.9-3.7h.9m-.6 2.8h.9m-.7 1.2h.9m-.8 2h.9m-.7-3.5h.9m-.9 4.8h.9m-.5-4.1h.9m-.8 .2h.9m-.8-.8h.9m-.8 2.1h.9m-.8 .4h.9m-.9-2.7h.9m-.6-.2h.9m-.7 .5h.9m-.1 1.8h.9m-.8 3.2h.9m-.8-6.4h.9m-.9 5.8h.9m-.6-5.9h.9m-.9 1.4h.9m-.5 1.6h.9m-.8-1.3h.9m-.8 .6h.9m-.7 .9h.9m-.9 .1h.9m-.8 2h.9m-.7-1.2h.9m-.8-1.3h.9m-.9-2.6h.9m-.9-7.4h.9m-.7 11.7h.9m-.8-3.6h.9m-.8-.5h.9m-.8-2.3h.9m-.9 5.8h.9m-.8-1.7h.9m-.7 .7h.9m-.9-1.3h.9m-.7-.8h.9m-.9 3.6h.9m-.9-.6h.9m-.8-2.6h.9m-.7 1.8h.9m-.8-1.3h.9m-.8 1.7h.9m-.6-2.1h.9m-.6-1.7h.9m-.8 5.2h.9m-.9-4.7h.9m-.6-1.7h.9m-.6 4.5h.9m-.8-3.2h.9m-.6 3h.9m-.5-.8h.9m-.8 1h.9m-.9-1.7h.9m-.8 1.8h.9m-.7 3.8h.9m-.7-4.5h.9m-.9-.9h.9m-.9 .8h.9m-.6-.7h.9m-.9 .7h.9m-.8-.3h.9m-.6 .4h.9m-.7 1.6h.9m-.8-1.9h.9m-.9 1.7h.9m-.7-2.8h.9m-.8 5.3h.9m-.9-4.4h.9m-.6-1.4h.9m-.9 1.9h.9m-.4-2.9h.9m-.9 2.4h.9m-.3-1.7h.9m-.6 3.9h.9m-.8-1h.9m-.9-2.1h.9m-.3 1.8h.9m-.8-4.2h.9m-.9 2.3h.9m-.7 2.7h.9m-.8-2.8h.9m-.9 2.6h.9m-.8-1.3h.9m-.6-.9h.9m-.8-.4h.9m-.9 .6h.9m-.9 2.3h.9m-.9 .1h.9m-.8-2.5h.9m-.6 1.3h.9m-.7-.1h.9m-.9 .3h.9m-.8 .4h.9m-.8-.2h.9m-.9-3.8h.9m-.7 5.8h.9m-.7-1.8h.9m-.7-3.2h.9m-.8 3.6h.9m-.7-.9h.9m-.5 1h.9m-.7-1.1h.9m-.4 1.5h.9m-.6-.4h.9m-.8-2.7h.9m-.9 1.9h.9m-.8-3.1h.9m-.9 2.4h.9m-.7 2h.9m-.9-1.3h.9m-.9 2.2h.9m-.5-3.5h.9m-.9 1.4h.9m-.8-1.9h.9m-.7 .5h.9m-.8-.3h.9m-.6-.1h.9m-.5-1.5h.9m-.7 3.8h.9m-.8-.5h.9m-.8-10.9h.9m-.9 8.9h.9m.2-1.1h.9m-.6 1.1h.9m-.8-1.7h.9m-.9 1.9h.9m-.9 4.7h.9m-.1-3.7h.9m-.8-1.2h.9m-.8 1.1h.9m-.8-.9h.9m-.4 0h.9m-.7 .4h.9m-.6 1h.9m-.6 3.9h.9m-.8-1.4h.9m-.5-5.5h.9m-.9 2.2h.9m-.8 1h.9m-.8 .2h.9m-.8 1.7h.9m-.8-2.5h.9m-.8 .4h.9m-.9 .7h.9m-.8-3.8h.9m-.9 9.6h.9m-.5-5.2h.9m-.4-4.5h.9m-.9-1.2h.9m-.8 5.9h.9m-.9-2.9h.9m-.3 .3h.9m-.5 1.2h.9m-.7-1.1h.9m-.4 1.9h.9m-.9 0h.9m-.8 .1h.9m-.7-1.6h.9m-.9 1.7h.9m-.7-1.4h.9m-.9-1.1h.9m-.9 0h.9m-.5 2.3h.9m-.7-2.9h.9m-.7 2.7h.9m-.4-2h.9m-.7 2.7h.9m-.7-3h.9m-.7-2h.9m-.5 4.4h.9m-.5-.3h.9m-.6-1h.9m-.7-3.2h.9m-.9 2.6h.9m-.6-.5h.9m-.3 0h.9m-.4-.3h.9m-.6 3.4h.9m-.9-.6h.9m-.4-1.4h.9m-.5-2.6h.9m-.6 2h.9m-.6 9.9h.9m-.9-8.7h.9m-.7 .1h.9m-.2-1.9h.9m-.6 1.9h.9m-.8 0h.9m-.7 .4h.9m-.5-8.8h.9m-.8 10.3h.9m-.6-1.1h.9m-.3-1.5h.9m-.8 .5h.9m-.7 .6h.9m-.9-2.9h.9m-.9 .8h.9m-.6 1.6h.9m-.7 .5h.9m-.9-2.5h.9m-.7 1.4h.9m.1 2.8h.9m-.8-3.3h.9m-.9 1.2h.9m-.6-.7h.9m-.3 1h.9m-.6 .1h.9m-.9-.4h.9m-.8-2.8h.9m-.8-.3h.9m-.3 1.8h.9m-.8-3h.9m-.7 5.2h.9m-.8-4.6h.9m-.5 2.8h.9m-.5 1.8h.9m-.9-1.8h.9m-.8 2.1h.9m-.8-3.2h.9m-.8 3.3h.9m-.9-.1h.9m-.8-1h.9m-.6-3.8h.9m-.6 2h.9m-.4 1.3h.9m-.7-1.5h.9m-.6 2.1h.9m-.8 .9h.9m-.8-4.1h.9m-.8 2.4h.9m-.8-1.4h.9m-.7 2.1h.9m-.9 .1h.9m-.8-.6h.9m-.6 .4h.9m-.7-1.9h.9m-.9-.5h.9m-.9 .3h.9m-.8 3.2h.9m-.6-1.3h.9m-.9-.1h.9m-.8 .1h.9m-.4 .8h.9m-.7-1.7h.9m-.8 4h.9m-.9-4.6h.9m-.8 3h.9m-.8-5h.9m-.8 3.1h.9m-.8 .7h.9m-.8 .7h.9m-.8-2.6h.9m-.6 3.1h.9m-.9-3.8h.9m-.8 3.9h.9m-.8-1.2h.9m-.8 1.5h.9m-.3-2.7h.9m-.9 1h.9m-.9-2h.9m-.8 .4h.9m-.9 1.7h.9m-.6-.8h.9m-.9 1h.9m-.5-1h.9m-.8-3.8h.9m-.7 2.9h.9m-.7 3.3h.9m-.4-.9h.9m-.8-.4h.9m-.8-2.6h.9m-.7 .5h.9m-.6 .3h.9m-.8-.6h.9m-.6 1h.9m-.7-.1h.9m-.9 2.7h.9m-.9-2.9h.9m-.1 .1h.9m-.7-.8h.9m-.8 4.3h.9m-.6-2.2h.9m-.9 1.3h.9m-.3-.4h.9m.2-2.6h.9m-.7-2.5h.9m-.7 4.3h.9m-.6-1.1h.9m-.8-1.7h.9m-.8 3h.9m-.7-1.5h.9m-.7-1.8h.9m-.7-.8h.9m-.7 3.5h.9m-.8 7.3h.9m-.9-11.2h.9m-.7 1.3h.9m-.6 2.4h.9m-.6 0h.9m-.7-1.9h.9m-.8-.5h.9m-.8 3.6h.9m-.7-.9h.9m-.2-.3h.9m-.6-.7h.9m-.9-.8h.9m-.6-.5h.9m-.7 .6h.9m-.5 2h.9m-.9 .6h.9m-.7-.9h.9m-.9-1.7h.9m-.7-2.1h.9m-.8 2.9h.9m-.8 2.2h.9m-.8 .1h.9m-.9-1.5h.9m-.9-1.3h.9m-.8-.6h.9m-.6 1.8h.9m-.9-.3h.9m-.9 .7h.9m-.3-2.1h.9m-.8 .1h.9m-.8-1.3h.9m-.8 .5h.9m-.8 3h.9m-.5-3.1h.9m-.7 1.9h.9m-.9-1.3h.9m-.6 1.5h.9m-.7 0h.9m-.7 1.7h.9m-.4-2.8h.9m-.8 3.3h.9m-.8-2.3h.9m-.8 3h.9m-.9-2.7h.9m-.6 .4h.9m-.6 1.1h.9m-.8-3.1h.9m-.6 0h.9m-.4 5h.9m-.8-6.4h.9m-.6 1.2h.9m-.2 1.3h.9m-.7-1.7h.9m-.9-6h.9m-.6 9.1h.9m-.2-2.7h.9m-.7 2.6h.9m-.5-.7h.9m-.8 3.5h.9m-.7-4h.9m-.9-.7h.9m-.8 1.7h.9m-.8-1.9h.9m-.9 .3h.9m-.8 1.6h.9m-.8 1.2h.9m-.5-1.7h.9m-.7-3.9h.9m-.7 3.4h.9m-.8-.3h.9m-.9-.7h.9m-.2 1.8h.9m-.9-.6h.9m-.8 1.1h.9m-.6-3.8h.9m-.9 .8h.9m-.8 .2h.9m-.7 1.4h.9m-.8 3.9h.9m-.9-2.6h.9m-.7 .9h.9m-.5-1.7h.9m-.5-1h.9m-.9-.2h.9m-.8 1h.9m-.6 1.1h.9m-.9-1.7h.9m-.7-.2h.9m-.9 1.9h.9m-.9-1.3h.9m-.8-4.4h.9m-.8 5.7h.9m-.8 8.1h.9m-.8-10.3h.9m-.9-.3h.9m-.8 1.9h.9m-.7-3.8h.9m-.7 4.7h.9m-.4-.2h.9m-.9-1.6h.9m-.9 .9h.9m-.9-.8h.9m-.8 .1h.9m-.7-1h.9m-.8 3.7h.9m-.8-4.6h.9m-.7 .6h.9m-.7 1.2h.9m-.6-.6h.9m-.8 .2h.9m-.5 6.8h.9m-.9-4.6h.9m-.9-.3h.9m-.8-1.5h.9m-.5 1.2h.9m-.7 .6h.9m-.7-2.5h.9m-.7 .9h.9m-.7 .7h.9m-.8-.9h.9m-.8 .8h.9m-.8-.4h.9m-.8 1.5h.9m-.6-.1h.9m-.8-.5h.9m-.5-.4h.9m-.8-1.7h.9m-.9 .6h.9m-.8-2.2h.9m-.9 2.2h.9m-.9 .7h.9m-.7-1h.9m-.6 3.2h.9m-.8-1.7h.9m-.7-2.5h.9m-.8 .9h.9m-.9-.1h.9m-.9-1.4h.9m-.8 1.3h.9m-.4 8.7h.9m-.8-4h.9m-.9-2h.9m-.9-3.5h.9m-.8 1.4h.9m-.9 1.7h.9m-.8-2.4h.9m-.9 1.5h.9m-.7-2.7h.9m-.9 1.1h.9m-.7 1.8h.9m-.9 0h.9m-.7-1h.9m-.9 .1h.9m-.3 1.1h.9m-.9-2.4h.9M228.7 455.3h.9m-.6 .1h.9m-.7 0h.9m-.8 .7h.9m-.5 3.4h.9m-.9-6.6h.9m-.9 5.3h.9m0 1.3h.9m-.8-1.8h.9m-.6-1.1h.9m-.5-.5h.9m-.9 .3h.9m-.7 2.8h.9m-.6-4.2h.9m-.5 1.1h.9m-.5 2.4h.9m-.9-4.2h.9m-.9 1.2h.9m-.8-1.3h.9m-.9 1.9h.9m-.7-2h.9m-.2 3.5h.9m-.9-3.1h.9m-.8 .3h.9m-.8 2.7h.9m-.9-.8h.9m-.7-1.2h.9m-.6-.3h.9m-.6 3.2h.9m-.7-.9h.9m-.9-1.8h.9m-.7-.2h.9m-.8-.7h.9m-.8 1.1h.9m-.9 2.8h.9m-.8-4.5h.9m-.8 2.8h.9m-.9 .3h.9m-.7-4.3h.9m-.9 1.7h.9m-.8 1.4h.9m-.6 .7h.9m-.9 5h.9m-.7-2.3h.9m-.8-4.3h.9m-.8 2.4h.9m-.8-.9h.9m-.8-.3h.9m-.6-.9h.9m-.6 .1h.9m-.5-.8h.9m0 0h.9m-.8-.1h.9m-.7 3.4h.9m-.8 .1h.9m-.4-2.3h.9m-.9 1.2h.9m-.7 .2h.9m-.6-1.8h.9m-.5 .3h.9m-.2-.3h.9m-.5 2.1h.9m-.7-1.5h.9m-.6 .2h.9m-.9-1h.9m-.3 .5h.9m-.7 2.1h.9m-.8-3.1h.9m-.8-1.8h.9m-.8 5.6h.9m-.7-2.4h.9m-.2 1h.9m-.4 .3h.9m-.7-2.1h.9m-.9 3.1h.9m-.6-1.9h.9m-.7-.4h.9m-.9-1.4h.9m-.8 1.6h.9m-.9 1.2h.9m-.8-1.7h.9m-.9-.6h.9m-.6 1.5h.9m-.8-.4h.9m-.7-2h.9m-.9 3.4h.9m-.6 .7h.9m.4-2.4h.9m-.9 .3h.9m-.8 .2h.9m-.9-.2h.9m-.8-1.1h.9m-.7 .3h.9m-.7 .7h.9m-.7-.6h.9m-.8 2.8h.9m-.9-.2h.9m0-.4h.9m-.8-.5h.9m-.9 .2h.9m-.2 1.6h.9m-.9-1.2h.9m-.5-2.3h.9m-.8 3.3h.9m-.8-1.7h.9m-.9 2.1h.9m-.7-4.1h.9m-.6-1.5h.9m-.8 2.6h.9m-.7 1.9h.9m-.5-2.7h.9m-.5 2.2h.9m-.9 .1h.9m-.6 5h.9m-.8-9.8h.9m-.7 6.4h.9m-.9-6h.9m-.3 2.9h.9m-.7 .7h.9m-.8-2.4h.9m-.9-.2h.9m-.9 5.2h.9m-.7-1.6h.9m-.7-3.6h.9m-.7 1.3h.9m-.8-1.1h.9m-.7-.9h.9m-.8 5.3h.9m-.9-2.5h.9m-.9-1.5h.9m-.8 3.4h.9m-.8-3.4h.9m-.9-.1h.9m-.8 3.7h.9m-.7-1h.9m-.9 1.4h.9m-.5-1.4h.9m-.9-1.3h.9m-.9-1h.9m-.6 2.1h.9m-.2-.7h.9M267.1 457.6h.9m-.4 .2h.9m-.8-.1h.9m-.5-2.7h.9m-.8 1.2h.9m-.7-.3h.9m-.8-2.3h.9m-.7 3.3h.9m-.8 .8h.9m-.6-3.4h.9m-.8 .7h.9m-.7 .5h.9m-.9 .9h.9m-.8 1.7h.9m-.7 1.2h.9m-.9-6.3h.9m-.6 4.6h.9m-.8-1.8h.9m-.5 2.4h.9m-.8-.7h.9m-.9-.2h.9m-.8-2.6h.9m-.9 3.2h.9m-.7-5.1h.9m-.9 1.9h.9m-.6 1.2h.9m-.8 2.2h.9m-.7 1.9h.9m-.8-4.2h.9m-.8 2.5h.9m-.8 9.7h.9m-.6-9.8h.9m-.7-1.4h.9m-.9 1h.9m-.9-2.3h.9m-.6 2.7h.9m-.8-2.5h.9m-.7 4.9h.9m-.8-5.1h.9m-.5 2.8h.9m-.9-2.2h.9m-.8 1.7h.9m-.8 1.1h.9m-.5-3.2h.9m-.8 .8h.9m-.8-1.5h.9m-.6-.3h.9m-.8 5.2h.9m-.7-2.1h.9m-.9-1.7h.9m-.7-1.3h.9m-.6 2.5h.9m-.6 1.4h.9m-.5-.6h.9m-.6-.5h.9m-.9-1.5h.9m-.6 .4h.9m-.9 .6h.9m-.7-3.1h.9m-.9 3.3h.9m-.6-1.4h.9m-.9 0h.9m-.7 2.1h.9m-.9-5.3h.9m-.7 6.1h.9m-.9-1.4h.9m-.9-.6h.9m-.3 .7h.9m-.7-2h.9m-.7 1h.9m-.6 3h.9m-.8-2.4h.9m-.9 4.1h.9m-.9-4h.9m-.8-.7h.9m-.5-1.3h.9m-.7 4.1h.9m-.9-2.2h.9m-.6 .2h.9m-.6 1.2h.9m-.8-3.4h.9m-.9 .2h.9m-.5-.3h.9m-.9 4.1h.9m-.8-3.6h.9m-.5 3.1h.9m-.7-3.4h.9m-.9 2.4h.9m-.8-1.6h.9m-.8 1.5h.9m.1-1.6h.9m-.7 4.5h.9m-.7-5.1h.9m-.5 3h.9m-.9 .9h.9m-.4-3.9h.9m-.6-.1h.9m-.7 0h.9m-.7 1.5h.9m-.8 1.5h.9m-.8-5.3h.9m-.5 3.4h.9m-.6 2.3h.9m-.9-2.9h.9m-.9 .6h.9m-.9 1.2h.9m-.6-2h.9m-.5-.9h.9m-.7 1.7h.9m-.4-1.6h.9m-.7 1.6h.9m-.9-.9h.9m-.6 .2h.9m-.8 .3h.9m-.9 1.2h.9m-.7 3.3h.9m-.6-4.2h.9m-.9 7.1h.9m-.9-5.5h.9m-.6-1h.9m-.4-.9h.9m-.2-7.2h.9m-.4 8.1h.9m-.8-3.5h.9m-.7 4.7h.9m-.6 .4h.9m-.5-2.3h.9m-.8-.7h.9m-.9 2.6h.9m-.9 .2h.9m-.8-1.8h.9m-.9 .7h.9m-.6-.1h.9m-.8-1.3h.9m-.9 1.8h.9m-.5-1h.9m-.9 .1h.9m-.3-.8h.9m-.8 .3h.9m-.7-1.1h.9m-.9 .9h.9m-.8 2.9h.9m-.9-5.1h.9m-.8 4.2h.9m-.8-2.3h.9m-.7 2h.9m-.7-.5h.9m-.8-3.4h.9m-.7 1h.9m-.5 .2h.9m-.7 2.4h.9m-.8-.4h.9m-.7 0h.9m-.8 .3h.9m-.9-2.3h.9m-.8 2.6h.9m-.7-2.3h.9m-.8 4.8h.9m-.8-5.3h.9m-.3 .8h.9m-.3 1.6h.9m-.9-.6h.9m-.7-1.4h.9m-.6 .6h.9m-.8 1.2h.9m-.7 .4h.9m-.8-4.9h.9m-.8 4.9h.9m-.4-.2h.9m-.6-.5h.9m-.9-1.4h.9m-.6 3.9h.9m-.9-1.8h.9m-.8 1.2h.9m-.7-1.4h.9m-.9 .5h.9m0-1.4h.9m-.8-.5h.9m-.9-1.1h.9m-.4 1.9h.9m-.8 .7h.9m-.6-1.2h.9m-.6 1.1h.9m-.7 .7h.9m-.6-2.7h.9m-.5 2.1h.9m-.6-2.1h.9m-.6 1.5h.9m-.7-.5h.9m-.7 4.2h.9m-.8-4.4h.9m-.8 1.7h.9m-.8-3.5h.9m-.9 3.4h.9m-.9-4.6h.9m-.7 1.7h.9m-.6-3.3h.9m-.9 5.6h.9m-.8-1.2h.9m-.9 1.3h.9m-.7 8.1h.9m-.8-9.3h.9m-.8 1.4h.9m-.4-2.6h.9m-.6 2.3h.9m-.9 2.4h.9m-.6-3.5h.9m-.6 0h.9m-.4 1.5h.9m-.7-2.1h.9m-.8 4.1h.9m-.9-1.9h.9m-.9 .4h.9m-.6-5h.9m-.7 1.9h.9m-.8 .3h.9m-.9 1.7h.9m-.6-4.8h.9m-.7 6.3h.9m-.6 .1h.9m-.2-.6h.9m-.6-2.1h.9m-.5-1.3h.9m-.8 .5h.9m-.8 1.6h.9m-.3 1.4h.9m-.2-2h.9m-.7 2.7h.9m-.7-1.2h.9m-.6-2.2h.9m-.7 1.1h.9m-.8-.1h.9m-.9 .5h.9m-.8 .5h.9m-.6 2.4h.9m-.8-1.5h.9m-.9-4h.9m-.9 4.9h.9m-.6-7.5h.9m-.9 6.2h.9m-.9-.4h.9m-.9-1.4h.9m-.6 0h.9m-.6 .1h.9m-.4-.5h.9m-.8 .2h.9m-.8 .9h.9m.1-1.5h.9m-.9 .7h.9m-.8 1.9h.9m-.7-1.4h.9m-.8-.9h.9m-.7 .5h.9m-.7-5.2h.9m-.7 4.6h.9m-.8-9.4h.9m-.9 9.2h.9m-.9 2.5h.9m-.8-2.3h.9m-.8 .8h.9m-.9-.6h.9m-.7 4.3h.9m-.7-4.8h.9m0 1.5h.9m-.8-1.9h.9m-.7-2.5h.9m-.8 4.4h.9m-.7 .1h.9m-.8 1.3h.9m-.9-1.6h.9m-.8 1.7h.9m-.9 .2h.9m-.8-3.2h.9m-.9 3.2h.9m-.7-1.1h.9m-.7-.7h.9m-.5-2.1h.9m-.7 5.3h.9m-.7-1.5h.9m-.9 .2h.9m-.8-.9h.9m-.9-1.4h.9m-.8 .4h.9m-.7-.3h.9m-.8-1.9h.9m-.6-.5h.9m-.7 4h.9m-.8-.3h.9m-.4-.4h.9m-.7 .4h.9m-.8 .7h.9m-.8-.4h.9m-.5 .5h.9m-.9 .1h.9m-.9-.4h.9m-.6 .4h.9m-.6-1.6h.9m-.9-2.5h.9m-.6 2.2h.9m-.7 .5h.9m-.8-2h.9m-.9 1.2h.9m-.8 1.7h.9m-.7-3.3h.9m-.5 2.2h.9m-.7 1.2h.9m-.8-.1h.9m-.5-1.8h.9m-.9 1.9h.9m-.5 .4h.9m-.7-4.3h.9m-.8 3h.9m-.6 1.9h.9m-.7-.1h.9m-.8-.9h.9m-.9-.1h.9m-.9 2.1h.9m-.8-2.3h.9m-.8 .3h.9m-.5 2.9h.9m-.8-2.1h.9m-.7-2.2h.9m-.7-.4h.9m-.9 2.8h.9m-.5 .6h.9m-.8 1h.9m-.9-4.1h.9m-.9 5.8h.9m-.9-3.6h.9m-.5-1.3h.9m-.8-.8h.9m-.6 .4h.9m-.8 .8h.9m-.8-2h.9m-.6 .5h.9m-.8 .5h.9m-.7 1.4h.9m-.8-3.3h.9m-.7 1.3h.9m-.6 1.8h.9m-.6-.2h.9m-.6-3.3h.9m-.9 .5h.9m-.5 3.2h.9m-.8-1.9h.9m-.9 .1h.9m-.8-.7h.9m-.8 .2h.9m-.9 2.6h.9m-.8-1.7h.9m-.6 4.5h.9m-.9-4.4h.9m-.7-.2h.9m-.8 .7h.9m-.9 1.2h.9m-.5-.8h.9m-.6-.4h.9m-.7 .8h.9m-.8-2.8h.9m-.6 2.6h.9m-.9-2.9h.9m-.9 3.3h.9m-.6-1.7h.9m-.9-.7h.9m-.8-.5h.9m-.7 1.8h.9m-.7-2.9h.9m-.7 5h.9m-.6-3.4h.9m-.9-.4h.9m-.6 1h.9m-.4 5.1h.9m-.9-4.2h.9m-.5 1.8h.9m-.6-3.5h.9m-.9 1.2h.9m-.5-.5h.9m-.8 0h.9m-.8 .5h.9m-.9-.6h.9m-.5-1.5h.9m-.9 2.5h.9m-.6-7.6h.9m-.9 6.4h.9m-.8-.8h.9m-.7-1.9h.9m-.9 2.6h.9m-.7 1.3h.9m-.7 .8h.9m-.6-2.6h.9m-.8 .2h.9m-.6 1.9h.9m-.6 .3h.9m-.8 1.7h.9m-.8-2.9h.9m-.8 0h.9m-.6-1.8h.9m-.9 2.2h.9m-.9-2.6h.9m-.3 3.5h.9m-.8-1.6h.9m-.4-1.2h.9m-.8-.5h.9m-.9-1.1h.9m-.7 3h.9m-.8-3.4h.9m-.8 2.5h.9m-.6 2.5h.9m-.6-3.3h.9m-.8 2.3h.9m-.6 1.3h.9m-.9-1.9h.9m-.6 2.3h.9m-.9-2.9h.9m-.8-.2h.9m-.9 2.8h.9m-.3-4.2h.9m-.6 .5h.9m-.7-6.6h.9m-.9 9.4h.9m-.6 1.3h.9m-.9-2.3h.9m-.8 1.9h.9m-.5-1.3h.9m-.8-3.1h.9m-.9 4.8h.9m-.8-3.1h.9m-.9-.3h.9m-.7 3.7h.9m-.9-4.3h.9m-.9 .1h.9m-.4-2.5h.9m-.8 4.6h.9m-.5-.2h.9m-.6 2.4h.9m-.3-3.2h.9m-.5-.2h.9m-.8 1.6h.9m-.6-3.7h.9m-.8 2.5h.9m-.6-.8h.9m-.6-.2h.9m-.4 3.1h.9m-.8-.4h.9m-.6-2.3h.9m-.9 .9h.9m-.6-1.7h.9m-.9 1.7h.9m-.6 3.9h.9m-.9-5.1h.9m-.5 2.6h.9m-.9-3.2h.9m-.6 2.4h.9m-.8 2.5h.9m-.8-5.5h.9m-.9 1.1h.9m-.9 4.8h.9m-.7-4h.9m-.7 2.2h.9m-.9-6.1h.9m-.8 3.2h.9m-.8 2h.9m-.9-.9h.9m-.4 1.8h.9m-.9-.7h.9m-.8 2.5h.9m-.9-3.6h.9m-.5 2h.9m-.7 5.1h.9m-.8-7.1h.9m-.9-.3h.9m-.8-1.6h.9m-.3 1h.9m-.7 3.5h.9m-.8 8.9h.9m-.7-10.8h.9m-.6-1.6h.9m-.8 2.6h.9m-.9-2.6h.9m-.8 .6h.9m-.9 1.9h.9m-.7-3h.9m-.9 9.3h.9m-.7-8.4h.9m-.8-.8h.9m-.4 .9h.9m-.9-5.7h.9m-.8 5.3h.9m-.9 .8h.9m-.8 .3h.9m-.8 2h.9m-.9-4.7h.9m-.6 1.3h.9m.1 3.4h.9m-.8-5.1h.9m-.6 2.8h.9m-.9 .7h.9m-.8 0h.9m-.8-.6h.9m-.9 .9h.9m-.7-1.3h.9m-.8 .6h.9m-.6-2.9h.9m-.8 .8h.9m-.5 2.1h.9m.1 .2h.9m-.6-3h.9m-.4 4.5h.9m-.8-2.6h.9m-.9 2.4h.9m-.6-.3h.9m-.8 .3h.9m-.6 0h.9m-.9-3.9h.9m-.6 2.3h.9m-.5 .2h.9m-.5-3.8h.9m-.8 3.1h.9m-.8-.3h.9m-.2 .7h.9m-.8 4.5h.9m-.8-6.9h.9m-.7 1h.9m-.4 2.5h.9m-.5-2.4h.9m-.8-1.8h.9m-.8 5.6h.9m-.9-3.4h.9m-.6-.3h.9m-.7 .8h.9m-.6 1h.9m-.7 0h.9m-.8-.1h.9m-.5-2.5h.9m-.9 3.5h.9m-.8-2h.9m-.8 .5h.9m-.7 .7h.9m-.8-.3h.9m-.6-7.8h.9m-.9 5.3h.9m-.8-.9h.9m-.6 2.3h.9m-.8-1.8h.9m-.6 3h.9m-.8-1.4h.9m-.5 .9h.9m-.8 1.2h.9m-.9-1.5h.9m-.8 1.8h.9m-.8 1.6h.9m-.6-3.3h.9m-.8 .3h.9m-.6 .2h.9m-.8-1.5h.9m-.7-2.4h.9m-.9 4.6h.9m-.7 0h.9m-.9-2.6h.9m-.8 .5h.9m-.8 .9h.9m-.9 1.2h.9m-.8-.4h.9m-.7-1.5h.9m-.9-.9h.9m-.8 1.1h.9m-.7 .6h.9m-.5 .8h.9m-.8-.4h.9m-.9 1.2h.9m-.7-5.9h.9m-.9 3.8h.9m-.8-2.5h.9m-.5 4.6h.9m-.7-1.2h.9m-.8 1.5h.9m-.8-3.2h.9m-.9-.3h.9m-.5 2.2h.9m-.7-1.3h.9m-.8 2.6h.9m-.7-1.5h.9m-.9-1h.9m-.2 3h.9m-.7-4.2h.9m-.8 .5h.9m-.8 3.5h.9m-.9-2.6h.9m-.9-2.1h.9m-.8 3h.9m-.9-1.2h.9m-.7-.2h.9m-.9 3h.9m-.9-1.4h.9m-.8-.7h.9m-.5 2.4h.9m-.9-1.5h.9m-.8-1.3h.9m-.8-.6h.9m-.7 2.2h.9m-.5-.8h.9m-.3-2.1h.9m-.8 1.9h.9m-.9 1.7h.9m-.8 .6h.9m-.7-8.9h.9m-.8 7h.9m-.8-1.4h.9m-.9-.9h.9m-.7 2.1h.9m-.7-.6h.9m-.6-.9h.9m-.9 1.2h.9m-.5-.4h.9m-.8 3.8h.9m-.7-4.3h.9m-.9 .5h.9m-.7-1.1h.9m-.6 0h.9m-.8-.1h.9m-.9 .4h.9m-.9-1.5h.9m-.9 .4h.9m-.9 1.4h.9m-.7-.2h.9m-.9 2.1h.9m-.5-3h.9m-.4-.9h.9m-.4 2.6h.9m-.9-1.9h.9m-.8 1.8h.9m-.7 0h.9m-.8 1.4h.9m-.9-.2h.9m-.8-1.9h.9m-.4 1h.9m-.9-.8h.9m-.7 .5h.9m-.8 .3h.9m-.8 .5h.9m-.7 .7h.9m-.8-1.8h.9m-.5 .8h.9m-.8-4.1h.9m-.9 3.6h.9m-.7-.9h.9m.1 2.2h.9m-.8-1.3h.9m-.6 2.7h.9m-.8-2.7h.9m-.7 1.4h.9m-.8-2.9h.9m-.6 .6h.9m-.7 1.9h.9m-.8-.4h.9m-.7-.5h.9m-.8-.1h.9m-.2 4h.9m-.4-3.4h.9m-.5 .5h.9m-.8-.5h.9m-.7 .7h.9m-.9-2.5h.9m-.7 2.5h.9m-.8 .2h.9m-.4-.9h.9m-.9-2h.9m-.8 2.9h.9m-.8 .4h.9m-.9-1h.9m-.6-.5h.9m-.8-1.1h.9m-.8 .5h.9m-.7 1.7h.9m-.9-.4h.9m-.7 .9h.9m-.8-1.6h.9m-.8 1.2h.9m-.8-1h.9m-.6-2.9h.9m-.8 2.6h.9m-.9-.6h.9m-.6-3h.9m-.7 4.5h.9m-.8 .9h.9m-.7-2.7h.9m-.9-3.6h.9m-.8 6.7h.9m-.8-2.7h.9m-.6 .5h.9m-.9-1h.9m-.5-.9h.9m-.5 1.9h.9m-.9 10.2h.9m0-10.1h.9m-.9-1.7h.9m-.9-1.9h.9m-.3 6h.9m-.8-1.7h.9m-.9-6.1h.9m-.8-.2h.9m-.7 7.2h.9m-.7-6.1h.9m-.7 .5h.9m-.5 4.9h.9m-.8-3.6h.9m-.7 1.6h.9m-.7 5.3h.9m-.6-3.1h.9m-.7-.5h.9m-.6-3.4h.9m-.8 1.5h.9m-.6 3.3h.9m-.9-2h.9m-.7-2h.9m-.7-.3h.9m-.7-8.4h.9m-.8 9.1h.9m-.8 1.7h.9m-.7 0h.9m-.8 .2h.9m-.8 .1h.9m-.8-2.7h.9m-.6 2h.9m-.6-.8h.9m0-.6h.9m-.7 3.8h.9m-.9 .3h.9m-.4-5.1h.9m-.1 1.4h.9m-.6 1.4h.9m-.9-1.8h.9m-.8 4.5h.9m-.7-2.4h.9m-.3-.4h.9m-.9 1.1h.9m-.4-.3h.9m-.8 .5h.9m-.9-1.2h.9m-.8 .8h.9m-.7-.9h.9m-.7 .1h.9m-.5 0h.9m-.9-1.1h.9m-.7 .3h.9m-.7 1.6h.9m-.7-1.5h.9m-.8 .9h.9m-.7 1.9h.9m-.8-4.9h.9m-.5 3.9h.9m-.9-2.4h.9m-.9 2.1h.9m-.9-.5h.9m-.8-2.9h.9m-.8 1.1h.9m-.7 1.3h.9m-.9 1.3h.9m-.9 1.4h.9m-.7-3h.9m-.5 2.7h.9m-.9-3.4h.9m-.7-4.5h.9m-.9 3.7h.9m-.7 .3h.9m-.7-1.5h.9m-.9 2.7h.9m-.8 .5h.9m-.9-1.3h.9m-.7 .7h.9m-.7 2.6h.9m-.8-1.5h.9m-.7-1.4h.9m-.9-1.4h.9m-.7 0h.9m-.9 2h.9m-.6-.9h.9m-.8 1h.9m-.8-1.5h.9m-.4 .1h.9m-.3 1.3h.9m-.8 .2h.9m-.8-.6h.9m-.5 2h.9m-.4-1h.9m-.7-.2h.9m-.9 1.3h.9m-.9-1h.9m-.8 .1h.9m-.6 .1h.9m-.7 .4h.9m-.8 .6h.9m-.7-.2h.9m-.8-.5h.9m-.9 .9h.9m-.8-1.2h.9m-.4-.1h.9m-.8 1h.9m-.8 .6h.9m-.9-3.4h.9m-.7 0h.9m-.7-.3h.9m-.9 2.8h.9m-.6-2.7h.9m-.7 2.1h.9m-.8-.8h.9m-.9 1.5h.9m-.1-4.3h.9m-.6 4.4h.9m-.8-1.7h.9m-.7-1.3h.9m-.8 1.4h.9m-.9-2h.9m-.5 3h.9m-.8-2.1h.9m-.9 .5h.9m-.9 .2h.9m-.4-.2h.9m-.7-.9h.9m-.9 3.2h.9m-.8-1.4h.9m-.8-.9h.9m-.7 2.2h.9m-.8-1.7h.9m-.8-.7h.9m-.1 2.2h.9m-.8-2.9h.9m-.4 3.1h.9m-.8 .8h.9m-.7-3.6h.9m-.7 .9h.9m-.8 1.4h.9m-.6-.3h.9m-.7 .7h.9m-.6 1.2h.9m-.9 0h.9m-.6-3.4h.9m-.7 5.7h.9m-.2-6.3h.9m-.9 3.7h.9m-.6-.7h.9m-.7-.9h.9m-.8-.5h.9m-.7-.6h.9m-.9 1h.9m-.8-.2h.9m-.8-1.8h.9m-.8 3.9h.9m-.6-3.3h.9m-.8 1.6h.9m-.3-1.1h.9m-.9-1.6h.9m-.9 3.8h.9m-.6-.8h.9m-.8-.2h.9m-.8-1.7h.9m-.9 .7h.9m-.6 1h.9m-.8-2.2h.9m-.5 1.9h.9m-.7 2.1h.9m-.9-.9h.9m-.8 1.4h.9m-.2-1.7h.9m-.9-3h.9m-.8-.1h.9m-.6 4.6h.9m-.8-2.8h.9m-.8-.3h.9m-.2-2.4h.9m-.6 .5h.9m-.1-3.6h.9m-.9 5.7h.9m-.6-3.2h.9m-.9 1.7h.9m-.9 .5h.9m-.4-1.7h.9m-.8 2.7h.9m-.5-.2h.9m-.7-2.2h.9m-.9 2.2h.9m-.6-.9h.9m-.9 1.7h.9m-.8-3.8h.9m-.9-3.6h.9m-.6 6.7h.9m-.9 1.8h.9m-.8-.9h.9m-.4-1.5h.9m-.8 0h.9m-.6 .6h.9m-.8 1h.9m-.9-1.1h.9m-.4 1.5h.9m-.7-.6h.9m-.7 1.7h.9m-.8-.1h.9m-.6-2.6h.9m-.8-1.7h.9m-.6 1.9h.9m-.7-1.5h.9m-.7 .5h.9m-.8-1h.9m-.8 .4h.9m-.7 5.6h.9m-.8-1.8h.9m-.8-2.9h.9m-.7 .5h.9m-.7 .8h.9m-.7-.6h.9m-.8-.1h.9m-.6-.8h.9m-.8 .4h.9m-.8 1.4h.9m-.8-7.9h.9m-.8 6.9h.9m-.7-1.6h.9m-.9 1.2h.9m-.6-3.4h.9m-.8 4.8h.9m-.9 0h.9m-.6-2.3h.9m-.8 1.7h.9m-.8-1.3h.9m-.8 4h.9m-.9-.5h.9m-.8-1.6h.9m-.8-3.1h.9m-.9 1.8h.9m-.7-.4h.9m-.9 2.5h.9m-.8-3.7h.9m-.6 .8h.9m-.8 .8h.9m-.8 1.5h.9m-.9-3.6h.9m-.8 1.4h.9m-.7 1h.9m-.6-1h.9m-.9-1.6h.9m-.9 .3h.9m-.9 2.2h.9m-.7 1.4h.9m-.8-1h.9m-.8-.1h.9m-.8 1h.9m-.9-1.9h.9m-.6 0h.9m-.8 3.6h.9m-.8 .5h.9m-.9-3.4h.9m-.6 1.4h.9m-.8-3.2h.9m-.7 .3h.9m-.9 1.7h.9m-.9 0h.9m-.8 1.1h.9m-.8-4.4h.9m-.6 4.4h.9m-.7-2h.9m-.5-.2h.9m-.7 1.1h.9m-.8 1.4h.9m-.5 0h.9m-.9-2.7h.9m-.1 3h.9m-.7-.1h.9m-.9-1.2h.9m-.6 1.1h.9m-.8-2.6h.9m-.7 2.3h.9m-.8-1.5h.9m-.6-.4h.9m-.9 .3h.9m-.8-.5h.9m-.2 0h.9m-.6 1.6h.9m-.6-4.9h.9m-.8 10.3h.9m-.8-6h.9m-.8-.9h.9m-.7-2.2h.9m-.8 1.8h.9m-.9 2h.9m-.8-.6h.9m-.8-1.5h.9m-.8 .4h.9m-.7 .2h.9m-.9-.3h.9m-.8 2.1h.9m-.8-1.3h.9m-.7 1.1h.9m-.5-1h.9m-.5 1.8h.9m-.7-1.2h.9m-.6-1.6h.9m-.5-.5h.9m-.8 1.7h.9m-.9-11.5h.9m-.7 9.2h.9m-.7 1.4h.9m-.8 2.5h.9m-.8-2.9h.9m-.9 .5h.9m-.8-1.7h.9m-.9 2.7h.9m-.4-2.1h.9m-.6 4.3h.9m-.9-.7h.9m-.5-1h.9m-.9-8.7h.9m-.7 7.4h.9m-.9-.6h.9m-.7 2.6h.9m-.8 .7h.9m-.7-1.3h.9m-.8-.8h.9m-.5-1.1h.9m-.9 1.4h.9m-.9-1h.9m-.8 0h.9m-.7 1.2h.9m-.6-.3h.9m-.7-1.2h.9m-.9-.6h.9m-.8 1.9h.9m-.9 4.7h.9m-.6-6.1h.9m-.8 1.5h.9m-.8-2.2h.9m-.8 2.8h.9m-.7 1.6h.9m-.8-2.9h.9m-.5 1.4h.9m-.8-4.1h.9m-.7 .1h.9m-.8 1.6h.9m-.5 .7h.9m-.7-.6h.9m-.8 .9h.9m-.3 .5h.9m-.8-2.9h.9m-.8 .4h.9m-.8 3.5h.9m-.7-.2h.9m-.8-.6h.9m-.9-1.9h.9m-.9 1.3h.9m-.8 2.2h.9m-.8-2.3h.9m-.5 1.6h.9m-.8-1.7h.9m-.6 1.2h.9m-.9-2.4h.9m-.8 1.3h.9m-.6-.3h.9m-.7-.7h.9m-.9 1.8h.9m-.8-.5h.9m-.6 .1h.9m-.5 .6h.9m-.8 1h.9m-.8-3h.9m-.4 3.2h.9m-.9-6.4h.9m-.8 3.9h.9m-.9-.2h.9m-.9-4.4h.9m-.8 4.3h.9m-.4 3.5h.9m-.7-.9h.9m-.8-4.2h.9m-.7 2.2h.9m-.7 .9h.9m-.8 .2h.9m-.7-3.4h.9m-.2 2h.9m-.9-2.4h.9m-.6 3h.9m-.8-.8h.9m-.8 2.9h.9m-.9 8.1h.9m-.9-9.5h.9m-.2-3.2h.9m-.2 1.3h.9m-.5 5.3h.9m-.9-5.8h.9m-.6 1.2h.9m-.3 0h.9m-.8 .5h.9m-.2 1h.9m-.3-3.7h.9m-.9 5h.9m-.3-5.4h.9m-.8 2.4h.9m-.2 3.3h.9m-.8-1.4h.9m-.4-4.2h.9m-.5 3.8h.9m-.3 2.6h.9m-.2-1h.9m-.8-1.2h.9m-.8-4h.9m-.7 4h.9m-.6-2h.9m-.7 3.2h.9m-.9-.5h.9m-.9-1.6h.9m-.8-3.5h.9m-.8 3.2h.9m-.7-.1h.9m0-1h.9m-.8 0h.9m-.5-.3h.9m-.2-1.7h.9m.4 1.8h.9m-.5 1.4h.9m-.8 0h.9m-.5-1.1h.9m-.8 .6h.9m-.8 2.3h.9m-.3-2.9h.9m-.9 2.1h.9m-.8-1.8h.9m-.8-1.3h.9m-.8 1.2h.9m-.8 2h.9m-.7-2.1h.9m-.3 1h.9m-.8-.5h.9m-.7-1.9h.9m-.9 0h.9m-.9 1h.9m-.2 1.9h.9m-.7 2.2h.9m-.7 3h.9m-.9-6.4h.9m-.1-.7h.9m-.7 1.2h.9m-.8 1h.9m-.8 3.4h.9m-.8-4.5h.9m-.5 1.1h.9m-.6-2.1h.9m-.6 3.5h.9m-.6-3.6h.9m-.8 9.9h.9m-.7-6.1h.9m-.4-9h.9m-.8 4h.9m-.4 1.9h.9m-.9 0h.9m-.8-.9h.9m-.8-1.7h.9m-.7 1.6h.9m-.8 1h.9m-.8 0h.9m-.7-.6h.9m-.9 1.8h.9m-.8-3h.9m-.5-.4h.9m-.8 4h.9m-.6-1.1h.9m-.7-1.1h.9m-.6 0h.9m-.8 1.6h.9m-.9-3h.9m-.8 2.7h.9m-.8 1.2h.9m-.7-3h.9m-.4 2.4h.9m-.8 2.5h.9m-.8-1.3h.9m-.8-2.8h.9m-.9 .5h.9m-.8 1.4h.9m-.9-1.5h.9m-.8-1.7h.9m-.8 3h.9m-.9-2.1h.9m-.8 .3h.9m-.8 .1h.9m-.9 3h.9m-.6-1.5h.9m-.6-11h.9m-.9 11h.9m-.8 .3h.9m-.9-.7h.9m-.4-3.2h.9m-.8-.1h.9m-.7 3.6h.9m-.8 .3h.9m-.9 .2h.9m-.7 .5h.9m-.8-2.3h.9m-.4-2.9h.9m-.7 4.7h.9m-.8-1.5h.9m-.8-1.1h.9m-.7 1.1h.9m-.8-1h.9m-.8 2h.9m-.9 .2h.9m-.6 .9h.9m-.9-2.9h.9m-.9 .7h.9m-.9-1.9h.9m-.8 .5h.9m-.5 .2h.9m-.7 1.5h.9m-.8-4.1h.9m-.9 3.9h.9m-.6-1.2h.9m-.9 .9h.9m-.8 3.3h.9m-.7-3.5h.9m-.9 2.5h.9m-.6-2.9h.9m-.9 0h.9m-.7-1h.9m-.4 .8h.9m-.9 1.6h.9m-.5 .9h.9m-.5 2.6h.9m-.7-5h.9m-.7 .1h.9m-.9-.6h.9m-.9 3h.9m-.8-.8h.9m-.5-1.5h.9m-.7-2.9h.9m-.8 4.3h.9m-.9 1.8h.9m-.7 .7h.9m-.7-3.8h.9m-.6-1.8h.9m-.8 1.9h.9m-.9 .6h.9m-.8 .7h.9m-.7-.6h.9m-.9-.1h.9m-.6 .2h.9m-.9-1.8h.9m-.4 2.1h.9m-.8 .1h.9m-.5 .6h.9m-.8-.6h.9m-.9-.2h.9m-.6-.9h.9m-.5 1.2h.9m-.8-1.7h.9m-.6 .2h.9m-.9-.3h.9m-.8 .4h.9m-.5-.4h.9m-.7-.6h.9m-.5 2.2h.9m-.8-1.2h.9m-.7 .6h.9m-.9 2.2h.9m-.8-4.4h.9m-.9 .3h.9m-.8 2.4h.9m-.3 4h.9m-.7 2.4h.9m-.8-7.9h.9m.2-.4h.9m-.2 .7h.9m-.4 2.4h.9m-.8-6h.9m-.9 4.1h.9m-.8-7.3h.9m-.9 7.3h.9m-.7 0h.9m-.7 1.4h.9m-.7-3h.9m-.9 .6h.9m-.7 1.2h.9m-.9 1.3h.9m-.8-1.7h.9m-.7 2.5h.9m-.7-1h.9m-.6 .5h.9m-.3-1h.9m-.6 .4h.9m-.9-.1h.9m-.9-2.7h.9m-.8 3.8h.9m-.4-4h.9m-.8 2.8h.9m-.8-3.5h.9m-.3 1.8h.9m-.8-.3h.9m-.7-.6h.9m-.9 .2h.9m-.8-2h.9m-.9 4.7h.9m-.9-3.6h.9m-.3 3.4h.9m-.8-.8h.9m-.8-.4h.9m-.4 .3h.9m-.8 4.8h.9" stroke="#4b3cf0" stroke-width=".9" stroke-opacity="0.72" fill="none"/>
<path d="M258 433h.9m1.1-1.1h.9m-.8-.3h.9m.7 2.1h.9m-.1 .9h.9m-.6-1.2h.9m-.8 1.7h.9m-.8-3h.9m-.6 2.8h.9m0 .6h.9m-.5-3.6h.9m.4 1.8h.9m.2-.1h.9" stroke="#4b3cf0" stroke-width=".9" stroke-opacity="0.6" fill="none"/>
<path d="M258.2 446.8h.9m.4-2.1h.9m-.8 .6h.9m-.7 8.5h.9m2-9.5h.9m-.1 1.3h.9m-.9-.8h.9m-.7-2.5h.9m-.2 2.7h.9m-.7-.7h.9m-.6-.8h.9m-.7 2.9h.9m-.4-2.8h.9" stroke="#4b3cf0" stroke-width=".9" stroke-opacity="0.6" fill="none"/>
<path d="M257.8 455.7h.9m-.3 1.3h.9m1.6-.1h.9m-.2-.1h.9m0-3h.9m-.5 4.7h.9m.3-.1h.9m-.3 0h.9m-.6-3.8h.9m-.7 1.6h.9m-.5-.9h.9m-.4 3.2h.9m-.1-2.9h.9" stroke="#4b3cf0" stroke-width=".9" stroke-opacity="0.6" fill="none"/>
<line x1="47.5" y1="474.8" x2="214.5" y2="474.8" stroke="#5040f0" stroke-width="1.1" stroke-opacity="0.75"/>
<line x1="228.5" y1="474.8" x2="508.5" y2="474.8" stroke="#5040f0" stroke-width="1.1" stroke-opacity="0.75"/>
<path d="M47.8 475.6h.9m-.6-.8h.9m-.5 1.5h.9m-.7-.9h.9m.9-.1h.9m-.8-.8h.9m-.8-.3h.9m-.6 2h.9m-.3-.2h.9m-.8 .7h.9m-.5-1.1h.9m.5-.3h.9m.7-.5h.9m-.9 .8h.9m-.3 .5h.9m-.8-.8h.9m-.7-.6h.9m-.6 1.6h.9m.1-1.6h.9m-.7-.3h.9m-.1 1.3h.9m-.5-.6h.9m-.8 1.1h.9m-.3 .7h.9m-.3 2.7h.9m.3-4.8h.9m.4 1.3h.9m-.4 .1h.9m-.2-.7h.9m-.7 0h.9m-.6-.5h.9m-.9-.2h.9m.4-6.5h.9m-.5 7.9h.9m-.6-1.3h.9m.2 .1h.9m-.5-1.2h.9m-.8 1.5h.9m.9 1.8h.9m-.5-1.4h.9m-.8-.2h.9m-.5-1h.9m-.7 2.4h.9m-.1-1.9h.9m-.3 1.1h.9m-.5-.4h.9m-.5 0h.9m-.8 .9h.9m1-2.1h.9m-.4 1.3h.9m-.8 .6h.9m-.6-.6h.9m-.7-1.1h.9m-.5-.8h.9m-.6 1.5h.9m-.5 .2h.9m-.2-.1h.9m-.6-.2h.9m.1 .1h.9m-.5-3.1h.9m-.6 3.9h.9m-.2-.9h.9m-.7 .4h.9m1.5-1.1h.9m-.9 2.1h.9m-.3 .4h.9m.1-2.8h.9m-.9 1.2h.9m.1 .3h.9m-.3 .7h.9m-.8-1h.9m.5 .7h.9m-.8-1.4h.9m-.5 1.3h.9m-.7-2.9h.9m-.8-6.8h.9m-.6 8.6h.9m-.6 .9h.9m-.8 .1h.9m-.6-1.7h.9m.4 1.7h.9m-.2-1.3h.9m-.7 2.4h.9m-.3-2.5h.9m.1-.1h.9m-.8 2.5h.9m0-1.9h.9m-.3 .7h.9m-.6-1.2h.9m-.9 1h.9m-.7-.2h.9m-.9-.3h.9m-.3-1h.9m-.6 .3h.9m-.4 .7h.9m1.2 .9h.9m-.8 0h.9m-.9-.4h.9m-.9-.6h.9m-.4-.4h.9m.1 1.3h.9m-.9 1.2h.9m-.8-1.2h.9m.2-1.1h.9m-.4-.3h.9m-.3 .7h.9m-.7 .2h.9m-.7 1.5h.9m-.7-1.5h.9m-.8 .8h.9m-.4 .1h.9m-.5-1.6h.9m-.1 .1h.9m-.8 .3h.9m-.3 .7h.9m-.6 .8h.9m-.9-1.2h.9m-.8 .3h.9m-.8-.4h.9m-.6 1.5h.9m-.7 .2h.9m-.5-2.1h.9m.2 1h.9m-.7 1h.9m-.8-1h.9m-.1 1.2h.9m-.9-2.5h.9m-.8-4.8h.9m-.7 7h.9m-.7-1h.9m-.8 .9h.9m-.4-.1h.9m-.5 .2h.9m.3-.3h.9m-.6 2h.9m.6-1.5h.9m-.2-.5h.9m-.5-.1h.9m-.3-1.8h.9m-.6 1.9h.9m-.7-1.6h.9m-.1 .8h.9m-.8-2.3h.9m-.7 1.8h.9m.1 1.3h.9m-.5 .3h.9m-.5-1.9h.9m-.5 .8h.9m-.6 .2h.9m-.9-.5h.9m-.9 .8h.9m-.5 .3h.9m-.3-1h.9m-.6 .3h.9m-.9 .3h.9m-.8 .6h.9m-.4 .3h.9m-.8-1.7h.9m-.6 .3h.9m-.7 1.1h.9m-.8-1.7h.9m-.6 1.4h.9m-.6 .1h.9m-.4-.5h.9m-.3-.1h.9m-.7 1h.9m-.5-2h.9m-.2 1h.9m-.4-.6h.9m-.2 1.7h.9m-.6-1.8h.9m-.9 1.6h.9m-.9-1.4h.9m-.2 .3h.9m-.7-.1h.9m-.7-15.3h.9m.5 15.1h.9m-.2-1.3h.9m.1 .8h.9m-.8-.2h.9m-.3 .2h.9m-.7 .4h.9m0-.6h.9m-.7 .5h.9m-.2 .2h.9m.3-.6h.9m-.8 .9h.9m.8 .3h.9m-.8 .2h.9m-.5-1.2h.9m-.2 1.9h.9m-.8-.1h.9m-.5 .3h.9m.1-2.9h.9m-.8 1.3h.9m-.6-.1h.9m-.6 .1h.9m1.6-5.2h.9m-.5 4.2h.9m-.7 2.6h.9m-.6-1.9h.9m-.8-.4h.9m-.9-.9h.9m-.8 2.8h.9m-.8 .7h.9m-.3-2.4h.9m-.6 1.8h.9m-.5-2.1h.9m-.5 2.1h.9m-.8-2.2h.9m.3 1.8h.9m-.8-1.1h.9m.8-1.6h.9m.2 1.6h.9m-.3-.9h.9m-.3 .4h.9m.7-.4h.9m0 1.1h.9m-.1-4.4h.9m-.8 3.7h.9m-.8-.1h.9m-.6-.4h.9m-.5 1h.9m-.7 1.2h.9m-.6-1.2h.9m-.3 .5h.9m-.5-.2h.9m-.3-.3h.9m-.3-.3h.9m-.4 .9h.9m.2-.4h.9m-.6-1.3h.9m-.5 .6h.9m-.7 .7h.9m-.5-.1h.9m-.8 .2h.9m-.9-1h.9m-.3 1.7h.9m-.8-1.5h.9m-.7 2.1h.9m-.8-.1h.9m-.2 1.8h.9m-.3-4.4h.9m-.3 1.9h.9m.4-8.1h.9m-.9 8h.9m-.5 0h.9m-.6-2.2h.9m-.8 2.6h.9m-.7 .2h.9m0-.4h.9m-.7-1.9h.9m-.9 1.7h.9m-.7-.6h.9m-.3 .3h.9m.2 .7h.9m.2-.6h.9m-.5-1.7h.9m-.9 .4h.9m-.8 .7h.9m-.6-3.4h.9m-.5 5.4h.9m-.8-2.5h.9m-.4 2h.9m-.8-1.3h.9m-.2 0h.9m0-.7h.9m-.8 .1h.9m-.3 1.2h.9m-.7-.8h.9m-.1 1.7h.9m-.3-.1h.9m-.8-2.7h.9m-.7 .8h.9m-.6 1.3h.9m-.7-1.9h.9m-.7 1.7h.9m-.2-1.2h.9m-.4-.3h.9m1.1-5.6h.9m-.7 5.8h.9m-.5 2h.9m-.7-1.2h.9m-.8 1.7h.9m.3-2.4h.9m-.5 1.8h.9m-.8-1.1h.9m-.2 1.2h.9m.8-.2h.9m-.1-1.6h.9m.5 1h.9m-.8-.4h.9m-.7-.3h.9m-.1 .3h.9m-.4-.9h.9m.5-.2h.9m-.6 1h.9m-.6 .2h.9m-.8 .6h.9m-.9 .1h.9m0-1.6h.9m-.5 .7h.9m-.8-1h.9m-.9-.1h.9m-.9 2h.9m-.7-.2h.9m-.5 0h.9m-.4-1.8h.9m-.6 3.1h.9m-.8-1.4h.9m-.9 .6h.9m-.7-1.8h.9m-.5 1.2h.9m-.6 .1h.9m-.8 .7h.9m.1-.7h.9m-.8-.8h.9m.1-.3h.9m-.7-.2h.9m-.9 .9h.9m-.8-1.3h.9m.1 2h.9m-.6-1.7h.9m1.2 1.4h.9m-.9 1.4h.9m-.7-1.6h.9m-.8 1.2h.9m0-2.2h.9m-.2 .9h.9m-.5-.7h.9m-.5 1.5h.9m-.7-.3h.9m.5 .2h.9m-.6-1.9h.9m.6 1.4h.9m0 1.3h.9m-.4-2.1h.9m-.6 1.3h.9m-.5-.4h.9m0-2.1h.9m-.9 2.7h.9m-.3-1.4h.9m0 1.8h.9m-.4-.1h.9m-.8-2.4h.9m-.7 .9h.9m-.4 1.8h.9m-.5-2.7h.9m-.2 1.9h.9m-.5-1.5h.9M228.5 475h.9m-.1 .2h.9m-.8-1h.9m.1 1.5h.9m-.2-.7h.9m-.9 .5h.9m-.8 1.3h.9m-.9-.9h.9m-.9-1.3h.9m-.8 .3h.9m-.8-.2h.9m-.8 .9h.9m-.4 0h.9m-.8-.7h.9m-.6 2.4h.9m-.9-2h.9m.2 .9h.9m-.5-.7h.9m-.9 1h.9m0-1h.9m.2 .5h.9m-.4 .1h.9m-.4-.8h.9m-.6-.2h.9m-.9-.6h.9m-.9 1.1h.9m-.6 1.1h.9m1.2-.9h.9m-.6 .9h.9m.3 .9h.9m-.8-1.7h.9m0-.7h.9m-.9 .1h.9m-.7 .2h.9m.4 1.6h.9m.9-1.3h.9m-.5 .2h.9m-.7 .1h.9m-.7-1h.9m.3 1.1h.9m-.6 .8h.9m-.7-.5h.9m-.1-2.2h.9m-.5 .5h.9m0-.1h.9m-.8-6.9h.9m.2 6.5h.9m-.8 0h.9m-.5 2.2h.9m-.3-.5h.9m-.6-.6h.9m-.9 .9h.9m-.8-1.3h.9m-.5 1.1h.9m-.7-1.2h.9m-.7-.5h.9m-.9-.3h.9m-.9 1.6h.9m-.7 1.4h.9m-.8-.8h.9m0-1.9h.9m-.5 2.4h.9m-.6-2.8h.9m-.4 2.3h.9m-.5 .4h.9m-.6-2.9h.9m-.8 2.8h.9m-.8-2.2h.9m-.5-.1h.9m0 2.2h.9m-.9-.5h.9m-.2-1.2h.9m-.5-.8h.9m-.5 2.2h.9m-.3-1.3h.9m-.8-.3h.9m-.5 .6h.9m-.8 .6h.9m.3-2.6h.9m0 1.4h.9m-.2-.5h.9m-.1 2.8h.9m-.2-1.6h.9m-.4 .3h.9m-.8-.8h.9m.2 3h.9m-.6-3.8h.9m-.3 1.7h.9m-.2 5.1h.9m-.7-5.2h.9m-.5 .1h.9m-.7 1.2h.9m-.9-.5h.9m-.5 7.6h.9m-.4-7.5h.9m-.4-1.5h.9m1.2 .4h.9m-.2 .2h.9m.1-.3h.9m.1 1.1h.9m-.5-.1h.9m0-1.2h.9m-.4 1.2h.9m-.3-.9h.9m-.7 .3h.9m-.9-1.1h.9m-.7 1.4h.9m-.6 0h.9m-.2-.7h.9m-.7 2.7h.9m-.4-2.6h.9m-.9-1h.9m-.7 0h.9m.4 .3h.9m.3 2h.9m-.9 2.5h.9m-.1-3.4h.9m-.5 .8h.9m-.7-2.1h.9m-.6 1.9h.9m-.6 .4h.9m-.7-1.3h.9m-.8 1.5h.9m-.3-2.3h.9m-.3 1.6h.9m-.8-6.3h.9m0 13.2h.9m.2-8.9h.9m.1 2h.9m1.8 .3h.9m-.9-.9h.9m-.5-.3h.9m1 .8h.9m-.9-.3h.9m-.4 .6h.9m-.9 1h.9m-.9-2h.9m-.6 1.3h.9m0-1.1h.9m.4 1h.9m-.8 .8h.9m-.3-3.3h.9m-.6 0h.9m-.8 1.5h.9m-.9-.3h.9m-.7-.1h.9m.4 1h.9m-.8 .6h.9m-.6-12.1h.9m-.8 10.1h.9m-.4-.8h.9m-.5 1.9h.9m-.7-.1h.9m-.1-.4h.9m-.5-1h.9m.4 2.8h.9m-.8-1.4h.9m-.9-.6h.9m1 2.2h.9m-.1-2h.9m-.3 1.3h.9m.3-.8h.9m-.9-1.1h.9m-.7-1.1h.9m-.8 2.9h.9m-.4-.2h.9m-.7-1.4h.9m-.6 .9h.9m-.3-1.6h.9m0 8.6h.9m-.2-7.2h.9m.2 0h.9m-.5-3.3h.9m-.8 3h.9m-.6-1.1h.9m-.4 1.6h.9m-.9-2.4h.9m-.5 1.6h.9m.3 1h.9m-.8-1.3h.9m-.7 1.9h.9m-.3-2.6h.9m-.9 1.5h.9m-.4-1.2h.9m-.8 1.6h.9m-.7 1.6h.9m-.6-1.2h.9m-.1 3.8h.9m-.8-5.2h.9m-.6 3h.9m-.9-3.1h.9m-.6 1h.9m-.5 1h.9m-.7-1.2h.9m-.2-.5h.9m-.8-.5h.9m-.2-.9h.9m-.8 1.5h.9m-.1-.9h.9m.5 0h.9m-.8 2.2h.9m-.2-.5h.9m-.6 .5h.9m-.1-2.1h.9m-.4-.7h.9m-.8 2h.9m-.4-1.3h.9m-.5 .3h.9m-.5 .4h.9m-.8-.2h.9m1.5 .5h.9m-.7 .9h.9m-.9-2h.9m-.1 0h.9m-.7 .8h.9m-.8-2.1h.9m.4 2h.9m-.6 .2h.9m-.4-1.8h.9m-.9 1.2h.9m0 1.1h.9m-.1 0h.9m.2 .2h.9m-.5-.4h.9m.9-.5h.9m-.9 0h.9m-.8 .8h.9m-.8-1.3h.9m-.5 1.9h.9m-.2-1.9h.9m.1 .3h.9m-.8 1.7h.9m-.6-.8h.9m-.8-.5h.9m-.9 .8h.9m-.7 .2h.9m-.9-.3h.9m-.3 1.2h.9m.1-1.4h.9m-.4 .2h.9m-.5-.8h.9m-.5 1h.9m-.8-1.9h.9m.2 1.6h.9m-.7-.6h.9m-.9 .6h.9m-.8-.4h.9m-.2-.6h.9m-.6 1.2h.9m.1-.3h.9m-.6 1h.9m-.8 0h.9m-.6-.9h.9m.5-.1h.9m-.3-.5h.9m-.8-.7h.9m.8-.8h.9m-.9 1.1h.9m-.7-.3h.9m-.7 .8h.9m-.7-.7h.9m-.7 1.1h.9m.3 1h.9m-.8-.5h.9m-.3 .9h.9m-.4-.3h.9m-.2-1.1h.9m-.6-.4h.9m-.9-1.4h.9m.1 0h.9m-.5 1.8h.9m0-1.4h.9m-.6 1.2h.9m-.7-1.7h.9m-.8 1.7h.9m-.8 .6h.9m-.5-1.4h.9m-.8-3.4h.9m.3 3.6h.9m.5 .3h.9m-.9-6.7h.9m-.7 7.1h.9m.1 .3h.9m-.8 .2h.9m-.7-.2h.9m-.4-1.7h.9m-.7 1.9h.9m.3-1.4h.9m-.9 .3h.9m-.1 .2h.9m-.6 .7h.9m-.5 0h.9m1.7-.5h.9m-.8-1.8h.9m-.3 1.6h.9m-.8 1h.9m-.9 .8h.9m-.9-.7h.9m-.4-.3h.9m-.6-.9h.9m-.7 0h.9m-.5-1.2h.9m1.4-5.8h.9m.2 15.3h.9m-.8-8.5h.9m-.8-.2h.9m-.7 .3h.9m-.7-1.2h.9m.4 1.7h.9m-.8-.7h.9m-.2 1h.9m-.1-.4h.9m-.9-4.9h.9m-.9 4.8h.9m-.4-.8h.9m1.3 1.3h.9m-.8-1.3h.9m-.1 1.2h.9m-.6 1.7h.9m-.5-2.4h.9m-.6-2.1h.9m-.6 2.9h.9m-.7-.1h.9m-.9-1.3h.9m-.8 .7h.9m-.8-.2h.9m-.7 1.1h.9m.5-.7h.9m-.6-.7h.9m-.8 1.3h.9m-.7-.5h.9m-.7-.9h.9m-.5 .5h.9m-.1 .9h.9m.4 .3h.9m-.9-1.8h.9m-.9-.3h.9m-.2 1h.9m-.1 1.7h.9m-.8-1.8h.9m-.6-.4h.9m-.6 2.5h.9m-.5-1.3h.9m-.5-.7h.9m-.8 0h.9m-.6-.6h.9m-.6 1h.9m-.1 .5h.9m-.6-1.3h.9m-.2 1.3h.9m-.9-2h.9m.4 3.5h.9m-.3-2.4h.9m-.8 .8h.9m-.4-1.3h.9m-.8 2.4h.9m-.9-1h.9m-.7-1.6h.9m-.8 .5h.9m-.7 1.5h.9m-.7 1h.9m-.2-3.2h.9m-.2 1.6h.9m-.9-.1h.9m-.5-.9h.9m-.7-.9h.9m.4 .7h.9m-.8 .3h.9m-.4 .7h.9m-.7-.4h.9m.3 1h.9m-.8-.2h.9m-.5 1.2h.9m.3-1.7h.9m-.5 .7h.9m-.9-1.2h.9m.5-.5h.9m-.4 1.8h.9m.2-2h.9m.2 1.2h.9m-.7-.6h.9m-.8 .5h.9m-.8-1.1h.9m-.4 .6h.9m-.8 .8h.9m.4 .8h.9m-.6-.8h.9m-.6-1.2h.9m-.9 .9h.9m-.7 .1h.9m-.6 .6h.9m.1 .4h.9m0-2.5h.9m-.1 2.2h.9m-.2 .3h.9m-.8-1.8h.9m-.3 2.4h.9m-.5-2.2h.9m-.8 .5h.9m.7 1h.9m-.6-.7h.9m-.9-.4h.9m.3 0h.9m.2-.3h.9m-.8 1h.9m-.5-1.4h.9m-.1 2.6h.9m-.3-1h.9m.9 .6h.9m-.5 .2h.9m0-1.5h.9m-.1 .8h.9m-.7-1h.9m-.4-.9h.9m.7-.1h.9m-.2 1.1h.9m.2 .3h.9m-.8-.9h.9m0-.7h.9m.2 1.9h.9m-.8 .4h.9m-.8-2.2h.9m-.9 2.6h.9m-.7-2.2h.9m-.5 1.3h.9m-.7 .5h.9m-.7-1.3h.9m-.8-.6h.9m-.2 1h.9m-.8 1h.9m-.6-.9h.9m-.8 .4h.9m-.4-.6h.9m-.3 1.4h.9m-.1-1.8h.9m-.3 .1h.9m.2-.3h.9m-.7-1.9h.9m-.6 3.7h.9m-.6-.6h.9m-.8-.7h.9m.1-.5h.9m-.5 1.9h.9m-.2-1.2h.9m-.9 .2h.9m.3-1.1h.9m-.8 1.4h.9m-.7 1.5h.9m-.6-1.2h.9m-.4-.8h.9m-.1 1.3h.9m.4-2.2h.9m-.9-.3h.9m-.8-.4h.9m-.7 .7h.9m-.7-1h.9m-.8 3.4h.9m0-.6h.9m-.5-2h.9m-.4 1.4h.9m-.7 .1h.9m-.9 .1h.9m-.1-.5h.9m-.7-.5h.9m-.8 .7h.9m-.3-.3h.9m-.8-.2h.9m.3 .9h.9m-.9-2.9h.9m-.6 1.9h.9m-.6 .9h.9m-.5-1.5h.9m-.3 .6h.9m-.6 .1h.9m-.3 .8h.9m-.7-.5h.9m-.5-.7h.9m-.9-.2h.9m-.8 1h.9m-.7 1.3h.9m.2-.6h.9m-.6-1.3h.9m.5-.8h.9m0 .7h.9m.5 0h.9m-.9-.6h.9m-.5 1.2h.9m-.6 .1h.9m-.5-.4h.9m-.7 1.1h.9m-.8-.8h.9m-.8-.2h.9m1.4-1.3h.9m.1 1.9h.9m-.6-2.4h.9m-.8 2.3h.9m-.8-8.4h.9m0 7.5h.9m-.7 .2h.9m1.4-1.1h.9m-.8 .8h.9m-.5 1.2h.9m.2-1.7h.9m-.1 .3h.9m-.8 0h.9m.5 .7h.9m-.1-.4h.9m-.4 2.2h.9m-.8-2.2h.9m-.6 .6h.9m-.7 .2h.9m-.6 0h.9m-.7 .6h.9m-.6 3.8h.9m-.8-3.2h.9m-.6-1.4h.9m-.7-1.2h.9m-.6 2.8h.9m-.9-1.4h.9m-.9-.8h.9m-.9 .2h.9m-.5 .6h.9m-.7-1.3h.9m-.8 1.2h.9m-.1-1h.9m.1 .3h.9m-.1 1.4h.9m-.6-.1h.9m.2-2.3h.9m-.1 1.4h.9m.6 1.3h.9m-.4-2.4h.9m1.2 .6h.9m-.7-.5h.9m-.9 .2h.9m-.9-1.2h.9m0 1.6h.9m-.8 0h.9m-.3-.6h.9m-.5 .7h.9m.1-.8h.9m-.5 1.2h.9m-.5-1.2h.9m-.6 1.3h.9m.4 .6h.9m-.5-1h.9m-.8 0h.9m-.6 .6h.9m-.4 .4h.9m-.6-2.4h.9m-.5 .6h.9m-.8 1.7h.9m-.9-5.4h.9m-.8 3.9h.9m-.8 1.9h.9m-.9 .2h.9m-.5-.8h.9m-.8 .1h.9m-.9-.6h.9m-.8-.6h.9m-.2 1.4h.9m-.8-.5h.9m-.5 1.6h.9m-.6-.9h.9m-.7-.4h.9m-.8-.3h.9m-.7-1.1h.9m-.5 .6h.9m-.9 1.1h.9m-.6-.3h.9m-.9-.4h.9m1.2-1h.9m.6 .5h.9m-.2 .4h.9m-.8-.1h.9m-.3-1.8h.9m-.6 2.1h.9m-.9-.7h.9m-.2 .8h.9m-.9-.3h.9m-.8 0h.9m-.7-.9h.9m-.9 .6h.9m-.5 .5h.9m-.2 .8h.9m-.5-.7h.9m-.7 .4h.9m0-1.4h.9" stroke="#4b3cf0" stroke-width=".9" stroke-opacity="0.7" fill="none"/>
<path d="M47.7 493.8h.9m-.3 2.9h.9m0 .9h.9m-.9-.3h.9m-.8-2.3h.9m.1 .4h.9m.8-2.1h.9m1.2 .8h.9m-.7 .7h.9m-.7 3h.9m-.2-1.1h.9m-.7-.4h.9m-.8 .8h.9m-.6 .6h.9m-.8-1h.9m-.9 .7h.9m-.8-1.5h.9m-.1-.4h.9m-.2 1.7h.9m-.3-2h.9m-.8-1.2h.9m-.6 1.4h.9m-.8-2h.9m-.7 2.9h.9m-.9-3.3h.9m-.8 2.1h.9m-.8 .1h.9m-.8-.8h.9m-.6 1h.9m-.8 .2h.9m.2 1.8h.9m-.9-3.2h.9m-.3-1h.9m-.9 1.1h.9m-.7 1.3h.9m-.8-3.6h.9m-.8 3.7h.9m-.6-.4h.9m-.6 .4h.9m-.5 2.1h.9m-.7-1.9h.9m-.8 .5h.9m-.7 1.4h.9m-.8-.3h.9m-.5-1.2h.9m-.7-.6h.9m-.8 1h.9m-.2-.8h.9m-.9-2.3h.9m-.8-2.9h.9m-.8 2.9h.9m.3 1.4h.9m-.8 .8h.9m-.9 .5h.9m.3 1.5h.9m-.7-.8h.9m-.8-1.5h.9m.1-2.4h.9m-.4 1.9h.9m-.1-.3h.9m-.9 3.3h.9m2-2h.9m-.7-.9h.9m-.5-.7h.9m-.8 3.1h.9m.3-3.8h.9m.3 3.1h.9m-.6-1.1h.9m-.7-1.4h.9m-.6 2.2h.9m-.7 1.2h.9m-.5-2h.9m-.6-1.5h.9m-.1 3h.9m-.9-1.9h.9m-.7-.3h.9m-.4 4.9h.9m-.9-4.7h.9m-.8-2h.9m-.3 3.7h.9m-.7-.9h.9m-.7 1.3h.9m-.4-2.8h.9m-.8 3.3h.9m-.7-3h.9m-.6 .4h.9m-.8-1.2h.9m-.8 3.6h.9m-.8-1.2h.9m-.6-.9h.9m-.8 3.6h.9m-.6-3.2h.9m-.1 1.7h.9m-.5 .1h.9m-.7-.1h.9m-.3 .4h.9m-.6-.5h.9m-.5-1.2h.9m-.6-1.9h.9m-.7 .9h.9m-.6 .6h.9m-.6 1.1h.9m.2-1.6h.9m-.8 1h.9m-.8 .1h.9m-.7 0h.9m-.4-1.8h.9m-.9-1.2h.9m-.5 2.8h.9m.5 .1h.9m-.2 .4h.9m-.7 2.3h.9m-.6-2.9h.9m-.8-.9h.9m.4 .4h.9m-.8-2.8h.9m-.8 3.4h.9m0 .9h.9m-.6-2.6h.9m-.1 .8h.9m-.7 7h.9m-.9-6.6h.9m-.7-1.4h.9m.4 2.1h.9m-.8-1.6h.9m-.8 .5h.9m.8 .1h.9m-.8 .3h.9m-.6-1.6h.9m-.6 2h.9m-.2-1.5h.9m-.7-1.7h.9m-.9 3.7h.9m-.7 .9h.9m-.4-3.5h.9m-.5-.1h.9m-.7 1.7h.9m-.6-.4h.9m-.7 1.1h.9m-.9-2.5h.9m-.4 1.6h.9m-.8-2h.9m-.8 1.9h.9m-.8-.3h.9m-.2 .5h.9m-.7 2.6h.9m-.8-2.9h.9m-.9 .7h.9m-.5-2.9h.9m-.9 2.2h.9m-.6 .6h.9m-.6 .3h.9m-.3 2.3h.9m-.2-1.7h.9m.6-3.4h.9m.2 .9h.9m-.4 3h.9m-.7-1.8h.9m-.8 1.5h.9m-.8-2.8h.9m.1 1.7h.9m-.3-.4h.9m.1-1.5h.9m-.4-3.7h.9m-.7 4.5h.9m-.8 1.7h.9m-.5-1.2h.9m-.7 .3h.9m-.1 .9h.9m-.8-1.1h.9m-.6-3.4h.9m-.6 4.3h.9m.3-5h.9m-.8 3.3h.9m-.8 1.7h.9m.9-1.5h.9m-.8 .6h.9m-.7-1.2h.9m-.7 .6h.9m-.6-.5h.9m-.7 1h.9m.3 .5h.9m-.7 .3h.9m-.8 2.5h.9m-.1-2.8h.9m-.8 6.3h.9m-.8-7.8h.9m-.6 2.5h.9m-.8-.6h.9m-.6-3h.9m.7 2.2h.9m-.7-1.9h.9m-.7 2h.9m-.7-.8h.9m-.9 2.2h.9m-.8 .2h.9m-.8-3.5h.9m-.5 1.3h.9m-.8-1.4h.9m-.3 1.9h.9m.9 .6h.9m-.8-.4h.9m-.7 .5h.9m-.9 .6h.9m-.7-1.9h.9m-.8 3.5h.9m-.8 .2h.9m-.5-3.7h.9m-.8 2.8h.9m-.7-.3h.9m-.7-1.7h.9m-.3 .2h.9m-.5 1.1h.9m-.6-1.8h.9m-.7 1.3h.9m-.7-1.6h.9m-.3 1.7h.9m-.6 .2h.9m-.7-1.6h.9m-.6 .7h.9m-.9-.2h.9m-.1 0h.9m-.6 .4h.9m-.9 1h.9m-.7 9.8h.9m-.9-8.5h.9m-.4-3.5h.9m-.8 1.2h.9m-.7 1.3h.9m-.2-4.4h.9m-.3 2.6h.9m-.7-1.7h.9m.2 3.5h.9m.5-2.9h.9m-.7 3.5h.9m-.4-.3h.9m-.8-3.6h.9m-.6 2.1h.9m-.7-.6h.9m-.5-.1h.9m-.6 1.9h.9m-.6-3.4h.9m-.8 3.2h.9m-.5-2.7h.9m-.8 7.6h.9m-.1-2.6h.9m-.3-3.6h.9m-.5-1.5h.9m-.4 1.1h.9m-.7 .4h.9m-.8-.9h.9m.6 2.3h.9m.2-.6h.9m-.4-.6h.9m0-.3h.9m-.9-.7h.9m-.4 2.2h.9m-.9-.5h.9m-.6-3h.9m-.5 1.5h.9m-.9 .9h.9m-.2-.6h.9m-.8 3.2h.9M153.4 495.9h.9m-.8 1.2h.9m-.9 .8h.9m-.4-5.4h.9m-.7 12.9h.9m-.4-10.6h.9m.6 .9h.9m-.8-1.6h.9m-.6 3h.9m-.9-1h.9m-.6 2h.9m-.5-2.3h.9m-.8-.4h.9m-.8 1.6h.9m-.6-2.1h.9m.5 .5h.9m-.8-.4h.9m-.9 1.7h.9m-.7 0h.9m.2-1.1h.9m.1 .7h.9m-.3 1.3h.9m-.7-5.2h.9m-.6 2.5h.9m-.7 .5h.9m-.7-1.4h.9m.2 1.3h.9m.2 .2h.9m-.9 1.7h.9m-.2-1.1h.9m.8-2.3h.9m-.7 1.1h.9m-.6 0h.9m-.7 2.3h.9m-.7-6.7h.9m-.6 2.1h.9m-.8 8.5h.9m-.8-4.2h.9m-.3 .5h.9m-.3-2.5h.9m-.7 3.2h.9m-.3-1.5h.9m-.8 .3h.9m0-.8h.9m-.8-.6h.9m-.6 1.7h.9m-.7-3.7h.9m-.5 1.8h.9m-.6-1.2h.9m-.8 1.1h.9m-.6-.3h.9m.3 1.7h.9m-.5-1.3h.9m-.4-.4h.9m-.1 .3h.9m-.8 .5h.9m-.5 1.8h.9m-.5-1.7h.9m-.7 .8h.9m-.6 .4h.9m-.9 .3h.9m-.5-1.1h.9m-.6-3.2h.9m-.7 .6h.9m-.6 3.4h.9m-.8-1.3h.9m-.3-2.2h.9m-.9 1.6h.9m-.6-1.2h.9m-.1 2h.9m-.7 1.8h.9m-.9-3.9h.9m-.8 3.2h.9m-.6-.8h.9m-.7-1.4h.9m-.8 .5h.9m-.4 1.8h.9m-.8-1.8h.9m0 0h.9m1.2 .3h.9m-.9 .4h.9m-.7 1.2h.9m.6 .1h.9m-.9-2.2h.9m.1 1.3h.9m-.5 .9h.9m-.7-1.9h.9m-.8 .6h.9m-.7 0h.9m-.5-3.2h.9m-.9 3.7h.9m-.8-1.7h.9m-.9 1.9h.9m-.7-2.6h.9m-.8 3.2h.9m1-.2h.9m-.7-2.6h.9m-.8 2.5h.9m-.8-.8h.9m-.9-2.4h.9m-.7 .2h.9m-.4 1.4h.9m-.2-1.1h.9m-.8-.6h.9m0 3.5h.9m-.4 .6h.9m-.9-1.2h.9m-.7-.1h.9m-.8-2.9h.9m-.7 2.9h.9m-.7 .3h.9m-.9 1.9h.9m-.8-3.4h.9m-.8-.2h.9m-.4 2.6h.9m-.5-5.6h.9m-.8 4.4h.9m-.8-1.5h.9m-.8 .8h.9m-.6 2h.9m-.8-2.7h.9m-.6 .1h.9m-.5-1.5h.9m-.6 3.2h.9m.6 .9h.9m-.7-3h.9m-.5 1.3h.9m-.3-.5h.9m-.1-.1h.9m-.3 1.5h.9m-.4-.4h.9m-.8-.8h.9m-.9 6.8h.9m-.1-7.7h.9m-.7 .9h.9m-.5-.6h.9m.2 0h.9m-.5-.8h.9m-.8 2.7h.9m-.5-1.6h.9m-.7-.8h.9m-.1 3.9h.9m.3-3.4h.9m-.7 .4h.9m-.6 .5h.9m-.7 1.1h.9m.3-2.2h.9m-.3 .2h.9m-.8-.6h.9m-.8 7.2h.9m-.9-20.7h.9m-.8 13.9h.9m-.6 3.1h.9m-.4-1.9h.9m-.8-.9h.9m-.8-2.7h.9m-.2 2.2h.9m-.6 1.7h.9m-.8-3h.9m-.6 1.9h.9M228.8 495.6h.9m-.8 0h.9m-.8 2h.9m-.8-3.4h.9m-.8 1.5h.9m-.2-1.7h.9m.5 3.1h.9m-.8-2.5h.9m-.7 2.7h.9m-.7-1.5h.9m1.1 1.1h.9m.5-.6h.9m-.8-.1h.9m-.7 .4h.9m-.5 .1h.9m-.5 .8h.9m-.4-1.6h.9m-.8-.7h.9m-.4 1.2h.9m-.8-.4h.9m-.6-.2h.9m-.4-.9h.9m-.7-2.9h.9m-.9 3.1h.9m.2 1.6h.9m-.7-1.4h.9m-.8 9.4h.9m-.8-9.2h.9m.3 1.8h.9m-.9-2.1h.9m-.8 1h.9m-.9 .8h.9m-.8-1.8h.9m-.6-1.5h.9m-.7 2.7h.9m-.9-.8h.9m-.4-.2h.9m-.8 1.1h.9m-.8-.2h.9m-.3 1h.9m-.4 .2h.9m-.9-2.8h.9m-.8 1.6h.9m-.8-.6h.9m-.6-.5h.9m-.6 9.8h.9m-.8-9.4h.9m-.7 .4h.9m-.8 1.2h.9m-.8 .2h.9m-.8-1.1h.9m.4 .8h.9m-.7-.8h.9m-.9 .8h.9m-.1-1.9h.9m-.6 1.4h.9m-.8-1.6h.9m.6 .2h.9m-.7 1.1h.9m0 .6h.9m-.8-1h.9m-.7-.5h.9m.6 .6h.9m-.9 .3h.9m-.8 2.4h.9m.5-2.5h.9m-.5-.4h.9m-.7-.4h.9m-.6 2.3h.9m-.6-4.4h.9m-.2 1.8h.9m-.8-2.5h.9m-.3 4.2h.9m.2-.8h.9m-.7-.6h.9m-.7-.4h.9m-.8 1.1h.9m-.8-1.2h.9m0-.7h.9m.4 3h.9m-.7 .1h.9m-.9 0h.9m-.8-.8h.9m-.2-.9h.9m-.5 1h.9m-.7 .4h.9m-.8-.7h.9m-.2 1.5h.9m-.8-.3h.9m-.4-.6h.9m-.8-2.3h.9m-.8 2.2h.9m-.9-1.2h.9m-.7 3h.9m-.8-3.9h.9m-.5 1.9h.9m-.6-1.6h.9m-.7-.3h.9m.8 2.1h.9m.7 .5h.9m-.8-1.5h.9m.1-1h.9m-.6 2.6h.9m-.9-.9h.9m0-2.3h.9m.8 8.7h.9m-.2-9.8h.9m-.2 2.5h.9m-.6-.7h.9m-.2 10.2h.9m-.3-9.7h.9m-.6 1.7h.9m-.5-1.7h.9m-.8-.6h.9m-.8 2.4h.9m-.7-2.1h.9m-.8 1.7h.9m-.7 1.6h.9m-.1-2.1h.9m-.5 .1h.9m-.5-.6h.9m-.9 .1h.9m-.7-.7h.9m.1-1.7h.9m.4 2.6h.9m-.9 .4h.9m-.8-.4h.9m-.7 .8h.9m-.8-.6h.9m-.8 .3h.9m-.9-2h.9m-.6 .9h.9m-.8 .8h.9m-.9-2.3h.9m-.9 2.6h.9m-.8 .7h.9m-.9-.9h.9m-.6-.6h.9m1.4-1.8h.9m-.7 2.4h.9m-.6 2.5h.9m-.6-3.4h.9m-.9 .7h.9m-.9-1.1h.9m-.5 .7h.9m-.9-.1h.9m-.8-.5h.9m-.7 1h.9m-.6-1.4h.9m-.6 1.6h.9m-.6 .3h.9m-.6-.2h.9m.3 .9h.9m-.7-3.1h.9m-.8 1.2h.9m-.8-.4h.9m-.3-.7h.9m-.8 1.6h.9m-.8 .5h.9m-.5-3.4h.9m-.6 1.3h.9m-.6 2.2h.9m-.7-.1h.9m-.1 .6h.9m.6-.6h.9m-.8-1.2h.9m.1 0h.9m-.9-.1h.9m0-.1h.9m-.4-.6h.9m-.8 .8h.9m-.6 .9h.9m-.7 .7h.9m-.3-4.1h.9m-.7 5h.9m-.3-2.7h.9m.6 3.8h.9m-.8-2.3h.9m-.8-3.6h.9m-.5 10.8h.9m-.6-8.1h.9M311.1 495.1h.9m-.5 .3h.9m-.4-3h.9m-.8 2.3h.9m-.8-.3h.9m-.5 1.6h.9m-.6-1.8h.9m-.8 1h.9m-.5-.7h.9m-.8 .3h.9m-.7-.9h.9m-.4 .6h.9m-.9 2.5h.9m-.9-2.3h.9m-.1-12.5h.9m-.6 12.8h.9m-.8 .1h.9m.3-1.2h.9m-.7 .8h.9m-.7-.2h.9m-.5 2.5h.9m-.3-1h.9m-.3 .1h.9m-.6 .1h.9m-.6 .4h.9m-.7 1.8h.9m-.8-3.2h.9m.1 2.1h.9m-.8-2.1h.9m-.6 .3h.9m.6-.5h.9m-.8-13.5h.9m-.4 12.8h.9m-.5 1.9h.9m-.9-1.4h.9m-.6-.8h.9m-.8 2.2h.9m0 .3h.9m-.7-1.6h.9m-.7 .6h.9m-.5-2.2h.9m-.8 2.8h.9m-.8-1.2h.9m-.9 1.9h.9m-.8 .9h.9m.4-3.6h.9m-.6 2.2h.9m-.8-1.1h.9m-.8 .5h.9m-.6 2.4h.9m-.9-3h.9m-.8 .4h.9m-.9 .6h.9m-.4-.2h.9m-.4 1.8h.9m-.6-3.6h.9m-.6 2.8h.9m-.8-.3h.9m-.9-1.7h.9m-.5 2.8h.9m-.2-2.6h.9m-.5-.3h.9m-.7-.3h.9m-.8 .9h.9m-.6-1.6h.9m-.9 1.3h.9m-.2 .6h.9m-.7-.6h.9m-.8-1.3h.9m-.5 2.7h.9m-.5 .5h.9m-.1-1.8h.9m0-1.7h.9m-.8 1.2h.9m-.5 2.8h.9m-.9-1.6h.9m0 2.4h.9m1.7-3.8h.9m-.5 1.5h.9m-.3 .2h.9m.2-.7h.9m-.5 .2h.9m2.1 .5h.9m-.7-1.3h.9m-.8-.2h.9m-.5-1.8h.9m-.7 2.6h.9m.4 2h.9m-.3-3.5h.9m-.4 1.1h.9m-.2 1.1h.9m-.8-.7h.9m-.8-1.1h.9m-.8 1.2h.9m-.6 .7h.9m-.7-1.6h.9m-.8 1.2h.9m-.7 2h.9m-.2-2.8h.9m-.7 .6h.9m-.8-1.5h.9m-.7-2h.9m-.9 4.1h.9m-.3 .4h.9m-.7-3.5h.9m-.8 2.6h.9m-.9-.2h.9m-.8 .9h.9m-.5 .2h.9m-.7-2.9h.9m-.6 4.4h.9m-.5-3.2h.9m-.6 .4h.9m-.8-1h.9m-.9 .8h.9m-.3 5.2h.9m-.9-5.6h.9m.3 2.1h.9m-.7-3.8h.9m-.5 4.7h.9m-.9-2.7h.9m-.6 1.3h.9m-.8 0h.9m-.9-.2h.9m.1-1.9h.9m-.2 10.1h.9m-.8-9.2h.9m-.8 1.2h.9m-.7-1h.9m-.3-1.5h.9m-.8-1.2h.9m-.8 .8h.9m-.4 2.3h.9M372 494.5h.9m-.2 3.2h.9m-.9-5.8h.9m-.4 5.9h.9m-.5-3.7h.9m-.4 .3h.9m-.5 1.4h.9m-.9-1h.9m-.8 2h.9m-.7-1.4h.9m-.5 2.3h.9m-.8-3.3h.9m-.6 2h.9m-.9-.9h.9m-.8-.3h.9m-.4-.3h.9m-.8 1.9h.9m-.4-.8h.9m-.4 1.2h.9m-.8-4.1h.9m-.4 3h.9m-.6-.9h.9m-.6 2.7h.9m-.3-3.4h.9m-.8 .8h.9m-.7 1.7h.9m-.7-3.3h.9m-.8 3h.9m-.9-1.3h.9m-.3 .1h.9m-.6-1.5h.9m-.4-.2h.9m-.3 .1h.9m-.6 2.4h.9m-.9 8.6h.9m-.8-7h.9m-.8-.7h.9m-.8-3h.9m-.6 3.3h.9m-.8-3.3h.9m-.8 .1h.9m-.8 2.1h.9m-.6 .2h.9m-.8-2h.9m-.1-.2h.9m-.8 2.4h.9m-.7-4.5h.9m-.5 5.1h.9m-.9 1h.9m-.7-4.1h.9m-.7 2.6h.9m-.9 .6h.9m-.5 7h.9m-.8-8.9h.9m-.5-.5h.9m.7 1.4h.9m.2-1.1h.9m-.3-2.5h.9m-.6 3.3h.9m.9 2.5h.9m.7-3.4h.9m-.9-.3h.9m-.7 1.6h.9m-.9-1h.9m.9 1.4h.9m-.1-1h.9m-.2-.3h.9m-.5 1h.9m-.9 .4h.9m-.7-2h.9m-.8 .2h.9m-.7 .5h.9m-.7-2.6h.9m-.3-2.9h.9m-.4 2.3h.9m-.7 2.9h.9m-.2-1h.9m-.5-.6h.9m-.2 1.7h.9m-.8 .8h.9m-.8-.5h.9m-.6-.1h.9m-.8-1.5h.9m-.6 .9h.9m-.9 .7h.9m-.9-.2h.9m-.8-1.8h.9m-.9 4.2h.9m-.2-3h.9m-.7-.5h.9m-.7 2.9h.9m.3-4.3h.9m-.9 3.3h.9m-.7 0h.9m-.8-.3h.9m-.4-.8h.9m-.5-.6h.9m-.8 1.3h.9m-.8-.5h.9m-.9 .8h.9m.9-2h.9m0 1.2h.9m-.1 2.6h.9m-.7-9.2h.9m-.7 .7h.9m-.8 8.2h.9m-.9-1.7h.9m-.8-9.6h.9m-.7 7.3h.9m-.8 .9h.9m-.7 2.2h.9m.2-.9h.9m-.7 .7h.9m-.7 .1h.9m-.9-1.3h.9m-.6 .8h.9m-.8 .1h.9m-.9-1.1h.9m-.8 0h.9m-.5 .1h.9m-.8-.3h.9m-.4 1.2h.9m-.8-.5h.9m-.3-1h.9m-.6 .9h.9m.4-10.5h.9m-.1 10.3h.9m-.7 2.6h.9m-.8-2.1h.9m-.8-1.2h.9m-.5 2.8h.9m-.5 .2h.9m-.9-2.9h.9m-.7 3.2h.9m-.7-2.6h.9m-.6-2h.9m-.8 3h.9m-.9 1.3h.9m-.7-1.6h.9m-.6-1.4h.9m-.8 .9h.9m-.5 1.7h.9m-.5-1.8h.9m-.9 .3h.9m.3-.1h.9m-.8 2.2h.9m-.8-3.5h.9m-.7 1.4h.9m-.8-.5h.9m-.7 .6h.9m-.7 1.6h.9m-.6 .6h.9m-.8-3.1h.9m-.3-16.3h.9m-.2 18.7h.9m-.4-2.9h.9m-.8-15h.9m-.8 14.6h.9m.6 2.7h.9m-.8-3.1h.9m0 4.1h.9m-.2-2.7h.9m-.3 .9h.9m-.5-.6h.9m-.8 2.5h.9m-.7-3.4h.9m-.7 .5h.9m0-.8h.9m-.9 1.2h.9m-.7-2.3h.9m-.8 3.1h.9m.3-.1h.9m-.8-.4h.9M488.5 494.6h.9m-.8 1.4h.9m-.8-.2h.9m0-1.1h.9m-.9 1.2h.9m-.7 1.3h.9m-.9 .9h.9m-.8-3.3h.9m-.5 .2h.9m-.1-.2h.9m-.6 1h.9m-.2-2.3h.9m.1 2.3h.9m.2 1h.9m-.6-.5h.9m-.7 .5h.9m-.7 .3h.9m-.6-1.3h.9m-.2 1.2h.9m-.8-1.6h.9m-.5-8.8h.9m-.6 8.6h.9m-.7-.2h.9m-.4 1.5h.9m-.9 9.1h.9m-.5-9.7h.9m-.9-.1h.9m-.3 1.2h.9m-.9-2.4h.9m-.7 4.6h.9m-.7-12.9h.9m-.8 9.7h.9m-.8-2.4h.9m-.7 .3h.9m-.5 1.7h.9m-.2 .8h.9m-.6-.4h.9m-.3-.1h.9m-.5-.6h.9m-.3 2.5h.9m-.6-2.5h.9m-.6 2.8h.9m-.6-2.9h.9m-.5-2.6h.9m-.5 5.7h.9m-.8-3.1h.9m-.8 .7h.9m-.9 .1h.9m-.8 .9h.9m-.6-.4h.9m.2-1.2h.9m.7 .8h.9m-.5-1.6h.9m-.8 .4h.9m-.9 .5h.9m-.4 1.2h.9m-.7-2.6h.9" stroke="#4b3cf0" stroke-width=".9" stroke-opacity="0.7" fill="none"/>
<line x1="47.5" y1="516" x2="214.5" y2="516" stroke="#5040f0" stroke-width=".9" stroke-opacity="0.7"/>
<line x1="228.5" y1="516" x2="508.5" y2="516" stroke="#5040f0" stroke-width=".9" stroke-opacity="0.7"/>
<path d="M48 516.2h.9m-.2-3h.9m-.9 .9h.9m-.4 1.8h.9m-.7-1.7h.9m-.9 .9h.9m-.7-.6h.9m0 1.4h.9m1.2-1h.9m-.7 .1h.9m-.8-3h.9m-.7 3.6h.9m-.3-2.2h.9m-.9 .9h.9m0 0h.9m0-.8h.9m-.6 .8h.9m-.7 1.5h.9m-.6-1.9h.9m-.9-9.9h.9m.6 15.9h.9m-.7-4.1h.9m-.2 .1h.9m-.7-1.8h.9m-.9-.4h.9m-.4 1.6h.9m-.8-1.9h.9m-.6 0h.9m-.6 3.7h.9m-.8-1.6h.9m-.5 .8h.9m-.9-1.6h.9m-.8-.3h.9m-.6-.4h.9m-.6 .6h.9m-.7-.7h.9m-.6 .4h.9m-.8-.2h.9m-.6 .6h.9m-.7-.2h.9m0 .9h.9m-.9-.3h.9m-.8-1.1h.9m.4-.3h.9m0 1h.9m.7-1.5h.9m-.1 1.3h.9m-.6 .7h.9m-.8-.7h.9m0 .7h.9m-.8 1.3h.9m-.6 4.4h.9m-.8-6h.9m-.8 .4h.9m-.5 .5h.9m.3 3.1h.9m-.8-3.3h.9m.7-1.4h.9m-.4 .5h.9m-.5-.4h.9m-.9 1.3h.9m-.9-.8h.9m-.2 .1h.9m-.4 .3h.9m-.9-.8h.9m-.5 0h.9m-.7-.1h.9m-.5 .8h.9m-.2 1.1h.9m-.4-.3h.9m-.6-1.2h.9m-.3-.3h.9m-.4 .6h.9m-.9 1.6h.9m-.7-1.5h.9m-.3 .4h.9m-.4-.6h.9m-.2-.6h.9m-.6-.3h.9m-.2 .5h.9m-.7 0h.9m-.7-1.4h.9m.1 2.4h.9m-.7-1h.9m-.3 0h.9m-.8 2h.9m.1-1.7h.9m-.8-.1h.9m0 .9h.9m-.1 .7h.9m-.7-1h.9m-.9-.3h.9m-.1 2.5h.9m-.6-3.1h.9m-.7 .9h.9m-.5-1.7h.9m-.5 2.4h.9m-.6-1h.9m.4-.6h.9m-.9-.2h.9m.4 2h.9m-.8-1.8h.9m-.7 .1h.9m-.7-.1h.9m-.7-.1h.9m-.8-.2h.9m-.7-1.7h.9m-.5 3.6h.9m-.8-.6h.9m-.8-.6h.9m-.9-.2h.9m0-.1h.9m-.8-.7h.9m.9-.8h.9m1.1 1.3h.9m-.8-.3h.9m-.3-.2h.9m.1 .2h.9m0-.9h.9m.1 1.5h.9m.1 .1h.9m-.8 .1h.9m-.5-.7h.9m-.7 .9h.9m-.7-1.5h.9m.6 .9h.9m-.7 .5h.9m-.9 1.5h.9m.8-.4h.9m.5-1.3h.9m-.9 1h.9m-.8 0h.9m.5-1.3h.9m-.3 .6h.9m-.4-1.1h.9m0 1.8h.9m1.2-1.5h.9m.3 1.1h.9m-.3-.5h.9m-.4-1.7h.9m-.6 1.7h.9m-.6-.7h.9m-.8 .4h.9m-.6-.6h.9m-.7 1.6h.9m.1-.5h.9m.6 .8h.9m2.5-1h.9m1 1.5h.9m1.6-1.2h.9m-.2 .5h.9m-.7-2.5h.9m-.5 1.6h.9m0-7.1h.9m-.5 6.5h.9m.5 0h.9m-.5 1.2h.9m.8-2.1h.9m-.2 .5h.9m-.5 .8h.9m-.8 2.4h.9m.9-1.5h.9m-.3-.3h.9m-.7-.1h.9m-.3 1.4h.9m-.1-1.3h.9m1.9 .1h.9m-.1 .2h.9m2.2-1.2h.9m-.6 .1h.9m-.3-.2h.9m-.6 1.1h.9m-.4-.5h.9m.3 1.4h.9m-.6-2.6h.9m1.6 1.1h.9m0-.1h.9m-.7-.1h.9m-.3-.2h.9m-.4 1.7h.9m-.9-.8h.9m-.2 .4h.9m-.8-1.1h.9m-.4 .7h.9m-.7 .9h.9m.5-2.9h.9m-.7 1.8h.9m-.6 1.5h.9m-.3-2.6h.9m-.2-2.2h.9m-.2 2.5h.9m1.2 0h.9m.3 0h.9m-.8 .3h.9m-.1 1.7h.9m-.1-2.4h.9m-.1 1.5h.9m-.3-2.1h.9m.1 2.1h.9m-.9-.6h.9m.5-.9h.9m-.8 1.4h.9m.5-.6h.9m.4 .4h.9m-.2-.7h.9m-.7-.5h.9m-.9 1h.9m-.3 1.2h.9m-.6-.7h.9m3.4-1.3h.9m-.1 2.3h.9m-.8 .8h.9m-.5-1.3h.9m-.7-.9h.9m-.8-.3h.9m-.2 .4h.9m-.4-2.4h.9m-.6-2.2h.9m.9 3.9h.9m-.8 .9h.9m-.9-.6h.9m-.1 .6h.9m-.5-1.7h.9m-.1 1.7h.9m-.2-1.5h.9m-.4 .8h.9m-.4 1.3h.9m-.8 1.1h.9m-.9-4.6h.9m-.6 1h.9m-.6 2.4h.9m-.3-.8h.9m-.7-.1h.9m-.7 .4h.9m-.2-.3h.9m-.6 1.4h.9m.1-2.4h.9m-.9 .1h.9m.1 1.5h.9m-.1 0h.9m0-1.9h.9m-.7 1.3h.9m1.2 .1h.9m-.3 .2h.9m.5 .1h.9m-.8-.1h.9m-.7 1h.9m-.5-3.7h.9m-.8 4.2h.9m-.5-2.4h.9m-.2 .6h.9m.3 1.5h.9m-.2-1.5h.9m-.1 .3h.9m-.8 0h.9m-.8-1.7h.9m-.7 1.7h.9m-.5-.1h.9m-.7-.6h.9m-.8 .5h.9m-.3-1.8h.9m1.1 2.5h.9m-.1-1.2h.9m-.6-.1h.9m-.7 2.8h.9m-.5-2.5h.9m-.5-.3h.9m-.5-.5h.9m-.9-.3h.9m-.6 1.4h.9m-.5-.3h.9m-.4 .3h.9m-.6 1.7h.9m-.7-2h.9m-.6-.6h.9m-.7 1.6h.9m.2-2.8h.9m-.1 3.4h.9m-.8-1.6h.9m-.2-.4h.9m0 1.1h.9m-.5-1.8h.9m-.5 1.1h.9M228.6 516.3h.9m-.7-1h.9m-.5 .3h.9m2-1h.9m-.1 1.7h.9m0-1.7h.9m-.1 .7h.9m.2-2.4h.9m-.8 .7h.9m-.7 .1h.9m-.2 .7h.9m-.7-.1h.9m-.5-.2h.9m1.4 1.1h.9m-.4-.6h.9m-.8 1.4h.9m.6-.8h.9m-.1-1.5h.9m0 0h.9m1.5 .7h.9m-.7 .6h.9m-.5 0h.9m-.5 .6h.9m2.1 .4h.9m-.8 .1h.9m-.4-1.3h.9m1.1 1.6h.9m-.8-.6h.9m-.8-.7h.9m-.5-.8h.9m.2 .3h.9m1-1.5h.9m1 .6h.9m-.8 .9h.9m-.8 1h.9m-.8-.2h.9m-.5-.5h.9m-.1-.5h.9m-.1 2h.9m-.8-3.6h.9m.1 3h.9m.4-.8h.9m-.4 0h.9m-.7-1.2h.9m-.6 1.8h.9m-.8-.2h.9m-.8 2.6h.9m-.2-1.9h.9m-.4-.5h.9m-.4 .4h.9m-.8-1.5h.9m-.3 .2h.9m-.7-.3h.9m.2-.2h.9m-.9 2.6h.9m-.1-2.6h.9m-.2 3.1h.9m-.2-3.2h.9m-.8 .2h.9m-.8-1.6h.9m-.7 2.4h.9m.1 .4h.9m.3-1.6h.9m-.8 1.8h.9m-.5-.6h.9m-.5-1.3h.9m-.7 1.6h.9m.2 0h.9m-.8 .4h.9m-.3-2.6h.9m-.4 2.4h.9m-.8-.6h.9m-.3 .9h.9m-.4-2.3h.9m.2 1.1h.9m-.7 1h.9m-.6-1.3h.9m.5-.2h.9m-.7-.4h.9m-.9 1.4h.9m-.3-.1h.9m3.4-1.1h.9m-.6 1.1h.9m-.8 1.4h.9m-.8-3.5h.9m-.6 2.2h.9m-.7 1.9h.9m-.4-2.5h.9m-.7 .5h.9m.3 1.6h.9m-.5-2.2h.9m-.1 .4h.9m-.6 .3h.9m-.7-.2h.9m.7-1.6h.9m-.5 2.1h.9m-.8-1.3h.9m-.4 .9h.9m-.9-.3h.9m0-.6h.9m-.6 .5h.9m.1-.8h.9m.1 1.1h.9m-.6-.1h.9m-.7-.5h.9m-.7 .6h.9m-.4-.1h.9m-.6 .2h.9m-.4-.8h.9m-.7 1.7h.9m-.8-1.8h.9m-.6 2.6h.9m-.4-2.4h.9m-.4 .7h.9m-.7-.5h.9m-.2-.3h.9m-.8 2.3h.9m-.4-2.8h.9m-.9 1.9h.9m-.7-2.2h.9m-.2 1.9h.9m-.1-.1h.9m-.5 1.1h.9m.9-1.5h.9m-.6-.9h.9m-.8 .9h.9m-.4 .1h.9m-.2-1.2h.9m-.9 .8h.9m-.9-1.1h.9m.6 .8h.9m.2 .1h.9m-.2 .5h.9m-.7-1.6h.9m-.7 2.2h.9m-.8-1.9h.9m-.9 2.3h.9m1.1 0h.9m-.6-2.9h.9m-.6 2.1h.9m-.8-.2h.9m-.8 0h.9m-.7 .5h.9m-.7-1.2h.9m.8 2.6h.9m-.5-1.2h.9m-.8 1.2h.9m.2-1.3h.9m-.9-.3h.9m-.3-.2h.9m.4-4.3h.9m-.4 6h.9m.6 .2h.9m.6-3.8h.9m.2 1.4h.9m.5 .7h.9m-.7-2.6h.9m1.3 2.8h.9m-.8 1.4h.9m0-1.7h.9m.7-.3h.9m-.5 .7h.9m-.3-1.9h.9m0 1.5h.9m-.5 .2h.9m-.8 1.1h.9m-.5-2.1h.9m.7-.3h.9m-.9-.6h.9m-.2 .3h.9m-.6 .4h.9m.3 1.2h.9m-.6 .1h.9m-.8-1.3h.9m1.8-.8h.9m-.4 4.8h.9m-.4-3.8h.9m.6 .9h.9m-.6-.9h.9m-.5 1.7h.9m-.9-1.1h.9m.2-.1h.9m.5-3.2h.9m-.8 3.1h.9m-.6 .3h.9m.2 1.2h.9m0-1.4h.9m-.6 .6h.9m-.2-1.3h.9m-.4 .6h.9m-.9 2.5h.9m-.6-2.4h.9m-.1-.6h.9m-.8 .8h.9m-.7-.3h.9m-.8 .4h.9m0 0h.9m-.7-1.4h.9m-.5 .8h.9m-.7 .4h.9m1.2 .1h.9m-.6-1.5h.9m-.8-2.3h.9m-.8 3.1h.9m-.4 1.2h.9m-.5-.4h.9m-.4 0h.9m-.5-.1h.9m-.7 .6h.9m-.8 .2h.9m.4-2.2h.9m-.1 .3h.9m-.7-.4h.9m-.2 2.8h.9m.3 0h.9m-.4-1.9h.9m-.6-.6h.9m-.7 5.8h.9m-.9-3.6h.9m-.2-1h.9m-.4-.1h.9m-.8 1h.9m-.9-2.8h.9m-.5 3.7h.9m-.8-2.8h.9m-.7-.5h.9m-.6 2.7h.9m-.9 .1h.9m-.2-4.3h.9m-.7 2.5h.9m-.5-.6h.9m-.8 2.6h.9m-.9-.4h.9m-.8-1.6h.9m-.5 .7h.9m0-.7h.9m-.5 1.8h.9m.7-3.7h.9m0 2.4h.9m-.9 .2h.9m-.8-.3h.9m-.2 2.7h.9m-.5-2.4h.9m.5-1.1h.9m-.7 1.8h.9m.4-.9h.9m-.8-.3h.9m.1 .6h.9m-.7-.8h.9m.1 1.9h.9m-.9-.9h.9m-.9-1.8h.9m-.8 2.7h.9m.3-.8h.9m-.6-2.3h.9m-.8 .2h.9m.5 1.7h.9m-.2-.9h.9m0-.3h.9m-.8 1.4h.9m-.4 .7h.9m-.8-1.6h.9m-.6-6.9h.9m-.7 7.6h.9m.1-1h.9m-.8 1h.9m-.5-2.4h.9m.7 2.5h.9m-.5-1.9h.9m-.6 2.2h.9m-.7-1.3h.9m-.1 0h.9m.8-.1h.9m-.1 2.4h.9m-.8-2h.9m-.8 .7h.9m-.6-.2h.9m-.8 0h.9m-.9-.3h.9m1 .6h.9m-.8-.5h.9m-.5-1.2h.9m-.7 2.6h.9m-.6-2.1h.9m-.7 .8h.9m.7 2h.9m-.5-1.8h.9m-.6 .4h.9m-.4-.1h.9m-.2-2.1h.9m0 .5h.9m-.6 2.3h.9m1.4-.2h.9m-.7-1h.9m-.6-1.3h.9m-.5 .2h.9m-.8 2.6h.9m-.9-2h.9m-.7 3.4h.9m-.8-3.9h.9m-.4 1.5h.9m-.8-.2h.9m-.6-.6h.9m-.8 .6h.9m-.3-1.6h.9m-.8 .9h.9m-.4-1.1h.9m-.7-.2h.9m-.6-.6h.9m.7 4.6h.9m.3-2.8h.9m-.3-.1h.9m-.4-.4h.9m-.1 .4h.9m1.9 2.4h.9m1.7-2.6h.9m-.1 .7h.9m-.7 1.5h.9m-.9-.9h.9m.3-.6h.9m-.9-.5h.9m-.8 .1h.9m-.1 1.2h.9m-.6-2.6h.9m-.2 1.5h.9m-.7 .5h.9m-.4-.4h.9m-.4-1.3h.9m-.4 2.2h.9m-.6-1h.9m-.1 .8h.9m-.8-.5h.9m.4 .2h.9m-.7 0h.9m-.8-.6h.9m-.7 .9h.9m0-.6h.9m-.6 .3h.9m-.8-.3h.9m-.9-.2h.9m-.3-1.8h.9m-.1 1.9h.9m-.5 1.3h.9m-.7 .8h.9m-.9 0h.9m-.5-1.7h.9m-.9-1.3h.9m-.4 .4h.9m-.6-1.1h.9m-.5 3h.9m-.8-1h.9m-.3-.3h.9m-.6-1.9h.9m0 3.1h.9m-.9-1.1h.9m-.7-1.7h.9m-.5 2.8h.9m-.1-.4h.9m-.9-2.9h.9m-.1 1h.9m-.6 2.3h.9m-.6-2.9h.9m.8 1.9h.9m.2-.1h.9m-.7 .9h.9m-.8-.9h.9m.2-.1h.9m-.6 1.6h.9m0-.6h.9m-.9-.2h.9m.3-1.7h.9m.2 .9h.9m-.6-.2h.9m-.3-.5h.9m-.3-.4h.9m.4 .8h.9m-.5 .5h.9m0 1h.9m-.6-2.3h.9m0 .6h.9m-.8-.3h.9m-.3-.1h.9m-.3 .7h.9m-.8 .1h.9m0 1.3h.9m.1-3h.9m.5 1.3h.9m-.4 .4h.9m-.1 1.3h.9m-.1-.9h.9m.7-.4h.9m-.6-.7h.9m.4 1.1h.9m.4 3.2h.9m-.8-2.5h.9m-.5-1.9h.9m-.7 .3h.9m.4 0h.9m-.6 1.2h.9m-.7 .6h.9m-.9-2.5h.9m2.9 .8h.9m-.8 .2h.9m.7 .4h.9m-.2 2.2h.9m-.6-1.3h.9m.3-1.5h.9m-.8-2h.9m-.7 2h.9m.3 1.1h.9m.3 1.7h.9m-.7-6.9h.9m.4 5.6h.9m-.8-.4h.9m0 0h.9m.3 0h.9m.9-1.2h.9m-.8 2h.9m.1-.9h.9m-.8-.1h.9m-.9-.8h.9m-.8 2.8h.9m1.4-2.4h.9m-.6 .7h.9m-.6 0h.9m-.6-.7h.9m1 .8h.9m-.1-1.1h.9m-.7 .6h.9m1.2-.6h.9m-.8 2h.9m-.4-1h.9m-.2-.7h.9m-.2 .7h.9m-.4-1.6h.9m-.8 3.4h.9m-.5-2.3h.9m-.4-1.8h.9m-.7 3h.9m-.8-1.4h.9m.2 1.6h.9m-.3-.4h.9m-.4-1.6h.9m-.7 .8h.9m-.7-1.1h.9m-.6 .6h.9m-.8 .5h.9m.2-2.2h.9m-.8 1.5h.9m-.8-.9h.9m-.5 1.5h.9m2-2.5h.9m-.4 2h.9m-.6-.7h.9m-.7 2.1h.9m-.4 .4h.9m-.1-3.4h.9m-.1 2.9h.9m-.8-5.9h.9m-.6 6.6h.9m-.5-3.2h.9m0 .3h.9m-.3 1.8h.9m-.3-1.5h.9m-.5 1h.9m.2-.6h.9m-.6-1.2h.9m-.7 .4h.9m-.2 1.6h.9m-.2-1.4h.9m-.2 1.4h.9m-.3-1h.9m.5-.7h.9m-.6 2.4h.9" stroke="#4b3cf0" stroke-width=".9" stroke-opacity="0.6" fill="none"/>
<line x1="472.5" y1="364.6" x2="472.5" y2="528" stroke="#9090f0" stroke-width=".5" stroke-dasharray="1,1"/>
<line x1="50" y1="527.2" x2="508" y2="527.2" stroke="#888" stroke-width=".6" stroke-dasharray="1.5,1"/>
<rect x="76.5" y="525.2" width="6" height="1.2" fill="#999"/>
<rect x="105.6" y="525.2" width="6" height="1.2" fill="#999"/>
<rect x="134.7" y="525.2" width="6" height="1.2" fill="#999"/>
<rect x="163.8" y="525.2" width="6" height="1.2" fill="#999"/>
<rect x="192.9" y="525.2" width="6" height="1.2" fill="#999"/>
<rect x="222" y="525.2" width="6" height="1.2" fill="#999"/>
<rect x="251.1" y="525.2" width="6" height="1.2" fill="#999"/>
<rect x="280.2" y="525.2" width="6" height="1.2" fill="#999"/>
<rect x="309.3" y="525.2" width="6" height="1.2" fill="#999"/>
<rect x="338.4" y="525.2" width="6" height="1.2" fill="#999"/>
<rect x="367.5" y="525.2" width="6" height="1.2" fill="#999"/>
<rect x="396.6" y="525.2" width="6" height="1.2" fill="#999"/>
<rect x="425.7" y="525.2" width="6" height="1.2" fill="#999"/>
<rect x="454.8" y="525.2" width="6" height="1.2" fill="#999"/>
<rect x="483.9" y="525.2" width="6" height="1.2" fill="#999"/>
<rect x="52" y="529" width="16" height="3.6" fill="#c8c8c8"/>
<rect x="68" y="529" width="18" height="3.6" fill="#3a3a3a"/>
<rect x="86" y="529" width="8.5" height="3.6" fill="#d0d0d0"/>
<rect x="94.5" y="529" width="12.8" height="3.6" fill="#2a2a2a"/>
<rect x="107.3" y="529" width="13.5" height="3.6" fill="#d8d8d8"/>
<rect x="120.8" y="529" width="9" height="3.6" fill="#888"/>
<rect x="129.8" y="529" width="18.2" height="3.6" fill="#444"/>
<rect x="148" y="529" width="4" height="3.6" fill="#ccc"/>
<rect x="152" y="529" width="18" height="3.6" fill="#555"/>
<rect x="170" y="529" width="8" height="3.6" fill="#bbb"/>
<rect x="178" y="529" width="10" height="3.6" fill="#444"/>
<rect x="188" y="529" width="8" height="3.6" fill="#e0e0e0"/>
<rect x="196" y="529" width="8" height="3.6" fill="#666"/>
<rect x="204" y="529" width="16" height="3.6" fill="#ccc"/>
<rect x="220" y="529" width="8" height="3.6" fill="#888"/>
<rect x="228" y="529" width="8" height="3.6" fill="#ddd"/>
<rect x="236" y="529" width="14" height="3.6" fill="#999"/>
<rect x="250" y="529" width="8" height="3.6" fill="#ccc"/>
<rect x="258" y="529" width="8" height="3.6" fill="#bbb"/>
<rect x="266" y="529" width="6" height="3.6" fill="#e0e0e0"/>
<rect x="272" y="529" width="25" height="3.6" fill="#1a1a1a"/>
<rect x="297" y="529" width="5" height="3.6" fill="#ccc"/>
<rect x="302" y="529" width="8" height="3.6" fill="#777"/>
<rect x="310" y="529" width="6" height="3.6" fill="#ddd"/>
<rect x="316" y="529" width="14" height="3.6" fill="#333"/>
<rect x="330" y="529" width="8" height="3.6" fill="#ccc"/>
<rect x="338" y="529" width="10" height="3.6" fill="#888"/>
<rect x="348" y="529" width="10" height="3.6" fill="#ddd"/>
<rect x="358" y="529" width="22" height="3.6" fill="#333"/>
<rect x="380" y="529" width="8" height="3.6" fill="#ddd"/>
<rect x="388" y="529" width="8" height="3.6" fill="#444"/>
<rect x="396" y="529" width="14" height="3.6" fill="#ddd"/>
<rect x="410" y="529" width="15" height="3.6" fill="#444"/>
<rect x="425" y="529" width="7" height="3.6" fill="#ccc"/>
<rect x="432" y="529" width="13" height="3.6" fill="#ddd"/>
<rect x="445" y="529" width="10" height="3.6" fill="#777"/>
<rect x="455" y="529" width="7" height="3.6" fill="#ddd"/>
<rect x="462" y="529" width="12" height="3.6" fill="#333"/>
<rect x="474" y="529" width="6" height="3.6" fill="#ccc"/>
<rect x="480" y="529" width="15" height="3.6" fill="#ddd"/>
<rect x="495" y="529" width="13" height="3.6" fill="#ccc"/>
<rect x="50" y="532.8" width="458" height="2.2" fill="#d4f2e0"/>
<rect x="431.6" y="375" width="56.2" height="140" fill="none" stroke="#f0925a" stroke-width="1.2"/>
</svg>
</body></html>
